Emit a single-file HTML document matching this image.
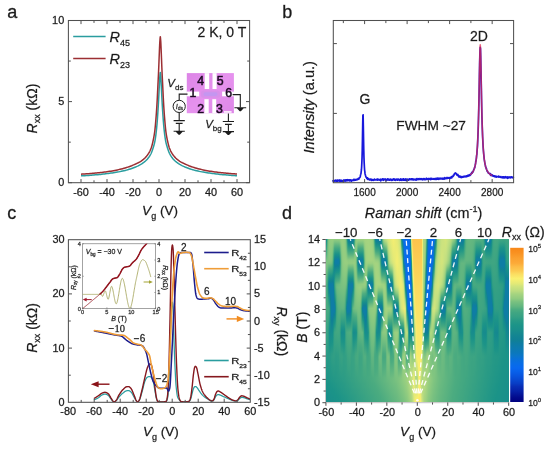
<!DOCTYPE html>
<html><head><meta charset="utf-8"><title>Figure</title>
<style>
html,body{margin:0;padding:0;background:#fff}
#fig{position:relative;width:550px;height:450px;overflow:hidden;background:#fff}
#fig svg{position:absolute;left:0;top:0;display:block;filter:blur(0.38px)}
#hm{position:absolute;left:325.8px;top:239.2px;width:183px;height:163.2px;display:flex;filter:blur(0.3px)}
#hm i{display:block;flex:1 1 0;height:100%}
</style></head><body>
<div id="fig">
<div id="hm"><i style="background:linear-gradient(#188e8b,#1e9587,#2c9c85,#39a283,#44a881,#52af80,#65b880,#77c080,#7fc480,#79c180,#74be80,#6ebc80,#68b980,#62b680,#5cb380,#55b080,#52ae80,#50ae80,#4fad80,#4dac80,#4bab80,#4bab80,#4aab80,#49aa80,#47a980,#45a881,#43a781,#41a681,#3fa582,#3da482,#3ba382,#39a283,#37a183,#36a183,#34a083,#329f84,#309e84,#2e9d84,#2c9c85,#2a9b85,#289a85,#279986,#259886,#239786,#219687,#209687,#1e9587,#1c9487,#1b9388,#1b9288,#1a9189,#1a918a,#19908a,#198f8b,#188e8b)"></i><i style="background:linear-gradient(#4ead80,#56b080,#5db480,#64b780,#6bba80,#71bd80,#78c080,#7ec380,#7ec380,#74be80,#69ba80,#5eb480,#53af80,#49aa80,#43a781,#3ca482,#3aa382,#3ca482,#3ea582,#40a681,#42a781,#44a881,#46a980,#48aa80,#46a980,#44a881,#42a781,#40a681,#3ea582,#3ba382,#39a283,#37a183,#35a083,#339f84,#319e84,#2f9d84,#2d9c85,#2b9b85,#299a85,#279986,#269986,#259886,#239786,#229786,#219687,#209687,#1e9587,#1d9487,#1b9388,#1b9288,#1a9289,#1a9189,#19908a,#198f8a,#188e8b)"></i><i style="background:linear-gradient(#7ec380,#7fc480,#7fc480,#80c480,#81c480,#81c580,#82c580,#82c580,#7bc280,#67b880,#51ae80,#42a781,#34a083,#249886,#19908a,#148890,#148890,#178d8c,#1a9189,#219687,#2b9b85,#34a083,#3ca482,#44a881,#43a781,#3fa582,#3ca482,#38a283,#34a083,#309e84,#2c9c85,#289a85,#289a85,#289a85,#289a85,#289a85,#289a85,#289a85,#279986,#279986,#269986,#259886,#249886,#229786,#219687,#209687,#1f9587,#1d9487,#1b9388,#1b9388,#1b9289,#1a9189,#1a908a,#19908a,#198f8b)"></i><i style="background:linear-gradient(#8eca80,#8cca80,#8bc980,#8ac980,#88c880,#87c780,#86c780,#84c680,#7ac180,#60b580,#47a980,#37a183,#249886,#188e8c,#128393,#0e7da5,#0e7da5,#0f7e9b,#138592,#168b8e,#1a918a,#219687,#2d9c85,#37a183,#34a083,#2f9d84,#2a9b85,#249886,#1e9587,#1b9289,#198f8a,#188d8c,#198f8b,#1a908a,#1b9289,#1b9388,#1f9587,#229786,#269986,#289a85,#279986,#269986,#249886,#239786,#229786,#219687,#209687,#1e9587,#1c9487,#1b9388,#1b9288,#1a9289,#1a9189,#19908a,#198f8b)"></i><i style="background:linear-gradient(#93cc80,#91cc80,#8fcb80,#8dca80,#8bc980,#88c880,#86c780,#84c680,#79c180,#5fb580,#47a980,#36a183,#229786,#188d8c,#118294,#0e7da5,#0e7da5,#0e7da5,#0e7da5,#0f7e9d,#108095,#128393,#148691,#15898f,#168a8e,#168a8e,#168a8e,#168a8e,#168b8e,#168b8e,#168b8e,#178b8d,#188d8c,#198f8a,#1a9189,#1b9388,#1f9587,#239786,#279986,#299a85,#289a85,#279986,#269986,#249886,#239786,#229786,#219687,#1f9587,#1d9487,#1b9388,#1b9388,#1b9289,#1a9189,#1a908a,#198f8a)"></i><i style="background:linear-gradient(#95cd80,#92cc80,#8fcb80,#8cca80,#89c880,#86c780,#83c580,#7fc480,#74be80,#5ab280,#44a881,#339f84,#209687,#178c8d,#118194,#0e7da5,#0e7da5,#0e7da5,#0e7da5,#0e7da5,#0e7da5,#0e7da5,#0e7da5,#0e7da5,#0e7da5,#0e7da5,#0f7e9d,#108095,#128393,#138691,#15898f,#178c8d,#188e8b,#19908a,#1b9288,#1d9487,#229786,#269986,#2b9b85,#2d9c85,#2c9c85,#2a9b85,#289a85,#279986,#259886,#239786,#229786,#209687,#1e9587,#1c9487,#1b9388,#1b9288,#1a9289,#1a9189,#19908a)"></i><i style="background:linear-gradient(#96ce80,#91cc80,#8bc980,#85c780,#7fc480,#79c180,#72be80,#6cbb80,#5fb480,#49aa80,#3aa382,#2b9b85,#1b9288,#168a8e,#108095,#0e7da5,#0e7da5,#0e7da5,#0e7da5,#0e7da5,#0e7da5,#0e7da5,#0e7da5,#0e7da5,#0e7da5,#0e7da5,#0e7e9f,#108095,#128393,#148791,#168a8e,#178d8c,#198f8b,#1a9189,#1b9388,#209687,#249886,#299a85,#2d9c85,#309e84,#2e9d84,#2c9c85,#2a9b85,#289a85,#279986,#259886,#239786,#219687,#1f9587,#1d9487,#1b9388,#1b9388,#1b9289,#1a9189,#1a908a)"></i><i style="background:linear-gradient(#96ce80,#89c880,#7bc280,#6cbb80,#5db480,#4cac80,#42a781,#38a283,#2f9d84,#279986,#1f9587,#1a9189,#188d8c,#15898f,#128492,#0f7f97,#0e7e9e,#0e7da2,#0e7da5,#0e7da5,#0e7da5,#0e7da5,#0e7da5,#0e7da5,#0e7da5,#0e7e9e,#118294,#148790,#178b8d,#19908a,#1d9487,#259886,#279986,#289a85,#2a9b85,#2b9b85,#2d9c85,#2f9d84,#309e84,#319e84,#2f9d84,#2d9c85,#2b9b85,#299a85,#289a85,#269986,#249886,#229786,#209687,#1e9587,#1c9487,#1b9388,#1b9288,#1a9189,#1a9189)"></i><i style="background:linear-gradient(#95cd80,#7ec380,#65b780,#4aab80,#39a283,#269986,#198f8b,#128492,#0f7f98,#128493,#15888f,#178d8c,#1a9189,#1e9587,#269986,#2e9d84,#2b9b85,#219687,#1a9189,#178c8d,#148790,#108195,#0e7da3,#0e7da5,#0e7da5,#108195,#148790,#188e8c,#1b9388,#269986,#329f84,#3ba382,#3aa382,#38a283,#37a183,#36a183,#34a083,#339f84,#319e84,#309e84,#2e9d84,#2d9c85,#2b9b85,#2a9b85,#289a85,#269986,#259886,#239786,#219687,#1f9587,#1d9487,#1b9388,#1b9388,#1b9289,#1a9189)"></i><i style="background:linear-gradient(#95cd80,#7bc280,#5eb480,#44a881,#309e84,#1b9388,#148790,#0e7da5,#0e7da5,#0f7f97,#15888f,#1a908a,#259886,#34a083,#42a781,#51ae80,#4fad80,#44a881,#3ba382,#309e84,#259886,#1b9288,#178d8c,#148791,#168a8e,#188e8b,#1b9288,#219687,#2a9b85,#329f84,#3aa382,#40a681,#3ea582,#3ca482,#39a283,#37a183,#34a083,#319e84,#2f9d84,#2d9c85,#2c9c85,#2b9b85,#2a9b85,#289a85,#279986,#269986,#259886,#249886,#229786,#209687,#1e9587,#1c9487,#1b9388,#1b9288,#1a9189)"></i><i style="background:linear-gradient(#95cd80,#7cc280,#5eb480,#44a881,#309e84,#1b9288,#148790,#0e7da5,#0e7da5,#108095,#168a8e,#1b9388,#2c9c85,#3ca482,#4aab80,#62b680,#66b880,#5fb480,#57b180,#4ead80,#48aa80,#44a881,#3fa582,#3aa382,#3aa382,#3ba382,#3da482,#3ea582,#3fa582,#40a681,#41a681,#42a781,#3fa582,#3da482,#3aa382,#38a283,#35a083,#329f84,#2f9d84,#2d9c85,#2c9c85,#2b9b85,#2a9b85,#299a85,#289a85,#279986,#269986,#259886,#239786,#219687,#1f9587,#1d9487,#1b9388,#1b9388,#1a9289)"></i><i style="background:linear-gradient(#96ce80,#7cc280,#5fb480,#44a881,#309e84,#1b9388,#148790,#0e7da5,#0e7da5,#108095,#168b8e,#1c9487,#2f9d84,#3fa582,#4fad80,#68b980,#6fbc80,#6aba80,#66b880,#61b680,#5cb380,#57b180,#53af80,#4eac80,#4bab80,#4aab80,#49aa80,#48aa80,#47a980,#45a881,#44a881,#43a781,#40a681,#3ea582,#3ba382,#38a283,#36a183,#339f84,#309e84,#2e9d84,#2d9c85,#2c9c85,#2b9b85,#2a9b85,#299a85,#289a85,#279986,#269986,#249886,#229786,#209687,#1e9587,#1c9487,#1b9388,#1b9288)"></i><i style="background:linear-gradient(#96ce80,#7cc280,#5fb580,#45a881,#319e84,#1b9388,#148790,#0e7da5,#0e7da5,#108194,#178c8d,#1e9587,#309e84,#41a681,#52af80,#6cbb80,#72be80,#6ebc80,#6bba80,#67b880,#63b680,#5fb580,#5bb380,#57b180,#53af80,#50ae80,#4dac80,#4aab80,#48aa80,#47a980,#45a881,#43a781,#40a681,#3ea582,#3ca482,#39a283,#37a183,#34a083,#319e84,#2f9d84,#2e9d84,#2d9c85,#2c9c85,#2b9b85,#2a9b85,#299a85,#289a85,#269986,#259886,#239786,#219687,#1f9587,#1d9487,#1b9388,#1b9388)"></i><i style="background:linear-gradient(#97ce80,#80c480,#66b880,#4aab80,#39a283,#269986,#198f8b,#128493,#108095,#168a8e,#1a9289,#299a85,#38a283,#46a980,#59b280,#6fbc80,#74bf80,#71bd80,#6dbb80,#6aba80,#66b880,#62b680,#5eb480,#5bb380,#56b080,#51ae80,#4dac80,#49aa80,#47a980,#44a881,#41a681,#3fa582,#3ea582,#3ca482,#3ba382,#3aa382,#38a283,#37a183,#36a183,#34a083,#339f84,#319e84,#309e84,#2e9d84,#2c9c85,#2b9b85,#299a85,#279986,#269986,#249886,#229786,#209687,#1e9587,#1c9487,#1b9388)"></i><i style="background:linear-gradient(#98cf80,#8cca80,#7dc380,#6ebc80,#5fb480,#4ead80,#43a781,#39a283,#35a083,#3da482,#43a781,#4aab80,#54b080,#5fb580,#6aba80,#75bf80,#76c080,#73be80,#6fbc80,#6cbb80,#68b980,#64b780,#61b580,#5db480,#54b080,#4bab80,#46a980,#40a681,#3aa382,#34a083,#2e9d84,#289a85,#2a9b85,#2c9c85,#2e9d84,#309e84,#329f84,#34a083,#36a183,#37a183,#35a083,#339f84,#319e84,#309e84,#2e9d84,#2c9c85,#2a9b85,#289a85,#269986,#259886,#239786,#219687,#1f9587,#1d9487,#1b9388)"></i><i style="background:linear-gradient(#99cf80,#95cd80,#90cb80,#8bc980,#85c780,#80c480,#7ac180,#74be80,#71bd80,#72be80,#73be80,#75bf80,#76bf80,#77c080,#78c180,#7ac180,#78c080,#74bf80,#71bd80,#6dbb80,#6aba80,#66b880,#62b680,#5eb480,#51ae80,#47a980,#3ea582,#35a083,#2b9b85,#219687,#1a9189,#178d8c,#198f8a,#1b9289,#1e9587,#249886,#2a9b85,#2f9d84,#35a083,#37a183,#36a183,#34a083,#329f84,#309e84,#2f9d84,#2d9c85,#2b9b85,#299a85,#279986,#269986,#249886,#229786,#209687,#1e9587,#1c9487)"></i><i style="background:linear-gradient(#99cf80,#97ce80,#96ce80,#94cd80,#92cc80,#90cb80,#8eca80,#8cca80,#89c980,#88c880,#86c780,#84c680,#82c580,#80c480,#7ec380,#7cc280,#79c180,#76bf80,#72be80,#6ebc80,#6bba80,#67b880,#63b780,#5fb580,#52af80,#47a980,#3ea582,#35a083,#2b9b85,#209687,#1a908a,#178c8d,#198f8b,#1a9189,#1d9487,#239786,#289a85,#2e9d84,#339f84,#36a183,#35a083,#339f84,#329f84,#309e84,#2f9d84,#2d9c85,#2c9c85,#2a9b85,#289a85,#269986,#259886,#239786,#219687,#1f9587,#1d9487)"></i><i style="background:linear-gradient(#98cf80,#97ce80,#97ce80,#96ce80,#95cd80,#94cd80,#94cd80,#93cc80,#91cc80,#8fcb80,#8cca80,#89c880,#86c780,#83c680,#81c480,#7ec380,#7ac180,#76c080,#72be80,#6fbc80,#6bba80,#67b880,#62b680,#5eb480,#51ae80,#46a980,#3ea582,#35a083,#2b9b85,#209687,#1a9189,#178c8d,#198f8b,#1a9189,#1b9388,#209687,#259886,#2a9b85,#2f9d84,#329f84,#319e84,#309e84,#309e84,#2f9d84,#2e9d84,#2d9c85,#2c9c85,#2b9b85,#299a85,#279986,#269986,#249886,#229786,#209687,#1e9587)"></i><i style="background:linear-gradient(#94cd80,#94cd80,#94cd80,#95cd80,#95cd80,#95cd80,#95cd80,#96ce80,#95cd80,#92cc80,#8fcb80,#8cca80,#88c880,#85c680,#81c580,#7ec380,#7ac180,#75bf80,#70bd80,#6bba80,#66b880,#61b680,#5cb380,#56b180,#4bab80,#44a881,#3ca482,#34a083,#2c9c85,#239786,#1b9288,#198f8b,#1a9189,#1b9388,#1e9587,#239786,#279986,#2c9c85,#309e84,#329f84,#329f84,#319e84,#309e84,#309e84,#2f9d84,#2e9d84,#2d9c85,#2c9c85,#2a9b85,#299a85,#279986,#259886,#239786,#219687,#1f9587)"></i><i style="background:linear-gradient(#87c780,#89c880,#8bc980,#8eca80,#90cb80,#92cc80,#94cd80,#97ce80,#96ce80,#93cc80,#8fcb80,#8bc980,#87c880,#83c680,#7fc480,#7bc280,#74be80,#6bba80,#61b680,#58b180,#4dac80,#47a980,#41a681,#3ba382,#3aa382,#39a283,#38a283,#37a183,#36a183,#35a083,#34a083,#339f84,#339f84,#339f84,#339f84,#339f84,#339f84,#34a083,#34a083,#339f84,#339f84,#329f84,#319e84,#319e84,#309e84,#2f9d84,#2f9d84,#2d9c85,#2b9b85,#2a9b85,#289a85,#269986,#249886,#229786,#209687)"></i><i style="background:linear-gradient(#59b280,#62b680,#6cbb80,#74bf80,#7dc380,#85c780,#8dca80,#95cd80,#97ce80,#91cc80,#8cca80,#85c780,#7fc380,#78c080,#71bd80,#6aba80,#5cb380,#4aab80,#3fa582,#339f84,#259886,#1a9189,#168b8e,#118393,#148790,#178c8c,#1a9289,#229786,#2c9c85,#36a183,#3fa582,#47a980,#45a881,#43a781,#41a681,#3ea582,#3ca482,#3aa382,#38a283,#36a183,#35a083,#34a083,#339f84,#329f84,#329f84,#319e84,#309e84,#2e9d84,#2d9c85,#2b9b85,#299a85,#279986,#259886,#239786,#219687)"></i><i style="background:linear-gradient(#1a908a,#259886,#35a083,#43a781,#53af80,#69b980,#7ec380,#90cb80,#96ce80,#89c880,#7bc280,#6cbb80,#5cb380,#4bab80,#42a781,#37a183,#2d9c85,#229786,#1a9189,#178c8d,#148691,#108095,#0e7da5,#0e7da5,#0e7da5,#118294,#168a8e,#1a9289,#279986,#34a083,#41a681,#4cac80,#4aab80,#48aa80,#46a980,#44a881,#42a781,#40a681,#3ea582,#3ca482,#3ba382,#39a283,#38a283,#36a183,#34a083,#339f84,#319e84,#2f9d84,#2e9d84,#2c9c85,#2a9b85,#289a85,#269986,#249886,#239786)"></i><i style="background:linear-gradient(#0e7da5,#138592,#1a918a,#2c9c85,#40a681,#56b080,#73be80,#8dca80,#93cc80,#7bc280,#60b580,#47a980,#35a083,#219687,#178c8d,#108095,#0e7da3,#0e7da5,#0e7da5,#0e7da5,#0e7da5,#0e7da5,#0e7da5,#0e7da5,#0e7da5,#118294,#168b8e,#1b9289,#289a85,#36a183,#43a781,#4fad80,#4cac80,#4aab80,#48aa80,#46a980,#44a881,#43a781,#41a681,#3fa582,#3da482,#3ba382,#3aa382,#38a283,#36a183,#34a083,#329f84,#319e84,#2f9d84,#2d9c85,#2b9b85,#299a85,#289a85,#269986,#249886)"></i><i style="background:linear-gradient(#0e7da5,#118194,#188e8b,#289a85,#3da482,#53af80,#72be80,#8eca80,#93cc80,#78c080,#5ab280,#41a681,#2d9c85,#1a918a,#128492,#0e7da5,#0e7da5,#0e7da5,#0e7da5,#0e7da5,#0e7da5,#0e7da5,#0e7da5,#0e7da5,#0e7da5,#118393,#168b8d,#1b9288,#299a85,#37a183,#44a881,#51ae80,#4dac80,#4bab80,#49aa80,#47a980,#45a881,#43a781,#41a681,#40a681,#3ea582,#3ca482,#3aa382,#39a283,#37a183,#35a083,#339f84,#329f84,#309e84,#2e9d84,#2c9c85,#2b9b85,#299a85,#279986,#259886)"></i><i style="background:linear-gradient(#0e7da5,#118194,#188e8b,#289a85,#3da482,#54af80,#73be80,#8ecb80,#93cd80,#79c180,#5ab380,#41a681,#2d9c85,#1a918a,#128492,#0e7da5,#0e7da5,#0e7da5,#0e7da5,#0e7da5,#0e7da5,#0e7da5,#0e7da5,#0e7da5,#0e7e9e,#138592,#178d8c,#1c9487,#2a9b85,#38a283,#44a881,#50ad80,#4cac80,#4aab80,#48aa80,#45a881,#43a781,#41a681,#3fa582,#3da482,#3ca482,#3ba382,#39a283,#38a283,#37a183,#36a183,#34a083,#339f84,#319e84,#2f9d84,#2d9c85,#2c9c85,#2a9b85,#289a85,#269986)"></i><i style="background:linear-gradient(#0e7da5,#118194,#188e8b,#289a85,#3da482,#54b080,#73be80,#8fcb80,#94cd80,#79c180,#5bb380,#42a781,#2d9c85,#1a918a,#128492,#0e7da5,#0e7da5,#0e7da5,#0f7e9d,#108194,#138691,#168a8e,#188e8c,#1a9189,#1d9487,#249886,#2a9b85,#319e84,#37a183,#3ca482,#42a781,#47a980,#45a881,#43a781,#41a681,#3fa582,#3da482,#3ba382,#39a283,#38a283,#38a283,#37a183,#37a183,#36a183,#36a183,#35a083,#35a083,#34a083,#329f84,#309e84,#2f9d84,#2d9c85,#2b9b85,#299a85,#279986)"></i><i style="background:linear-gradient(#0e7da5,#118294,#198f8b,#299a85,#3ea582,#55b080,#74be80,#8fcb80,#94cd80,#7ac180,#5db480,#43a781,#2f9d84,#1a9289,#138691,#0e7da5,#0e7da5,#118294,#168a8e,#1a9189,#269986,#34a083,#41a681,#4ead80,#4aab80,#46a980,#41a681,#3ba382,#36a183,#309e84,#2b9b85,#259886,#289a85,#2b9b85,#2d9c85,#309e84,#329f84,#35a083,#37a183,#39a283,#38a283,#38a283,#38a283,#37a183,#37a183,#37a183,#36a183,#35a083,#339f84,#329f84,#309e84,#2e9d84,#2c9c85,#2a9b85,#289a85)"></i><i style="background:linear-gradient(#108095,#178b8d,#209687,#34a083,#45a881,#5db480,#78c080,#90cb80,#96ce80,#82c580,#6dbb80,#55b080,#43a781,#34a083,#239786,#198f8b,#198f8a,#1f9587,#2b9b85,#36a183,#40a681,#4aab80,#5ab280,#6aba80,#5fb580,#4ead80,#44a881,#3aa382,#2f9d84,#249886,#1a9289,#178d8c,#198f8a,#1b9288,#1f9587,#259886,#2b9b85,#319e84,#36a183,#3aa382,#39a283,#39a283,#39a283,#38a283,#38a283,#38a283,#37a183,#36a183,#34a083,#339f84,#319e84,#2f9d84,#2d9c85,#2b9b85,#299a85)"></i><i style="background:linear-gradient(#37a183,#41a681,#4aab80,#59b280,#69b980,#78c080,#86c780,#92cc80,#97ce80,#8fcb80,#87c880,#7fc480,#76bf80,#6dbb80,#63b780,#5ab280,#58b280,#5cb380,#60b580,#64b780,#68b980,#6cbb80,#70bd80,#74be80,#66b880,#55b080,#47a980,#3ca482,#319e84,#259886,#1b9289,#178c8c,#19908a,#1b9388,#219687,#279986,#2e9d84,#34a083,#3aa382,#3da482,#3da482,#3ca482,#3ba382,#3ba382,#3aa382,#39a283,#39a283,#37a183,#35a083,#34a083,#329f84,#309e84,#2e9d84,#2c9c85,#2b9b85)"></i><i style="background:linear-gradient(#7ac180,#7dc380,#80c480,#82c580,#85c780,#88c880,#8bc980,#8eca80,#8fcb80,#8dca80,#8cca80,#8ac980,#88c880,#87c780,#85c780,#84c680,#82c580,#81c480,#7fc480,#7ec380,#7cc280,#7bc280,#7ac180,#78c080,#6aba80,#59b280,#49aa80,#3ea582,#339f84,#269986,#1b9288,#188d8c,#1a9189,#1d9487,#259886,#2d9c85,#34a083,#3ba382,#41a681,#45a881,#43a781,#42a781,#40a681,#3fa582,#3da482,#3ca482,#3aa382,#38a283,#37a183,#35a083,#339f84,#319e84,#2f9d84,#2e9d84,#2c9c85)"></i><i style="background:linear-gradient(#95cd80,#90cb80,#8ac980,#84c680,#7ec380,#78c080,#71bd80,#6aba80,#69b980,#6ebc80,#74be80,#79c180,#7fc480,#84c680,#89c880,#8ecb80,#8ecb80,#8cca80,#89c880,#86c780,#83c680,#80c480,#7ec380,#7bc280,#6ebb80,#5eb480,#4eac80,#43a781,#39a283,#2f9d84,#239786,#1b9288,#1f9587,#269986,#2d9c85,#339f84,#39a283,#3fa582,#44a881,#47a980,#46a980,#44a881,#42a781,#41a681,#3fa582,#3da482,#3ba382,#39a283,#38a283,#36a183,#34a083,#329f84,#319e84,#2f9d84,#2d9c85)"></i><i style="background:linear-gradient(#9dd080,#8cca80,#79c180,#65b780,#4fad80,#40a681,#329f84,#239786,#1f9587,#2d9c85,#3ba382,#47a980,#58b180,#6bba80,#7ec380,#8fcb80,#93cc80,#90cb80,#8dca80,#8ac980,#86c780,#83c680,#80c480,#7cc280,#75bf80,#6ebc80,#66b880,#5eb480,#55b080,#4dac80,#47a980,#43a781,#44a881,#44a881,#45a881,#46a980,#46a980,#47a980,#48aa80,#48aa80,#46a980,#44a881,#43a781,#41a681,#40a681,#3ea582,#3ca482,#3ba382,#39a283,#37a183,#35a083,#339f84,#329f84,#309e84,#2e9d84)"></i><i style="background:linear-gradient(#9fd180,#87c780,#6aba80,#4bab80,#38a283,#229786,#178b8d,#0f7f9a,#0e7da3,#148790,#1b9288,#2f9d84,#42a781,#59b280,#75bf80,#8fcb80,#95cd80,#92cc80,#8fcb80,#8bc980,#88c880,#84c680,#81c480,#7dc380,#79c180,#75bf80,#71bd80,#6dbb80,#69b980,#64b780,#60b580,#5cb380,#58b180,#54af80,#50ad80,#4bab80,#49aa80,#47a980,#45a881,#43a781,#42a781,#41a681,#40a681,#40a681,#3fa582,#3ea582,#3da482,#3ca482,#3aa382,#38a283,#36a183,#35a083,#339f84,#319e84,#2f9d84)"></i><i style="background:linear-gradient(#a0d280,#87c780,#69b980,#49aa80,#35a083,#1d9487,#15888f,#0e7da5,#0e7da5,#128492,#1a908a,#2c9c85,#40a681,#57b180,#75bf80,#90cb80,#97ce80,#93cc80,#8fcb80,#8bc980,#87c880,#83c680,#7fc480,#7bc280,#78c080,#75bf80,#72be80,#6fbc80,#6cbb80,#69ba80,#66b880,#63b780,#5db480,#57b180,#51ae80,#4bab80,#47a980,#44a881,#40a681,#3da482,#3da482,#3da482,#3da482,#3ea582,#3ea582,#3ea582,#3ea582,#3da482,#3ba382,#39a283,#37a183,#36a183,#34a083,#329f84,#309e84)"></i><i style="background:linear-gradient(#a1d280,#87c780,#69b980,#49aa80,#35a083,#1d9487,#15888f,#0e7da5,#0e7da5,#128492,#1a908a,#2c9c85,#41a681,#59b280,#77c080,#91cc80,#97ce80,#91cc80,#8cca80,#86c780,#80c480,#79c180,#73be80,#6cbb80,#6bba80,#6aba80,#69ba80,#69b980,#68b980,#68b980,#67b880,#66b880,#60b580,#59b280,#53af80,#4cac80,#48aa80,#45a881,#41a681,#3ea582,#3ea582,#3ea582,#3ea582,#3ea582,#3fa582,#3fa582,#3fa582,#3ea582,#3ca482,#3aa382,#39a283,#37a183,#35a083,#339f84,#319e84)"></i><i style="background:linear-gradient(#a1d280,#87c880,#69ba80,#49aa80,#35a083,#1d9487,#15888f,#0e7da5,#0e7da5,#128492,#1a918a,#2d9c85,#41a681,#5ab280,#78c080,#93cc80,#94cd80,#87c880,#79c180,#6bba80,#5bb380,#4bab80,#42a781,#38a283,#3ba382,#40a681,#45a881,#49aa80,#50ae80,#58b180,#60b580,#67b880,#61b680,#5bb380,#54b080,#4ead80,#49aa80,#46a980,#42a781,#3fa582,#3fa582,#3fa582,#3fa582,#40a681,#40a681,#40a681,#40a681,#3fa582,#3da482,#3ba382,#3aa382,#38a283,#36a183,#34a083,#329f84)"></i><i style="background:linear-gradient(#a1d280,#88c880,#6bba80,#4bab80,#37a183,#209687,#168a8e,#0e7e9f,#0e7da5,#148691,#1b9289,#2f9d84,#43a781,#5cb380,#7ac180,#94cd80,#8fcb80,#76bf80,#5ab280,#43a781,#309e84,#1b9388,#15898f,#0e7e9e,#118294,#168b8e,#1b9288,#289a85,#36a183,#43a781,#51ae80,#64b780,#60b580,#5bb380,#56b180,#52ae80,#4dac80,#4aab80,#47a980,#45a881,#44a881,#44a881,#43a781,#43a781,#42a781,#42a781,#41a681,#40a681,#3ea582,#3da482,#3ba382,#39a283,#37a183,#35a083,#34a083)"></i><i style="background:linear-gradient(#a2d280,#8fcb80,#79c180,#61b680,#49aa80,#3aa382,#289a85,#1a918a,#188e8b,#239786,#34a083,#43a781,#55b080,#6dbb80,#82c580,#96ce80,#8eca80,#72be80,#53af80,#3da482,#289a85,#188e8b,#118194,#0e7da5,#0e7da5,#118294,#168a8e,#1a9189,#269986,#34a083,#41a681,#4cac80,#4dac80,#4dac80,#4eac80,#4ead80,#4ead80,#4fad80,#4fad80,#4fad80,#4cac80,#4aab80,#49aa80,#47a980,#46a980,#44a881,#43a781,#41a681,#3fa582,#3ea582,#3ca482,#3aa382,#38a283,#37a183,#35a083)"></i><i style="background:linear-gradient(#a4d380,#9bd080,#93cc80,#8ac980,#80c480,#76bf80,#6bba80,#60b580,#5db480,#67b880,#70bd80,#79c180,#81c580,#89c980,#91cc80,#98cf80,#8cca80,#70bd80,#51ae80,#3ca482,#279986,#188e8c,#108195,#0e7da5,#0e7da5,#0e7da5,#0f7f97,#128492,#15898f,#188d8c,#1a9189,#1e9587,#269986,#2d9c85,#34a083,#3aa382,#40a681,#46a980,#4dac80,#53af80,#50ae80,#4dac80,#4bab80,#49aa80,#47a980,#46a980,#44a881,#42a781,#40a681,#3fa582,#3da482,#3ba382,#39a283,#38a283,#36a183)"></i><i style="background:linear-gradient(#a5d480,#a2d280,#9fd180,#9dd080,#9acf80,#97ce80,#94cd80,#92cc80,#90cb80,#91cc80,#91cc80,#92cc80,#92cc80,#92cc80,#93cc80,#93cd80,#84c680,#69b980,#4bab80,#39a283,#249886,#178d8c,#108095,#0e7da5,#0e7da5,#0e7da5,#0e7da2,#0f7f98,#118294,#138591,#15898f,#178c8d,#1a9189,#1f9587,#299a85,#329f84,#3ba382,#43a781,#4aab80,#52af80,#4fad80,#4dac80,#4bab80,#49aa80,#48aa80,#46a980,#45a881,#43a781,#41a681,#40a681,#3ea582,#3ca482,#3ba382,#39a283,#37a183)"></i><i style="background:linear-gradient(#a5d480,#a4d380,#a3d380,#a3d380,#a2d280,#a1d280,#a0d280,#a0d280,#9dd180,#98ce80,#93cc80,#8dca80,#87c880,#81c580,#7bc280,#75bf80,#65b780,#4ead80,#3fa582,#319e84,#209687,#188e8c,#138592,#0e7da3,#0e7da2,#0f7e9b,#108095,#118393,#138592,#148790,#168a8e,#178c8d,#19908a,#1d9487,#259886,#2d9c85,#35a083,#3ca482,#43a781,#47a980,#47a980,#47a980,#46a980,#46a980,#46a980,#46a980,#45a881,#44a881,#43a781,#41a681,#3fa582,#3da482,#3ca482,#3aa382,#38a283)"></i><i style="background:linear-gradient(#a5d480,#a5d480,#a4d380,#a4d380,#a4d380,#a4d380,#a4d380,#a4d380,#9dd180,#8dca80,#7bc280,#67b880,#52ae80,#43a781,#35a083,#269986,#229786,#259886,#289a85,#2b9b85,#2d9c85,#309e84,#329f84,#35a083,#319e84,#2c9c85,#279986,#229786,#1c9487,#1a9189,#198f8b,#178d8c,#19908a,#1b9388,#239786,#2a9b85,#319e84,#37a183,#3da482,#42a781,#42a781,#43a781,#43a781,#44a881,#45a881,#45a881,#46a980,#45a881,#44a881,#42a781,#40a681,#3ea582,#3da482,#3ba382,#39a283)"></i><i style="background:linear-gradient(#a5d480,#a5d480,#a5d480,#a5d480,#a5d480,#a5d480,#a5d480,#a5d480,#9cd080,#82c580,#65b780,#48aa80,#34a083,#1d9487,#15898f,#0e7da3,#0e7e9f,#148790,#19908a,#269986,#37a183,#46a980,#5bb380,#72be80,#6bba80,#5db480,#4fad80,#46a980,#3da482,#34a083,#2b9b85,#229786,#279986,#2b9b85,#309e84,#34a083,#38a283,#3ca482,#40a681,#42a781,#43a781,#44a881,#44a881,#45a881,#46a980,#46a980,#47a980,#46a980,#45a881,#43a781,#41a681,#40a681,#3ea582,#3ca482,#3aa382)"></i><i style="background:linear-gradient(#a4d380,#a4d380,#a4d380,#a5d480,#a5d480,#a5d480,#a5d480,#a5d480,#9cd080,#81c580,#62b680,#45a881,#309e84,#1a9289,#138592,#0e7da5,#0e7da5,#138591,#1a908a,#2a9b85,#3da482,#50ae80,#6dbb80,#87c780,#85c680,#7fc480,#79c180,#72be80,#6cbb80,#65b780,#5eb480,#57b180,#54af80,#50ae80,#4dac80,#4aab80,#49aa80,#47a980,#45a881,#44a881,#44a881,#45a881,#46a980,#46a980,#47a980,#47a980,#48aa80,#47a980,#46a980,#44a881,#42a781,#41a681,#3fa582,#3da482,#3ba382)"></i><i style="background:linear-gradient(#a3d380,#a3d380,#a4d380,#a4d380,#a4d380,#a4d380,#a5d480,#a5d480,#9cd080,#81c580,#62b680,#45a881,#309e84,#1a9289,#138592,#0e7da5,#0e7da5,#138691,#1a9189,#2d9c85,#40a681,#56b080,#73be80,#8dca80,#8dca80,#8ac980,#86c780,#82c580,#7ec380,#7ac180,#76c080,#72be80,#6ebc80,#69b980,#64b780,#60b580,#5bb380,#56b080,#51ae80,#4dac80,#4cac80,#4bab80,#4bab80,#4bab80,#4aab80,#4aab80,#4aab80,#48aa80,#47a980,#45a881,#43a781,#42a781,#40a681,#3ea582,#3da482)"></i><i style="background:linear-gradient(#a0d280,#a1d280,#a1d280,#a2d380,#a3d380,#a3d380,#a4d380,#a5d480,#9cd080,#81c580,#62b680,#45a881,#309e84,#1a9289,#138591,#0e7da5,#0e7da5,#148791,#1a9289,#2e9d84,#41a681,#59b280,#76bf80,#8fcb80,#90cb80,#8dca80,#8ac980,#87c780,#83c680,#80c480,#7cc280,#79c180,#76bf80,#72be80,#6fbc80,#6cbb80,#68b980,#65b780,#61b680,#5eb480,#5bb380,#58b280,#56b080,#53af80,#50ae80,#4dac80,#4bab80,#4aab80,#48aa80,#46a980,#45a881,#43a781,#41a681,#3fa582,#3ea582)"></i><i style="background:linear-gradient(#99cf80,#9bd080,#9cd080,#9ed180,#9fd180,#a1d280,#a3d380,#a4d380,#9cd080,#84c680,#67b880,#49aa80,#36a183,#209687,#168a8e,#0f7e9c,#108095,#178c8d,#209687,#34a083,#46a980,#5fb480,#79c180,#91cc80,#92cc80,#8fcb80,#8cca80,#89c880,#85c780,#82c580,#7fc480,#7bc280,#78c080,#75bf80,#72bd80,#6fbc80,#6bba80,#68b980,#65b780,#61b680,#5fb480,#5cb380,#59b280,#56b080,#53af80,#50ae80,#4dac80,#4bab80,#49aa80,#47a980,#46a980,#44a881,#42a781,#41a681,#3fa582)"></i><i style="background:linear-gradient(#80c480,#86c780,#8bc980,#90cb80,#94cd80,#99cf80,#9ed180,#a2d380,#a0d280,#91cc80,#82c580,#71bd80,#5fb580,#4bab80,#40a681,#34a083,#36a183,#41a681,#4aab80,#5ab280,#6aba80,#79c180,#87c780,#94cd80,#93cc80,#90cb80,#8dca80,#89c880,#86c780,#82c580,#7fc480,#7bc280,#78c080,#74bf80,#71bd80,#6dbb80,#69ba80,#66b880,#62b680,#5eb480,#5cb380,#5ab280,#58b180,#55b080,#53af80,#51ae80,#4ead80,#4cac80,#4aab80,#48aa80,#47a980,#45a881,#43a781,#42a781,#40a681)"></i><i style="background:linear-gradient(#3da482,#47a980,#55b080,#65b880,#75bf80,#84c680,#91cc80,#9ed180,#a3d380,#9fd180,#9bd080,#96ce80,#92cc80,#8dca80,#89c880,#84c680,#84c680,#86c780,#89c880,#8bc980,#8eca80,#90cb80,#92cc80,#95cd80,#92cc80,#8ecb80,#8ac980,#86c780,#82c580,#7ec380,#79c180,#75bf80,#6fbc80,#6aba80,#64b780,#5fb480,#59b280,#53af80,#4dac80,#4aab80,#4aab80,#4bab80,#4bab80,#4cac80,#4dac80,#4ead80,#4fad80,#4ead80,#4bab80,#49aa80,#48aa80,#46a980,#44a881,#43a781,#41a681)"></i><i style="background:linear-gradient(#118294,#188d8c,#249886,#38a283,#4aab80,#66b880,#80c480,#98ce80,#a4d380,#a3d380,#a3d380,#a2d280,#a1d280,#a0d280,#9fd180,#9fd180,#9dd180,#9cd080,#9acf80,#98ce80,#96ce80,#94cd80,#92cc80,#91cc80,#8ac980,#82c580,#79c180,#71bd80,#68b980,#5fb480,#55b080,#4cac80,#4bab80,#4aab80,#49aa80,#48aa80,#47a980,#46a980,#45a881,#45a881,#46a980,#47a980,#49aa80,#4aab80,#4bab80,#4ead80,#50ae80,#50ad80,#4dac80,#4aab80,#49aa80,#47a980,#46a980,#44a881,#42a781)"></i><i style="background:linear-gradient(#0e7da5,#128393,#19908a,#2c9c85,#41a681,#5bb380,#7ac180,#95cd80,#a4d380,#a4d380,#a4d380,#a5d480,#a5d480,#a5d480,#a5d480,#a6d480,#a2d380,#9dd080,#97ce80,#92cc80,#8cca80,#85c780,#7fc380,#78c080,#6aba80,#5ab280,#4aab80,#40a681,#36a183,#2b9b85,#1f9587,#19908a,#1b9388,#229786,#299a85,#2f9d84,#35a083,#3ba382,#41a681,#45a881,#47a980,#48aa80,#4aab80,#4bab80,#4dac80,#50ad80,#52af80,#52ae80,#4fad80,#4cac80,#4aab80,#48aa80,#47a980,#45a881,#43a781)"></i><i style="background:linear-gradient(#0e7da5,#118294,#198f8b,#2a9b85,#3fa582,#58b180,#77c080,#93cc80,#a2d280,#a3d380,#a4d380,#a4d380,#a5d480,#a6d480,#a7d480,#a8d580,#9fd180,#8fcb80,#7dc380,#6aba80,#55b080,#45a881,#38a283,#299a85,#249886,#209687,#1b9388,#1a9289,#19908a,#188e8c,#178c8d,#168a8e,#188e8b,#1b9288,#229786,#2b9b85,#339f84,#3ba382,#42a781,#47a980,#48aa80,#4aab80,#4bab80,#4dac80,#4fad80,#52ae80,#54b080,#54af80,#51ae80,#4eac80,#4bab80,#49aa80,#48aa80,#46a980,#44a881)"></i><i style="background:linear-gradient(#0e7da5,#118194,#188e8b,#289a85,#3da482,#53af80,#72bd80,#8dca80,#9dd080,#9ed180,#a0d280,#a2d280,#a3d380,#a5d480,#a7d480,#a8d580,#9acf80,#80c480,#62b680,#45a881,#309e84,#1b9288,#138691,#0e7da5,#0e7da5,#0e7da4,#0f7e9c,#108095,#118293,#138592,#148890,#168a8e,#19908a,#1e9587,#299a85,#339f84,#3da482,#46a980,#50ae80,#5ab380,#5ab280,#5ab280,#59b280,#59b280,#58b180,#58b180,#57b180,#56b080,#53af80,#50ad80,#4dac80,#4aab80,#49aa80,#47a980,#46a980)"></i><i style="background:linear-gradient(#0e7da5,#108095,#178c8d,#209687,#35a083,#46a980,#60b580,#7bc280,#8cca80,#90cb80,#94cd80,#98ce80,#9cd080,#a0d280,#a4d380,#a8d580,#9acf80,#7ec380,#5eb480,#42a781,#2c9c85,#19908a,#118294,#0e7da5,#0e7da5,#0e7da5,#0e7da3,#0f7f99,#118294,#138592,#15888f,#178b8d,#1a9189,#249886,#309e84,#3ba382,#45a881,#51ae80,#62b680,#6cbb80,#6aba80,#67b880,#65b780,#62b680,#60b580,#5db480,#5ab280,#58b180,#55b080,#52ae80,#4fad80,#4cac80,#4aab80,#48aa80,#47a980)"></i><i style="background:linear-gradient(#0e7da5,#0f7f99,#138691,#188d8c,#1c9487,#299a85,#36a183,#41a681,#4bab80,#5ab280,#68b980,#76bf80,#83c580,#8fcb80,#9acf80,#a5d480,#9acf80,#7ec380,#5eb480,#42a781,#2c9c85,#19908a,#118294,#0e7da5,#0e7da5,#0e7e9e,#118393,#15898f,#188e8b,#1b9388,#259886,#2f9d84,#36a183,#3da482,#43a781,#4aab80,#53af80,#5eb480,#69b980,#6fbc80,#6cbb80,#6aba80,#67b880,#65b780,#62b680,#5fb580,#5cb380,#5ab280,#57b180,#54af80,#51ae80,#4ead80,#4bab80,#49aa80,#48aa80)"></i><i style="background:linear-gradient(#188e8b,#178d8c,#178b8d,#168a8e,#15898f,#148790,#138691,#128492,#158890,#1b9288,#2e9d84,#41a681,#56b080,#72be80,#8bc980,#a1d280,#99cf80,#7ec380,#5eb480,#43a781,#2d9c85,#19908a,#118393,#0e7da5,#0e7da3,#138691,#198f8b,#259886,#36a183,#45a881,#5ab280,#70bc80,#6fbc80,#6ebc80,#6dbb80,#6cbb80,#6bba80,#6bba80,#6aba80,#69b980,#67b880,#66b880,#64b780,#62b680,#61b680,#5fb580,#5eb480,#5cb380,#59b280,#56b080,#53af80,#50ad80,#4dac80,#4bab80,#49aa80)"></i><i style="background:linear-gradient(#61b580,#4aab80,#3da482,#2d9c85,#1c9487,#178c8d,#118293,#0e7da5,#0e7da5,#148791,#1b9388,#339f84,#47a980,#66b880,#85c680,#9fd180,#9bd080,#84c680,#6aba80,#4ead80,#3ca482,#299a85,#19908a,#138592,#168b8d,#1b9388,#2c9c85,#3ba382,#49aa80,#5eb480,#74be80,#86c780,#7fc480,#77c080,#70bd80,#68b980,#60b580,#58b180,#4fad80,#4bab80,#4dac80,#50ad80,#53af80,#55b080,#58b180,#5bb380,#5eb480,#5db480,#5bb380,#58b180,#55b080,#52ae80,#4fad80,#4cac80,#4aab80)"></i><i style="background:linear-gradient(#9dd180,#84c680,#66b880,#48aa80,#339f84,#1c9487,#148890,#0e7da5,#0e7da5,#138591,#1b9289,#319e84,#46a980,#64b780,#82c580,#9dd080,#a0d280,#98ce80,#8fcb80,#85c680,#7ac180,#6fbc80,#64b780,#58b180,#5db480,#64b780,#6bba80,#72be80,#79c180,#80c480,#86c780,#8bc980,#83c580,#7ac180,#70bd80,#67b880,#5db380,#52af80,#49aa80,#46a980,#48aa80,#4bab80,#4ead80,#53af80,#57b180,#5bb380,#5fb580,#5fb580,#5db480,#5ab280,#57b180,#54af80,#51ae80,#4ead80,#4bab80)"></i><i style="background:linear-gradient(#b5da80,#9bd080,#7dc380,#5ab280,#3ea582,#259886,#168b8e,#0e7da3,#0e7da5,#138592,#1a9189,#2f9d84,#44a881,#5fb580,#7ec380,#98cf80,#a0d280,#9ed180,#9cd080,#9bd080,#99cf80,#97ce80,#95cd80,#93cc80,#92cc80,#91cc80,#91cc80,#90cb80,#8fcb80,#8fcb80,#8ecb80,#8dca80,#84c680,#7bc280,#72be80,#68b980,#5eb480,#54af80,#4aab80,#47a980,#49aa80,#4cac80,#50ae80,#54b080,#59b280,#5db480,#61b680,#61b680,#5fb480,#5cb380,#59b280,#56b080,#53af80,#50ae80,#4dac80)"></i><i style="background:linear-gradient(#c2df80,#a7d580,#8ac980,#66b880,#44a881,#2a9b85,#178c8c,#0e7da0,#0e7da5,#128493,#19908a,#299a85,#3ea582,#52af80,#70bd80,#8bc980,#95cd80,#96ce80,#98ce80,#99cf80,#9bd080,#9dd080,#9ed180,#a0d280,#9ed180,#9bd080,#99cf80,#96ce80,#94cd80,#91cc80,#8fcb80,#8cca80,#84c680,#7bc280,#73be80,#6aba80,#60b580,#57b180,#4dac80,#49aa80,#4bab80,#4fad80,#53af80,#57b180,#5bb380,#5fb580,#63b780,#63b780,#61b580,#5eb480,#5bb380,#58b180,#55b080,#52af80,#4fad80)"></i><i style="background:linear-gradient(#cbe37e,#b3d980,#97ce80,#76bf80,#4fad80,#36a183,#1b9388,#128493,#0f7e9d,#138591,#188d8c,#1d9487,#2b9b85,#39a283,#45a881,#54b080,#62b680,#6dbb80,#77c080,#81c480,#8ac980,#93cc80,#9bd080,#a3d380,#a1d280,#9cd080,#98ce80,#93cd80,#8fcb80,#8ac980,#85c680,#80c480,#7dc380,#7ac180,#77c080,#74be80,#71bd80,#6dbb80,#6aba80,#68b980,#68b980,#67b980,#67b980,#67b980,#67b880,#67b880,#67b880,#65b880,#63b680,#60b580,#5db480,#5ab280,#57b180,#54b080,#51ae80)"></i><i style="background:linear-gradient(#d5e57b,#c4e080,#b1d880,#9cd080,#85c780,#6bba80,#4ead80,#3ba382,#2e9d84,#289a85,#239786,#1d9487,#1a9189,#198f8b,#178c8d,#15898f,#188e8b,#249886,#37a183,#47a980,#5fb580,#78c080,#8fcb80,#a3d380,#9dd080,#91cc80,#85c780,#78c080,#6aba80,#5cb380,#4cac80,#44a881,#49aa80,#4fad80,#57b180,#5fb580,#66b880,#6ebc80,#75bf80,#79c180,#77c080,#75bf80,#73be80,#71bd80,#6ebc80,#6cbb80,#6aba80,#67b980,#65b780,#62b680,#5fb580,#5cb380,#59b280,#56b180,#53af80)"></i><i style="background:linear-gradient(#dce779,#d3e57c,#cae27f,#c0de80,#b5da80,#aad680,#9fd180,#93cc80,#81c580,#67b980,#4bab80,#3aa382,#279986,#198f8b,#128493,#0e7da5,#0e7da1,#168a8e,#209687,#37a183,#4bab80,#6cbb80,#8ac980,#a3d380,#96ce80,#81c580,#69b980,#4fad80,#3ea582,#2c9c85,#1b9288,#168a8e,#1a9189,#259886,#339f84,#3fa582,#4aab80,#5db480,#70bd80,#7bc280,#79c180,#77c080,#75bf80,#73be80,#70bd80,#6ebc80,#6cbb80,#69b980,#67b880,#64b780,#61b680,#5eb480,#5bb380,#59b280,#56b080)"></i><i style="background:linear-gradient(#e1e977,#dce779,#d6e67b,#d1e47d,#cbe27f,#c4e080,#bede80,#b7db80,#aad680,#8fcb80,#70bd80,#4cac80,#36a183,#1c9487,#148790,#0e7da5,#0e7da5,#15898f,#1e9587,#36a183,#4aab80,#6bba80,#89c880,#a3d380,#95cd80,#7fc380,#65b880,#4aab80,#3aa382,#289a85,#19908a,#148791,#188e8b,#1d9487,#2b9b85,#38a283,#43a781,#50ae80,#63b780,#6fbc80,#6fbc80,#6fbc80,#6ebc80,#6ebc80,#6ebb80,#6dbb80,#6dbb80,#6bba80,#69b980,#66b880,#63b780,#60b580,#5db480,#5bb380,#58b180)"></i><i style="background:linear-gradient(#e6ea76,#e2e977,#dee878,#dae77a,#d6e57b,#d1e47c,#cde37e,#c8e27f,#bcdd80,#a0d280,#81c580,#5db380,#3ea582,#239786,#15898f,#0e7da5,#0e7da5,#15888f,#1d9487,#35a083,#49aa80,#69b980,#87c780,#a0d280,#93cc80,#7dc380,#64b780,#4aab80,#3aa382,#279986,#19908a,#148791,#178c8d,#1a918a,#1f9587,#299a85,#329f84,#3ba382,#43a781,#49aa80,#4cac80,#52af80,#57b180,#5db480,#62b680,#67b880,#6cbb80,#6dbb80,#6aba80,#68b980,#65b780,#62b680,#5fb580,#5cb380,#5ab280)"></i><i style="background:linear-gradient(#ebeb74,#e8eb75,#e5ea76,#e1e977,#dee878,#dae779,#d7e67b,#d3e57c,#c7e180,#acd780,#8dca80,#68b980,#44a881,#289a85,#168b8e,#0e7da5,#0e7da4,#158890,#1b9388,#329f84,#45a881,#61b580,#7ec380,#97ce80,#8bc980,#75bf80,#5eb480,#48aa80,#39a283,#289a85,#1a9189,#15898f,#188d8c,#1a9189,#209687,#289a85,#309e84,#38a283,#3fa582,#45a881,#49aa80,#4dac80,#54b080,#5bb380,#61b680,#67b980,#6dbb80,#6fbc80,#6cbb80,#69ba80,#67b880,#64b780,#61b680,#5eb480,#5bb380)"></i><i style="background:linear-gradient(#f0ed73,#edec73,#eaeb74,#e8eb75,#e5ea76,#e2e977,#dfe878,#dce779,#d2e47c,#badc80,#9fd180,#80c480,#5bb380,#3da482,#229786,#15888f,#148790,#198f8b,#219687,#2f9d84,#3ca482,#48aa80,#5bb380,#6ebc80,#6aba80,#63b680,#5ab280,#52ae80,#4aab80,#46a980,#41a681,#3ca482,#3da482,#3ea582,#40a681,#41a681,#42a781,#43a781,#44a881,#46a980,#4aab80,#4fad80,#56b080,#5cb380,#63b680,#69b980,#6fbc80,#71bd80,#6ebc80,#6bba80,#69b980,#66b880,#63b680,#60b580,#5db480)"></i><i style="background:linear-gradient(#f4ee71,#f1ed72,#efec73,#ecec74,#eaeb75,#e7ea75,#e5ea76,#e2e977,#dbe779,#cee37e,#bfde80,#afd880,#9ed180,#8bc980,#76bf80,#5fb580,#4ead80,#45a881,#3ea582,#35a083,#2d9c85,#249886,#1b9388,#188e8b,#1b9388,#299a85,#36a183,#42a781,#4fad80,#62b680,#74bf80,#83c680,#7cc280,#75bf80,#6dbb80,#65b880,#5eb480,#55b080,#4dac80,#4aab80,#4fad80,#55b080,#5bb380,#61b580,#66b880,#6cbb80,#72bd80,#73be80,#70bd80,#6dbb80,#6aba80,#68b980,#65b780,#62b680,#5fb580)"></i><i style="background:linear-gradient(#efed73,#eeec73,#edec74,#ecec74,#eaeb74,#e9eb75,#e8eb75,#e7ea75,#e3e977,#dce779,#d5e57b,#cde37e,#c5e180,#bddd80,#b4da80,#abd680,#99cf80,#7ec380,#5fb480,#43a781,#2e9d84,#1a908a,#128393,#0e7da5,#0f7f9a,#168b8e,#209687,#35a083,#48aa80,#63b780,#7fc480,#95cd80,#91cc80,#8dca80,#89c880,#85c680,#80c480,#7cc280,#77c080,#74be80,#74bf80,#75bf80,#75bf80,#75bf80,#75bf80,#76bf80,#76bf80,#74bf80,#72bd80,#6fbc80,#6cbb80,#6aba80,#67b880,#64b780,#61b680)"></i><i style="background:linear-gradient(#eaeb74,#ebeb74,#ebeb74,#ebeb74,#ebeb74,#ebeb74,#ebec74,#ebec74,#eaeb75,#e5ea76,#e0e878,#dbe779,#d6e67b,#d1e47c,#cce37e,#c6e180,#b5da80,#99cf80,#78c180,#52af80,#38a283,#1c9487,#138592,#0e7da5,#0f7e9d,#168a8e,#1f9587,#36a183,#49aa80,#66b880,#83c680,#9acf80,#97ce80,#95cd80,#92cc80,#90cb80,#8dca80,#8bc980,#88c880,#85c780,#84c680,#82c580,#80c480,#7ec380,#7cc280,#7bc280,#79c180,#77c080,#74be80,#71bd80,#6ebc80,#6bba80,#69b980,#66b880,#63b680)"></i><i style="background:linear-gradient(#e6ea76,#e7ea75,#e9eb75,#eaeb74,#ecec74,#edec73,#efec73,#f0ed73,#f0ed73,#ecec74,#e8eb75,#e5ea76,#e1e977,#dde879,#d9e67a,#d5e57b,#c4e080,#a8d580,#87c880,#60b580,#3ea582,#219687,#148691,#0e7da5,#0f7e9d,#168a8e,#209687,#36a183,#49aa80,#67b980,#84c680,#9bd080,#98cf80,#96ce80,#93cd80,#91cc80,#8eca80,#8bc980,#88c880,#86c780,#84c680,#83c580,#81c580,#80c480,#7ec380,#7cc280,#7bc280,#79c180,#76bf80,#73be80,#70bd80,#6ebb80,#6bba80,#68b980,#65b780)"></i><i style="background:linear-gradient(#e1e977,#e3e977,#e6ea76,#e8eb75,#eaeb74,#edec74,#efed73,#f1ed72,#f1ed72,#efed73,#ecec74,#eaeb75,#e7ea75,#e4ea76,#e1e977,#dfe878,#cee37d,#b2d980,#92cc80,#6cbb80,#44a881,#279986,#15898f,#0e7da5,#0f7f98,#178b8d,#219687,#37a183,#49aa80,#66b880,#82c580,#98cf80,#94cd80,#8fcb80,#8bc980,#85c780,#80c480,#7bc280,#76bf80,#72be80,#74be80,#75bf80,#77c080,#78c080,#7ac180,#7bc280,#7cc280,#7cc280,#79c180,#76bf80,#73be80,#70bd80,#6dbb80,#6bba80,#68b980)"></i><i style="background:linear-gradient(#d7e67b,#dae77a,#dde879,#e0e878,#e3e977,#e6ea76,#e8eb75,#ebeb74,#ecec74,#ebec74,#eaeb74,#e9eb75,#e8eb75,#e7ea75,#e6ea76,#e5ea76,#d8e67a,#c3e080,#aad680,#8fcb80,#6fbc80,#4bab80,#35a083,#1b9388,#229786,#2f9d84,#3ba382,#46a980,#54af80,#66b880,#77c080,#85c680,#7dc280,#74bf80,#6bba80,#62b680,#59b280,#4fad80,#48aa80,#46a980,#4bab80,#53af80,#5cb380,#65b780,#6dbb80,#75bf80,#7dc380,#7fc380,#7cc280,#79c180,#76bf80,#73be80,#70bd80,#6dbb80,#6aba80)"></i><i style="background:linear-gradient(#cbe27f,#cfe37d,#d2e57c,#d6e67b,#dae77a,#dee878,#e1e977,#e5ea76,#e7ea75,#e8eb75,#e8eb75,#e9eb75,#eaeb75,#eaeb74,#ebeb74,#ebeb74,#e5ea76,#dae77a,#cfe47d,#c3e080,#b6db80,#a9d580,#9bd080,#8cca80,#80c480,#74be80,#67b880,#5ab280,#4cac80,#44a881,#3ca482,#34a083,#36a183,#38a283,#3aa382,#3ba382,#3da482,#3fa582,#41a681,#44a881,#49aa80,#52ae80,#5bb380,#65b780,#6ebc80,#77c080,#7fc480,#82c580,#7fc480,#7cc280,#79c180,#76bf80,#73be80,#70bd80,#6dbb80)"></i><i style="background:linear-gradient(#a7d480,#afd880,#b8db80,#c0de80,#c8e27f,#cfe47d,#d6e67b,#dde779,#e2e977,#e4ea76,#e6ea76,#e9eb75,#ebeb74,#edec74,#efed73,#f1ed72,#eeec73,#e8eb75,#e1e977,#dbe779,#d4e57b,#cde37e,#c6e180,#bede80,#abd680,#93cc80,#77c080,#58b180,#3fa582,#2a9b85,#198f8b,#128493,#15898f,#188e8b,#1b9388,#239786,#2d9c85,#36a183,#3ea582,#45a881,#4bab80,#55b080,#5eb480,#68b980,#71bd80,#7ac180,#83c580,#85c680,#82c580,#7fc480,#7cc280,#79c180,#76bf80,#73be80,#70bc80)"></i><i style="background:linear-gradient(#239786,#38a283,#4bab80,#69b980,#85c680,#9dd080,#b2d980,#c6e180,#d3e57c,#d7e67b,#dbe779,#dfe878,#e3e977,#e7ea75,#ebeb74,#efec73,#eeec73,#eaeb74,#e7ea76,#e3e977,#dfe878,#dbe779,#d8e67a,#d4e57c,#c0de80,#a6d480,#8ac980,#68b980,#46a980,#2e9d84,#198f8a,#118294,#15898f,#188e8b,#1c9487,#289a85,#339f84,#3da482,#46a980,#50ad80,#58b180,#61b580,#69b980,#70bd80,#78c080,#7fc480,#87c780,#88c880,#85c780,#82c580,#7fc480,#7cc280,#79c180,#76bf80,#72be80)"></i><i style="background:linear-gradient(#0a76c4,#0f7f99,#178b8d,#229786,#38a283,#4aab80,#69b980,#85c780,#9acf80,#a6d480,#b2d980,#bddd80,#c8e27f,#d2e47c,#dce779,#e5ea76,#e8ea75,#e6ea76,#e5ea76,#e4e976,#e3e977,#e1e977,#e0e878,#dfe878,#cbe27e,#b1d980,#95cd80,#73be80,#4bab80,#329f84,#1a918a,#128393,#178c8d,#1e9587,#2f9d84,#3ea582,#4cac80,#63b780,#79c180,#87c880,#88c880,#89c880,#8ac980,#8bc980,#8bc980,#8cca80,#8dca80,#8cca80,#89c880,#85c780,#82c580,#7fc480,#7cc280,#78c180,#75bf80)"></i><i style="background:linear-gradient(#086de5,#0972d3,#0a76c3,#0c79b6,#0d7baa,#0e7e9f,#108095,#128393,#178b8d,#279986,#40a681,#5db480,#80c480,#9ed180,#b8db80,#cfe47d,#d9e67a,#dbe779,#dde879,#dfe878,#e2e977,#e4e976,#e6ea76,#e8eb75,#d5e57b,#bddd80,#a1d280,#82c580,#5cb380,#3da482,#219687,#15898f,#1b9289,#2b9b85,#3ba382,#49aa80,#61b580,#78c080,#8dca80,#99cf80,#98cf80,#97ce80,#96ce80,#95cd80,#94cd80,#93cc80,#92cc80,#90cb80,#8dca80,#89c980,#86c780,#83c580,#80c480,#7cc280,#79c180)"></i><i style="background:linear-gradient(#086beb,#086ce9,#086de7,#086de5,#086ee3,#086ee1,#086fdf,#086fdd,#0a76c6,#0e7e9f,#148890,#1a9289,#2c9c85,#3ea582,#4fad80,#6aba80,#81c580,#95cd80,#a6d480,#b7db80,#c6e180,#d4e57b,#e1e977,#eeec73,#e4e977,#d4e57b,#c4e080,#b2d980,#9fd180,#8ac980,#72bd80,#5ab280,#63b780,#6dbb80,#75bf80,#7ec380,#86c780,#8ecb80,#95cd80,#9acf80,#9acf80,#99cf80,#98cf80,#98ce80,#97ce80,#97ce80,#96ce80,#94cd80,#91cc80,#8eca80,#8bc980,#87c780,#84c680,#80c480,#7dc380)"></i><i style="background:linear-gradient(#086beb,#086beb,#086beb,#086beb,#086beb,#086cea,#086cea,#086cea,#086de5,#0970db,#0973d0,#0a76c7,#0a77bf,#0b79b8,#0c7ab1,#0d7bab,#128492,#1c9487,#39a283,#56b080,#7dc380,#9ed180,#badc80,#d3e57c,#d2e47c,#cde37e,#c8e27f,#c2df80,#bddd80,#b7db80,#b1d880,#abd680,#a5d480,#9fd180,#99cf80,#93cd80,#8dca80,#86c780,#7fc480,#7bc280,#80c480,#84c680,#89c880,#8dca80,#91cc80,#95cd80,#98cf80,#98cf80,#95cd80,#92cc80,#8fcb80,#8cca80,#88c880,#84c680,#81c480)"></i><i style="background:linear-gradient(#086beb,#086beb,#086beb,#086beb,#086beb,#086beb,#086beb,#086beb,#086beb,#086cea,#086ce9,#086ce8,#086de7,#086de6,#086de5,#086de4,#0975c8,#0d7ca9,#118294,#168a8e,#1a9289,#279986,#35a083,#42a781,#4fad80,#63b780,#76c080,#88c880,#98ce80,#a6d480,#b4da80,#bfde80,#b2d980,#a4d380,#96ce80,#86c780,#74bf80,#62b680,#4dac80,#47a980,#52ae80,#5fb580,#6cbb80,#79c180,#85c680,#90cb80,#9acf80,#9dd080,#9acf80,#96ce80,#93cc80,#90cb80,#8cca80,#88c880,#85c680)"></i><i style="background:linear-gradient(#086beb,#086beb,#086beb,#086beb,#086beb,#086beb,#086beb,#086beb,#086beb,#086beb,#086beb,#086beb,#086beb,#086beb,#086beb,#086beb,#086de7,#086ee1,#0970db,#0972d5,#0973d0,#0975ca,#0a76c6,#0a77c1,#0f7f97,#188e8c,#2a9b85,#41a681,#5eb480,#80c480,#9cd080,#b2d980,#a6d480,#9acf80,#8dca80,#7ec380,#6fbc80,#5eb480,#4cac80,#48aa80,#54af80,#62b680,#70bd80,#7dc380,#8ac980,#95cd80,#a0d280,#a3d380,#9fd180,#9cd080,#99cf80,#95cd80,#91cc80,#8eca80,#8ac980)"></i><i style="background:linear-gradient(#086beb,#086beb,#086beb,#086beb,#086beb,#086beb,#086beb,#086beb,#086beb,#086beb,#086beb,#086beb,#086beb,#086beb,#086beb,#086beb,#086beb,#086cea,#086cea,#086ce9,#086ce9,#086ce8,#086ce8,#086ce7,#0a76c5,#0d7baa,#108195,#15898f,#19908a,#219687,#2e9d84,#3aa382,#3ca482,#3ea582,#40a681,#42a781,#44a881,#46a980,#48aa80,#4cac80,#5bb380,#6aba80,#78c080,#85c680,#91cc80,#9cd080,#a7d580,#aad680,#a7d480,#a3d380,#a0d280,#9cd080,#99cf80,#95cd80,#91cc80)"></i><i style="background:linear-gradient(#086ee3,#086de4,#086de5,#086de6,#086de7,#086ce8,#086ce9,#086cea,#086beb,#086beb,#086beb,#086beb,#086beb,#086beb,#086beb,#086beb,#086beb,#086beb,#086beb,#086beb,#086beb,#086beb,#086beb,#086beb,#086fdd,#0974cd,#0a77c0,#0c79b5,#0d7bab,#0e7da1,#0f7f98,#118294,#168a8e,#1a9189,#249886,#329f84,#3ea582,#49aa80,#5ab380,#6bba80,#76c080,#81c580,#8cca80,#95cd80,#9ed180,#a7d580,#b0d880,#b2d980,#aed780,#abd680,#a7d580,#a3d380,#a0d280,#9cd080,#98cf80)"></i><i style="background:linear-gradient(#138591,#118294,#0f7f98,#0e7da2,#0d7bac,#0b79b7,#0a76c3,#0973d1,#0970dc,#086fde,#086fe0,#086ee1,#086ee3,#086de5,#086ce7,#086ce9,#086cea,#086cea,#086cea,#086cea,#086beb,#086beb,#086beb,#086beb,#086fe0,#0972d3,#0a76c7,#0b77be,#0c79b5,#0d7bad,#0e7ca5,#0f7e9b,#168a8e,#1f9587,#34a083,#47a980,#62b680,#7ec380,#97ce80,#a7d480,#aad680,#acd780,#afd880,#b2d980,#b5da80,#b7db80,#badc80,#b9dc80,#b6da80,#b2d980,#aed780,#abd680,#a7d480,#a3d380,#9fd180)"></i><i style="background:linear-gradient(#e2e977,#cfe47d,#b9dc80,#a2d280,#87c780,#68b980,#48aa80,#329f84,#1f9587,#1a9189,#178c8d,#148790,#118294,#0e7da0,#0c7ab1,#0a76c5,#0973d0,#0972d3,#0971d6,#0970d9,#086fdd,#086ee0,#086de4,#086ce7,#086fdd,#0973d1,#0a76c6,#0b78bd,#0c79b5,#0d7bad,#0e7ca6,#0f7e9c,#15898f,#1b9388,#2f9d84,#41a681,#55b080,#71bd80,#89c880,#9acf80,#a0d280,#a6d480,#acd680,#b1d980,#b7db80,#bcdd80,#c1df80,#c2df80,#bede80,#badc80,#b7db80,#b3d980,#afd880,#abd680,#a7d580)"></i><i style="background:linear-gradient(#fccb52,#fcd056,#fbd65b,#fbdc60,#fae265,#fae96a,#faef6f,#f2ed72,#e8ea75,#d8e67a,#c6e180,#b3d980,#9fd180,#88c880,#6dbb80,#50ae80,#41a681,#35a083,#289a85,#1b9388,#178c8c,#138592,#0f7e9c,#0c79b5,#0c79b5,#0c7ab1,#0d7bad,#0d7ca9,#0e7ca6,#0e7da2,#0e7e9e,#0f7f99,#15898f,#1b9288,#2b9b85,#3ca482,#4bab80,#63b780,#7bc280,#8dca80,#98cf80,#a2d380,#acd780,#b6da80,#bfde80,#c8e27f,#d0e47d,#d2e47c,#cee37d,#cbe27f,#c7e180,#c3e080,#bfde80,#bbdc80,#b7db80)"></i><i style="background:linear-gradient(#fcc34c,#fcc54e,#fcc74f,#fcc951,#fccb53,#fcce54,#fcd056,#fbd258,#fbd55b,#fbda5f,#fbdf63,#fae567,#faea6b,#faef6f,#f3ee71,#edec73,#e3e977,#d7e67b,#c9e27f,#bbdd80,#acd780,#9cd080,#8ac980,#77c080,#67b980,#58b180,#4aab80,#41a681,#37a183,#2d9c85,#229786,#1b9289,#269986,#339f84,#3ea582,#49aa80,#5ab280,#6cbb80,#7dc380,#8dca80,#9cd080,#aad680,#b7db80,#c4e080,#cfe47d,#dbe779,#e5ea76,#e8eb75,#e4ea76,#e1e977,#dde779,#d9e67a,#d5e57b,#d1e47c,#cde37e)"></i><i style="background:linear-gradient(#fcc34c,#fcc44d,#fcc64e,#fcc74f,#fcc950,#fcca51,#fccb53,#fccd54,#fcce55,#fcd056,#fbd258,#fbd45a,#fbd75c,#fbd95d,#fbdb5f,#fbdd61,#fae164,#fae668,#faea6b,#faef6f,#f5ee71,#efed73,#e9eb75,#e3e977,#dce779,#d4e57c,#cbe37e,#c3e080,#b9dc80,#b0d880,#a6d480,#9cd080,#9acf80,#99cf80,#97ce80,#95cd80,#93cc80,#91cc80,#8fcb80,#92cc80,#9ed180,#aad680,#b5da80,#c0df80,#cae27f,#d4e57c,#dde879,#e2e977,#e2e977,#e3e977,#e4e977,#e4ea76,#e5ea76,#e5ea76,#e6ea76)"></i><i style="background:linear-gradient(#fcc34c,#fcc44d,#fcc64e,#fcc74f,#fcc850,#fcca51,#fccb53,#fccd54,#fcce55,#fccf56,#fcd157,#fbd258,#fbd459,#fbd55b,#fbd75c,#fbd85d,#fbda5e,#fbdc60,#fbde61,#fbdf62,#fae164,#fae365,#fae567,#fae668,#faeb6c,#faef6f,#f4ee71,#efec73,#e9eb75,#e3e977,#dde879,#d7e67a,#d4e57b,#d2e47c,#cfe47d,#cce37e,#c9e27f,#c6e180,#c3e080,#c0de80,#bede80,#bcdd80,#bbdc80,#b9dc80,#b7db80,#b5da80,#b3d980,#b8db80,#c3e080,#cde37e,#d7e67b,#e0e878,#e9eb75,#f2ed72,#faef6f)"></i><i style="background:linear-gradient(#fcc34c,#fcc44d,#fcc64e,#fcc74f,#fcc850,#fcca51,#fccb52,#fccd54,#fcce55,#fccf56,#fcd157,#fbd258,#fbd459,#fbd55b,#fbd75c,#fbd85d,#fbda5e,#fbdb5f,#fbdc60,#fbdd61,#fbde62,#fbdf63,#fae164,#fae265,#fae366,#fae467,#fae668,#fae769,#fae86a,#faea6b,#faeb6c,#faec6d,#faed6e,#faef6f,#f9ef70,#f8ef70,#f7ef70,#f6ee71,#f4ee71,#f1ed72,#e8eb75,#e0e878,#d6e67b,#cde37e,#c3e080,#b8db80,#add780,#afd880,#bddd80,#cae27f,#d6e67b,#e2e977,#edec74,#f7ef70,#fae96a)"></i><i style="background:linear-gradient(#fcc34c,#fcc44d,#fcc64e,#fcc74f,#fcc850,#fcca51,#fccb52,#fccd54,#fcce55,#fccf56,#fcd157,#fbd258,#fbd459,#fbd55b,#fbd75c,#fbd85d,#fbda5e,#fbdb5f,#fbdc60,#fbdd61,#fbde62,#fbdf63,#fae164,#fae265,#fae365,#fae366,#fae466,#fae567,#fae668,#fae768,#fae769,#fae86a,#fae86a,#fae96a,#fae96a,#fae96a,#fae96b,#faea6b,#faea6b,#faed6d,#f4ee71,#ebeb74,#e2e977,#d8e67a,#cee37d,#c3e080,#b8db80,#b9dc80,#c5e180,#d0e47d,#dbe779,#e5ea76,#efed73,#f8ef70,#fae86a)"></i><i style="background:linear-gradient(#fcc34c,#fcc44d,#fcc64e,#fcc74f,#fcc850,#fcca51,#fccb52,#fccd54,#fcce55,#fccf56,#fcd157,#fbd258,#fbd459,#fbd55b,#fbd75c,#fbd85d,#fbda5e,#fbdb5f,#fbdc60,#fbdd61,#fbde62,#fbdf63,#fae164,#fae265,#fae365,#fae366,#fae466,#fae567,#fae668,#fae768,#fae769,#fae86a,#fae86a,#fae96a,#fae96a,#fae96b,#faea6b,#faea6b,#faea6b,#faeb6c,#faed6e,#f9ef70,#f7ef70,#f4ee71,#f2ed72,#efed73,#ecec74,#edec74,#f0ed72,#f3ee71,#f7ef70,#faef6f,#faed6d,#faea6b,#fae769)"></i><i style="background:linear-gradient(#fcc34c,#fcc44d,#fcc64e,#fcc74f,#fcc850,#fcca51,#fccb52,#fccd54,#fcce55,#fccf56,#fcd157,#fbd258,#fbd459,#fbd55b,#fbd75c,#fbd85d,#fbda5e,#fbdb5f,#fbdc60,#fbdd61,#fbde62,#fbdf63,#fae164,#fae265,#fae365,#fae366,#fae466,#fae567,#fae668,#fae768,#fae769,#fae86a,#fae86a,#fae96a,#fae96b,#faea6b,#faea6b,#faeb6c,#faeb6c,#faec6c,#faec6d,#faed6d,#faed6e,#faee6e,#faee6e,#faef6f,#faef6f,#faef6f,#faee6e,#faed6d,#faeb6c,#faea6b,#fae96a,#fae869,#fae769)"></i><i style="background:linear-gradient(#fcc34c,#fcc44d,#fcc64e,#fcc74f,#fcc850,#fcca51,#fccb52,#fccd54,#fcce55,#fccf56,#fcd157,#fbd258,#fbd459,#fbd55b,#fbd75c,#fbd85d,#fbda5e,#fbdb5f,#fbdc60,#fbdd61,#fbde62,#fbe063,#fae164,#fae265,#fae365,#fae366,#fae467,#fae567,#fae668,#fae768,#fae769,#fae86a,#fae96a,#fae96a,#fae96b,#faea6b,#faea6b,#faeb6c,#faeb6c,#faed6d,#f8ef70,#f4ee71,#efed73,#eaeb74,#e5ea76,#e0e878,#dbe779,#dbe779,#dfe878,#e3e977,#e7ea75,#ebec74,#efed73,#f3ee72,#f7ef70)"></i><i style="background:linear-gradient(#fcc44c,#fcc54e,#fcc64f,#fcc850,#fcc951,#fcca52,#fccc53,#fccd54,#fccf55,#fcd056,#fcd157,#fbd359,#fbd45a,#fbd65b,#fbd75c,#fbd95e,#fbda5f,#fbdc60,#fbdd60,#fbde61,#fbdf62,#fbe063,#fae164,#fae365,#fae466,#fae567,#fae567,#fae668,#fae769,#fae86a,#fae96a,#faea6b,#faeb6c,#faec6d,#faee6e,#faef6f,#f9ef70,#f8ef70,#f6ef71,#f3ee72,#ebeb74,#e3e977,#dbe779,#d2e57c,#c9e27f,#c0de80,#b6db80,#b5da80,#bbdd80,#c2df80,#c8e27f,#cee37d,#d4e57c,#d9e67a,#dfe878)"></i><i style="background:linear-gradient(#f5ee71,#f4ee71,#f3ee72,#f2ed72,#f1ed72,#f0ed73,#efec73,#eeec73,#edec74,#ecec74,#ebeb74,#eaeb75,#e8eb75,#e7ea75,#e6ea76,#e5ea76,#e4ea76,#e3e977,#e2e977,#e1e977,#e0e878,#dfe878,#dee878,#dde779,#dbe779,#d9e67a,#d7e67a,#d6e57b,#d4e57c,#d2e47c,#d0e47d,#cee37d,#cbe27e,#c8e27f,#c5e080,#c1df80,#bede80,#bbdc80,#b7db80,#b5da80,#b4da80,#b2d980,#b1d980,#b0d880,#afd880,#add780,#acd780,#add780,#b1d980,#b4da80,#b8db80,#bbdd80,#bfde80,#c2df80,#c5e180)"></i><i style="background:linear-gradient(#b1d880,#b1d880,#b0d880,#b0d880,#b0d880,#b0d880,#b0d880,#afd880,#afd880,#aed780,#aed780,#add780,#add780,#acd680,#abd680,#abd680,#a9d580,#a7d480,#a4d380,#a2d280,#9fd180,#9dd080,#9acf80,#97ce80,#92cc80,#8cca80,#85c780,#7ec380,#77c080,#70bd80,#69b980,#62b680,#68b980,#6ebc80,#74bf80,#7ac180,#80c480,#86c780,#8bc980,#90cb80,#96ce80,#9bd080,#a0d280,#a6d480,#abd680,#b0d880,#b4da80,#b6db80,#b6da80,#b5da80,#b4da80,#b4da80,#b3d980,#b2d980,#b2d980)"></i><i style="background:linear-gradient(#a9d580,#a8d580,#a7d580,#a7d480,#a6d480,#a5d480,#a4d380,#a4d380,#a2d280,#9ed180,#9bd080,#98ce80,#94cd80,#90cb80,#8dca80,#89c880,#80c480,#74be80,#67b880,#5ab280,#4cac80,#44a881,#3ba382,#339f84,#2d9c85,#299a85,#249886,#1f9587,#1b9388,#1a908a,#188e8b,#178c8c,#1c9487,#2b9b85,#39a283,#45a881,#55b080,#6aba80,#7cc280,#8bc980,#91cc80,#98ce80,#9ed180,#a4d380,#aad680,#b0d880,#b6da80,#b7db80,#b4da80,#b2d980,#afd880,#acd780,#a9d580,#a7d480,#a4d380)"></i><i style="background:linear-gradient(#9fd180,#9acf80,#95cd80,#90cb80,#8bc980,#86c780,#80c480,#7ac180,#71bd80,#63b680,#53af80,#47a980,#3ea582,#34a083,#2a9b85,#1f9587,#1a9189,#188d8c,#15898f,#138592,#108195,#0e7e9e,#0d7bac,#0b78ba,#0b79b8,#0c7ab3,#0d7bae,#0d7baa,#0e7ca6,#0e7da1,#0f7e9d,#0f7f97,#168a8e,#1b9388,#2c9c85,#3da482,#4cac80,#66b880,#7dc380,#8dca80,#93cc80,#98ce80,#9dd080,#a2d280,#a7d480,#acd680,#b0d880,#b1d980,#aed780,#acd680,#a9d580,#a6d480,#a3d380,#a0d280,#9dd180)"></i><i style="background:linear-gradient(#5cb380,#4cac80,#43a781,#39a283,#2f9d84,#249886,#1b9289,#178c8c,#148890,#128492,#108194,#0f7f9a,#0e7da4,#0d7bae,#0b78b9,#0a76c4,#0974cc,#0973cf,#0972d2,#0971d6,#0970d9,#086fdd,#086ee1,#086de4,#0970da,#0974ce,#0a76c4,#0b78bc,#0c7ab3,#0d7bac,#0e7da4,#0f7e9b,#15898f,#1b9388,#309e84,#42a781,#57b180,#72be80,#8bc980,#9acf80,#9dd080,#9fd180,#a1d280,#a3d380,#a6d480,#a8d580,#aad680,#a9d580,#a7d480,#a4d380,#a1d280,#9fd180,#9cd080,#99cf80,#96ce80)"></i><i style="background:linear-gradient(#0f7f98,#0e7e9e,#0e7ca5,#0d7bac,#0c79b4,#0b78bc,#0a76c4,#0974ce,#0971d6,#0971d8,#0970da,#0970dc,#086fdf,#086ee1,#086de4,#086de6,#086ce7,#086ce8,#086ce8,#086ce9,#086ce9,#086cea,#086cea,#086cea,#086fde,#0973d0,#0a76c4,#0b78ba,#0c7ab1,#0d7ca8,#0e7da0,#0f7f96,#178b8d,#209687,#35a083,#47a980,#61b580,#7cc280,#94cd80,#a3d380,#a3d380,#a3d380,#a3d380,#a3d380,#a3d380,#a3d380,#a3d380,#a2d280,#9fd180,#9cd080,#9acf80,#97ce80,#95cd80,#92cc80,#8fcb80)"></i><i style="background:linear-gradient(#086fdd,#086fde,#086fe0,#086ee1,#086ee3,#086de4,#086de6,#086ce8,#086ce9,#086ce9,#086ce9,#086cea,#086cea,#086cea,#086beb,#086beb,#086beb,#086beb,#086cea,#086cea,#086cea,#086cea,#086cea,#086cea,#0972d5,#0a77c0,#0c7ab0,#0e7da2,#108095,#138592,#15898f,#188e8c,#209687,#319e84,#40a681,#4fad80,#66b880,#7bc280,#8fcb80,#9bd080,#9bd080,#9bd080,#9bd080,#9bd080,#9bd080,#9bd080,#9bd080,#9acf80,#97ce80,#95cd80,#92cc80,#90cb80,#8dca80,#8bc980,#88c880)"></i><i style="background:linear-gradient(#086cea,#086cea,#086cea,#086cea,#086beb,#086beb,#086beb,#086beb,#086beb,#086beb,#086beb,#086beb,#086beb,#086beb,#086beb,#086beb,#086cea,#086ce8,#086de6,#086de4,#086ee2,#086fe0,#086fde,#0970dc,#0c79b4,#108194,#178c8d,#1f9587,#329f84,#43a781,#58b180,#70bd80,#74be80,#77c080,#7bc280,#7ec380,#81c580,#84c680,#88c880,#8ac980,#8cca80,#8dca80,#8fcb80,#90cb80,#92cc80,#93cd80,#95cd80,#94cd80,#92cc80,#90cb80,#8dca80,#8bc980,#89c880,#86c780,#83c680)"></i><i style="background:linear-gradient(#086beb,#086beb,#086beb,#086beb,#086beb,#086beb,#086beb,#086beb,#086beb,#086beb,#086beb,#086cea,#086cea,#086ce9,#086ce9,#086ce9,#086fdf,#0973d0,#0a76c3,#0b79b8,#0d7bae,#0e7ca5,#0f7e9c,#108095,#178b8d,#219687,#37a183,#49aa80,#66b880,#82c580,#9acf80,#add780,#a8d580,#a2d380,#9cd080,#96ce80,#90cb80,#8ac980,#83c580,#7fc480,#81c580,#84c680,#86c780,#89c880,#8bc980,#8dca80,#90cb80,#8fcb80,#8dca80,#8bc980,#89c880,#87c780,#84c680,#82c580,#7fc480)"></i><i style="background:linear-gradient(#086beb,#086beb,#086beb,#086beb,#086beb,#086beb,#086beb,#086beb,#086cea,#086de7,#086ee3,#086ee0,#086fdd,#0970da,#0971d8,#0972d5,#0c79b7,#108095,#178b8d,#1e9587,#329f84,#43a781,#57b180,#71bd80,#7cc280,#84c680,#8cca80,#93cc80,#9acf80,#a1d280,#a7d580,#acd780,#a6d480,#a0d280,#9acf80,#94cd80,#8dca80,#86c780,#7ec380,#7ac180,#7cc280,#7fc480,#81c580,#84c680,#86c780,#88c880,#8bc980,#8bc980,#88c880,#86c780,#84c680,#82c580,#80c480,#7ec380,#7bc280)"></i><i style="background:linear-gradient(#086beb,#086beb,#086cea,#086cea,#086ce9,#086ce8,#086ce8,#086ce7,#086fde,#0975ca,#0b78ba,#0d7bac,#0e7da0,#108095,#128492,#15888f,#1a9189,#2d9c85,#41a681,#59b280,#77c080,#91cc80,#a8d580,#bddd80,#bddd80,#b9dc80,#b5da80,#b1d980,#add780,#a9d580,#a5d480,#a1d280,#9cd080,#96ce80,#91cc80,#8cca80,#86c780,#80c480,#79c180,#76bf80,#78c080,#7ac180,#7dc380,#7fc480,#81c580,#83c680,#86c780,#86c780,#84c680,#82c580,#80c480,#7ec380,#7cc280,#7ac180,#77c080)"></i><i style="background:linear-gradient(#086cea,#086de5,#086ee0,#0970dc,#0971d7,#0972d3,#0973cf,#0975cb,#0c79b7,#108195,#178c8d,#219687,#35a083,#46a980,#5fb580,#79c180,#8ac980,#95cd80,#9fd180,#a9d580,#b2d980,#bbdd80,#c4e080,#cde37e,#c8e27f,#c0df80,#b9dc80,#b1d880,#a8d580,#a0d280,#97ce80,#8ecb80,#8cca80,#8ac980,#88c880,#85c780,#83c580,#80c480,#7ec380,#7dc280,#7dc380,#7ec380,#7fc480,#80c480,#80c480,#81c580,#82c580,#81c580,#7fc480,#7ec380,#7cc280,#7ac180,#78c080,#76bf80,#74bf80)"></i><i style="background:linear-gradient(#086fe0,#0a76c5,#0c7ab1,#0e7da0,#118294,#148790,#178c8c,#1a9189,#249886,#36a183,#46a980,#5db480,#75bf80,#8cca80,#a0d280,#b2d980,#bbdc80,#bede80,#c2df80,#c5e180,#c9e27f,#cce37e,#cfe47d,#d3e57c,#c9e27f,#bcdd80,#aed780,#9fd180,#90cb80,#7fc480,#6cbb80,#5ab280,#5fb580,#65b780,#6aba80,#6fbc80,#74bf80,#7ac180,#7ec380,#82c580,#81c580,#81c580,#80c480,#80c480,#80c480,#7fc480,#7fc480,#7ec380,#7cc280,#7ac180,#79c180,#77c080,#75bf80,#73be80,#71bd80)"></i><i style="background:linear-gradient(#0c79b4,#118294,#188d8c,#239786,#37a183,#48aa80,#63b680,#7dc380,#8fcb80,#98ce80,#a0d280,#a8d580,#afd880,#b7db80,#bede80,#c5e180,#c8e27f,#c8e27f,#c8e27f,#c8e27f,#c8e27f,#c9e27f,#c9e27f,#c9e27f,#b9dc80,#a5d480,#8ecb80,#75bf80,#58b180,#41a681,#2e9d84,#1b9388,#279986,#329f84,#3da482,#47a980,#55b080,#66b880,#75bf80,#7fc480,#7fc480,#7ec380,#7ec380,#7dc380,#7cc280,#7cc280,#7bc280,#7ac180,#79c180,#77c080,#75bf80,#74be80,#72be80,#70bd80,#6fbc80)"></i><i style="background:linear-gradient(#35a083,#42a781,#50ae80,#65b780,#78c080,#8ac980,#9acf80,#a8d580,#b2d980,#b6db80,#badc80,#bede80,#c1df80,#c5e080,#c8e27f,#cce37e,#cce37e,#cae27f,#c8e27f,#c6e180,#c4e080,#c2df80,#c0df80,#bede80,#add780,#98ce80,#80c480,#64b780,#48aa80,#36a183,#219687,#188d8c,#1b9388,#299a85,#35a083,#40a681,#4bab80,#5db480,#6ebc80,#7ac180,#79c180,#79c180,#79c180,#79c180,#78c080,#78c080,#78c080,#77c080,#75bf80,#74be80,#72be80,#71bd80,#6fbc80,#6ebb80,#6cbb80)"></i><i style="background:linear-gradient(#92cc80,#99cf80,#9fd180,#a5d480,#aad680,#b0d880,#b5da80,#bbdc80,#bfde80,#c2df80,#c4e080,#c7e180,#c9e27f,#cce37e,#cee37d,#d1e47d,#cfe47d,#cbe37e,#c7e180,#c3e080,#bfde80,#bbdd80,#b7db80,#b3d980,#a1d280,#8dca80,#75bf80,#5ab280,#44a881,#329f84,#1e9587,#178c8d,#1b9288,#259886,#309e84,#3ba382,#45a881,#50ae80,#61b680,#6cbb80,#6dbb80,#6ebc80,#6fbc80,#70bd80,#71bd80,#73be80,#74be80,#73be80,#72be80,#71bd80,#6fbc80,#6ebc80,#6cbb80,#6bba80,#69b980)"></i><i style="background:linear-gradient(#acd780,#b0d880,#b4da80,#b7db80,#bbdd80,#bfde80,#c2df80,#c6e180,#c8e27f,#cae27f,#cbe37e,#cde37e,#cee37d,#cfe47d,#d1e47c,#d2e57c,#cfe47d,#c8e27f,#c1df80,#badc80,#b3d980,#abd680,#a4d380,#9cd080,#8bc980,#77c080,#61b680,#4aab80,#3ca482,#2d9c85,#1c9487,#178d8c,#1b9289,#249886,#2f9d84,#39a283,#42a781,#4bab80,#5ab280,#65b880,#67b880,#68b980,#6aba80,#6cbb80,#6dbb80,#6fbc80,#70bd80,#70bd80,#6fbc80,#6dbb80,#6cbb80,#6bba80,#69b980,#68b980,#67b880)"></i><i style="background:linear-gradient(#b7db80,#b9dc80,#bcdd80,#bfde80,#c2df80,#c5e080,#c7e180,#cae27f,#cce37e,#cce37e,#cce37e,#cce37e,#cce37e,#cce37e,#cce37e,#cce37e,#c6e180,#bbdc80,#b0d880,#a4d380,#98ce80,#8bc980,#7cc280,#6dbb80,#62b680,#58b180,#4ead80,#47a980,#41a681,#3ba382,#34a083,#2e9d84,#34a083,#3aa382,#40a681,#45a881,#4aab80,#53af80,#5cb380,#62b680,#64b780,#65b880,#67b880,#68b980,#6aba80,#6cbb80,#6dbb80,#6dbb80,#6cbb80,#6aba80,#69b980,#68b980,#67b880,#65b880,#64b780)"></i><i style="background:linear-gradient(#bfde80,#c1df80,#c3e080,#c6e180,#c8e27f,#cae27f,#cce37e,#cee37d,#cfe47d,#cde37e,#cce37e,#cbe27e,#c9e27f,#c8e27f,#c7e180,#c5e180,#b9dc80,#a5d480,#8fcb80,#75bf80,#59b280,#42a781,#2f9d84,#1b9288,#1e9587,#289a85,#319e84,#39a283,#41a681,#49aa80,#54b080,#60b580,#60b580,#60b580,#60b580,#60b580,#60b580,#61b580,#61b580,#61b680,#62b680,#64b780,#65b880,#67b880,#68b980,#69ba80,#6bba80,#6bba80,#6aba80,#68b980,#67b880,#66b880,#65b780,#63b780,#62b680)"></i><i style="background:linear-gradient(#c7e180,#c9e27f,#cae27f,#cce37e,#cee37e,#cfe47d,#d1e47d,#d2e47c,#d2e47c,#cfe47d,#cde37e,#cae27f,#c7e180,#c4e080,#c1df80,#bede80,#aed780,#93cd80,#73be80,#4fad80,#37a183,#1d9487,#148691,#0e7da5,#0f7e9d,#148790,#1a908a,#279986,#37a183,#46a980,#5bb380,#71bd80,#70bc80,#6fbc80,#6ebb80,#6dbb80,#6cbb80,#6bba80,#6aba80,#69b980,#69b980,#69b980,#69b980,#69b980,#69b980,#69b980,#69b980,#69b980,#67b980,#66b880,#65b780,#64b780,#63b680,#61b680,#60b580)"></i><i style="background:linear-gradient(#cbe27e,#cce37e,#cde37e,#cde37e,#cee37d,#cfe47d,#d0e47d,#d1e47c,#d0e47d,#cce37e,#c9e27f,#c5e080,#c1df80,#bcdd80,#b8db80,#b4da80,#a3d380,#87c880,#67b880,#47a980,#309e84,#1a9189,#128393,#0e7da5,#0e7da4,#138691,#198f8a,#259886,#37a183,#46a980,#5cb380,#73be80,#72bd80,#71bd80,#70bd80,#6fbc80,#6fbc80,#6ebc80,#6dbb80,#6cbb80,#6cbb80,#6bba80,#6aba80,#69ba80,#69b980,#68b980,#67b980,#66b880,#65b880,#64b780,#63b680,#62b680,#61b580,#5fb580,#5eb480)"></i><i style="background:linear-gradient(#cee37e,#cde37e,#cde37e,#cde37e,#cde37e,#cde37e,#cce37e,#cce37e,#cae27f,#c5e080,#bfde80,#badc80,#b4da80,#aed780,#a8d580,#a2d380,#91cc80,#75bf80,#56b080,#3ea582,#299a85,#188e8b,#118194,#0e7da5,#0e7da4,#138591,#198f8b,#259886,#36a183,#46a980,#5bb380,#71bd80,#71bd80,#70bd80,#6fbc80,#6ebc80,#6dbb80,#6dbb80,#6cbb80,#6bba80,#6aba80,#69b980,#68b980,#68b980,#67b880,#66b880,#65b880,#64b780,#63b780,#62b680,#61b680,#60b580,#5fb480,#5eb480,#5cb380)"></i><i style="background:linear-gradient(#d1e47d,#cfe47d,#cee37d,#cde37e,#cbe37e,#cae27f,#c8e27f,#c7e180,#c3e080,#bbdd80,#b4da80,#abd680,#a3d380,#9acf80,#91cc80,#87c780,#74bf80,#5ab280,#44a881,#329f84,#1e9587,#168b8d,#108095,#0e7da5,#0e7da2,#138691,#198f8b,#249886,#35a083,#44a881,#58b180,#6ebc80,#6dbb80,#6cbb80,#6bba80,#6aba80,#69b980,#68b980,#67b980,#66b880,#66b880,#66b880,#65b780,#65b780,#64b780,#64b780,#63b780,#62b680,#61b680,#60b580,#5fb580,#5eb480,#5db480,#5cb380,#5bb380)"></i><i style="background:linear-gradient(#d4e57c,#d1e47c,#cfe47d,#cce37e,#cae27f,#c7e180,#c4e080,#c2df80,#bbdd80,#aed780,#a0d280,#91cc80,#80c480,#6ebc80,#5bb380,#49aa80,#3fa582,#37a183,#2f9d84,#259886,#1b9388,#198f8b,#168a8e,#138592,#168a8e,#1a918a,#239786,#2f9d84,#3ba382,#45a881,#53af80,#63b680,#62b680,#61b680,#60b580,#5fb580,#5eb480,#5db480,#5db480,#5cb380,#5db480,#5db480,#5eb480,#5fb480,#5fb580,#60b580,#61b580,#60b580,#5fb580,#5eb480,#5db480,#5cb380,#5bb380,#5ab280,#59b280)"></i><i style="background:linear-gradient(#d0e47d,#cee37e,#cbe27e,#c8e27f,#c5e080,#c2df80,#bfde80,#bcdd80,#b1d980,#9bd080,#81c580,#64b780,#47a980,#339f84,#1b9388,#148890,#138691,#168b8d,#19908a,#1d9487,#269986,#2f9d84,#38a283,#3fa582,#40a681,#40a681,#3fa582,#3fa582,#3fa582,#3ea582,#3ea582,#3ea582,#41a681,#43a781,#46a980,#49aa80,#4bab80,#50ae80,#55b080,#58b280,#59b280,#5ab280,#5bb380,#5cb380,#5db480,#5eb480,#5fb480,#5eb480,#5db480,#5cb380,#5bb380,#5ab280,#59b280,#58b180,#57b180)"></i><i style="background:linear-gradient(#cbe37e,#c8e27f,#c4e080,#c0df80,#bcdd80,#b8db80,#b4da80,#b0d880,#a4d380,#8ac980,#6bba80,#4aab80,#35a083,#1c9487,#148790,#0e7da5,#0e7da5,#118294,#178b8d,#1b9388,#2c9c85,#3ba382,#48aa80,#5db480,#55b080,#49aa80,#41a681,#39a283,#309e84,#279986,#1d9487,#1a908a,#1d9487,#269986,#2f9d84,#37a183,#3fa582,#46a980,#4eac80,#56b180,#57b180,#58b180,#59b280,#5ab280,#5bb380,#5cb380,#5cb380,#5cb380,#5bb380,#5ab280,#59b280,#58b180,#57b180,#56b080,#55b080)"></i><i style="background:linear-gradient(#c6e180,#c1df80,#bddd80,#b8db80,#b3d980,#add780,#a8d580,#a3d380,#96ce80,#7bc280,#5db480,#43a781,#2e9d84,#1a9189,#138592,#0e7da5,#0e7da5,#118294,#178c8d,#1d9487,#2f9d84,#3ea582,#4dac80,#65b880,#5cb380,#4cac80,#43a781,#39a283,#2f9d84,#249886,#1b9288,#188e8c,#1b9288,#229786,#2c9c85,#34a083,#3da482,#44a881,#4cac80,#56b080,#56b180,#57b180,#58b180,#58b280,#59b280,#5ab280,#5ab280,#5ab280,#59b280,#58b180,#57b180,#56b080,#55b080,#54af80,#53af80)"></i><i style="background:linear-gradient(#c1df80,#bbdc80,#b4da80,#add780,#a7d480,#a0d280,#98cf80,#91cc80,#82c580,#68b980,#4bab80,#3aa382,#269986,#188e8b,#118393,#0e7da5,#0e7da5,#118294,#178c8d,#1e9587,#2f9d84,#3fa582,#4fad80,#67b880,#5db480,#4dac80,#43a781,#3aa382,#2f9d84,#249886,#1b9289,#188d8c,#1b9288,#239786,#2d9c85,#36a183,#3fa582,#47a980,#52af80,#5cb380,#5cb380,#5bb380,#5bb380,#5ab280,#5ab280,#59b280,#59b280,#58b180,#57b180,#56b080,#55b080,#54af80,#53af80,#51ae80,#50ae80)"></i><i style="background:linear-gradient(#bbdd80,#b2d980,#a8d580,#9ed180,#93cd80,#88c880,#7bc280,#6ebc80,#5db480,#48aa80,#3aa382,#2a9b85,#1b9288,#168a8e,#108095,#0e7da5,#0e7da5,#118393,#178c8c,#1e9587,#309e84,#3fa582,#4fad80,#67b880,#5db480,#4ead80,#44a881,#3ba382,#319e84,#269986,#1b9388,#198f8b,#1b9388,#259886,#2f9d84,#38a283,#40a681,#48aa80,#54b080,#5db480,#5cb380,#5cb380,#5bb380,#5ab280,#59b280,#58b180,#57b180,#56b080,#55b080,#54af80,#53af80,#51ae80,#50ae80,#4fad80,#4ead80)"></i><i style="background:linear-gradient(#b3d980,#a3d380,#92cc80,#7ec380,#69b980,#51ae80,#41a681,#329f84,#269986,#1f9587,#1b9288,#198f8b,#178c8d,#15898f,#138592,#108194,#138592,#178d8c,#1c9487,#2b9b85,#38a283,#44a881,#52af80,#66b880,#62b680,#5ab280,#51ae80,#4aab80,#45a881,#40a681,#3ba382,#36a183,#3aa382,#3ea582,#42a781,#46a980,#4aab80,#50ae80,#57b180,#5bb380,#5bb380,#5ab280,#59b280,#58b180,#57b180,#56b080,#55b080,#54af80,#53af80,#52ae80,#50ae80,#4fad80,#4ead80,#4dac80,#4cac80)"></i><i style="background:linear-gradient(#a7d580,#90cb80,#74bf80,#56b080,#3fa582,#2a9b85,#198f8b,#118293,#0e7e9f,#118294,#148790,#178c8d,#1a9189,#1f9587,#299a85,#329f84,#38a283,#3da482,#42a781,#47a980,#4cac80,#55b080,#5eb480,#66b880,#65b780,#63b680,#60b580,#5eb480,#5cb380,#59b280,#57b180,#55b080,#55b080,#55b080,#56b080,#56b080,#56b180,#57b180,#57b180,#57b180,#56b180,#56b080,#55b080,#54b080,#54af80,#53af80,#52af80,#52ae80,#51ae80,#4fad80,#4ead80,#4dac80,#4cac80,#4bab80,#4bab80)"></i><i style="background:linear-gradient(#9bd080,#81c580,#64b780,#47a980,#339f84,#1c9487,#148890,#0e7da5,#0e7da5,#0f7f99,#148890,#19908a,#239786,#329f84,#40a681,#4cac80,#56b080,#58b180,#5ab280,#5bb380,#5db480,#5fb580,#61b680,#63b680,#62b680,#62b680,#61b680,#60b580,#60b580,#5fb580,#5eb480,#5db480,#5bb380,#5ab280,#58b180,#56b080,#54af80,#52ae80,#50ad80,#4ead80,#4fad80,#4fad80,#4fad80,#4fad80,#50ad80,#50ad80,#50ae80,#50ad80,#4ead80,#4dac80,#4cac80,#4bab80,#4bab80,#4aab80,#4aab80)"></i><i style="background:linear-gradient(#8cca80,#72be80,#55b080,#40a681,#2c9c85,#1a9189,#138691,#0e7da5,#0e7da5,#0f7f97,#15898f,#1a9189,#289a85,#38a283,#46a980,#59b280,#61b580,#5fb580,#5eb480,#5db480,#5cb380,#5bb380,#5ab280,#58b280,#59b280,#5ab280,#5ab280,#5bb380,#5cb380,#5cb380,#5db480,#5eb480,#5bb380,#59b280,#57b180,#54b080,#52ae80,#4fad80,#4dac80,#4bab80,#4cac80,#4cac80,#4cac80,#4dac80,#4dac80,#4eac80,#4ead80,#4dac80,#4cac80,#4bab80,#4bab80,#4aab80,#4aab80,#49aa80,#48aa80)"></i><i style="background:linear-gradient(#74bf80,#5bb380,#45a881,#35a083,#239786,#188e8c,#128393,#0e7da5,#0e7da5,#0f7f96,#15898f,#1a9289,#299a85,#39a283,#47a980,#5cb380,#61b580,#5ab280,#53af80,#4cac80,#48aa80,#44a881,#40a681,#3ca482,#3fa582,#42a781,#45a881,#48aa80,#4bab80,#51ae80,#57b180,#5cb380,#59b280,#57b180,#55b080,#52af80,#50ae80,#4dac80,#4bab80,#4aab80,#4bab80,#4bab80,#4bab80,#4bab80,#4bab80,#4bab80,#4cac80,#4bab80,#4bab80,#4aab80,#4aab80,#49aa80,#48aa80,#48aa80,#47a980)"></i><i style="background:linear-gradient(#46a980,#3aa382,#2e9d84,#209687,#198f8b,#148790,#0f7f97,#0e7da5,#0e7da5,#108095,#168a8e,#1b9288,#2a9b85,#3aa382,#48aa80,#5cb380,#5ab280,#49aa80,#3ea582,#339f84,#269986,#1b9289,#178b8d,#128492,#15898f,#198f8b,#1e9587,#2a9b85,#36a183,#40a681,#4aab80,#58b180,#56b080,#54af80,#52af80,#50ae80,#4ead80,#4cac80,#4bab80,#4aab80,#4aab80,#4aab80,#4aab80,#4aab80,#4aab80,#4bab80,#4bab80,#4aab80,#4aab80,#49aa80,#49aa80,#48aa80,#47a980,#47a980,#46a980)"></i><i style="background:linear-gradient(#178d8c,#168b8e,#15898f,#148790,#138592,#118293,#108095,#0f7f9a,#108095,#15898f,#19908a,#239786,#319e84,#3ea582,#4aab80,#5db480,#56b180,#44a881,#36a183,#269986,#1a908a,#148790,#0f7e9b,#0e7da5,#0e7da5,#118294,#168a8e,#1a9189,#269986,#34a083,#40a681,#4bab80,#4bab80,#4bab80,#4cac80,#4cac80,#4dac80,#4dac80,#4eac80,#4ead80,#4dac80,#4cac80,#4bab80,#4bab80,#4bab80,#4aab80,#4aab80,#49aa80,#49aa80,#48aa80,#47a980,#47a980,#46a980,#46a980,#45a881)"></i><i style="background:linear-gradient(#0e7da5,#0e7da0,#108194,#148691,#168b8d,#198f8a,#1c9487,#259886,#2d9c85,#34a083,#3aa382,#40a681,#46a980,#4cac80,#56b180,#60b580,#55b080,#44a881,#35a083,#259886,#19908a,#148790,#0f7e9d,#0e7da5,#0e7da5,#0e7e9e,#118393,#15898f,#188e8b,#1b9388,#259886,#2e9d84,#339f84,#37a183,#3ba382,#3fa582,#43a781,#47a980,#4aab80,#4ead80,#4dac80,#4cac80,#4bab80,#4aab80,#4aab80,#49aa80,#49aa80,#48aa80,#48aa80,#47a980,#46a980,#46a980,#45a881,#44a881,#44a881)"></i><i style="background:linear-gradient(#0e7da5,#0e7da1,#128492,#178d8c,#1c9487,#2b9b85,#39a283,#45a881,#4ead80,#51ae80,#54af80,#57b180,#5ab280,#5cb380,#5fb580,#62b680,#55b080,#43a781,#35a083,#249886,#19908a,#148790,#0f7e9d,#0e7da5,#0e7da5,#0e7da5,#0e7e9f,#108095,#128492,#148890,#178b8d,#198f8b,#1b9388,#229786,#2a9b85,#329f84,#3aa382,#41a681,#47a980,#4cac80,#4bab80,#4aab80,#4aab80,#49aa80,#49aa80,#48aa80,#48aa80,#47a980,#46a980,#46a980,#45a881,#45a881,#44a881,#43a781,#43a781)"></i><i style="background:linear-gradient(#0e7da5,#0f7e9e,#148691,#198f8b,#239786,#339f84,#41a681,#50ae80,#5eb480,#5fb580,#5fb580,#60b580,#60b580,#61b580,#61b680,#62b680,#54af80,#43a781,#35a083,#269986,#1a918a,#15888f,#0f7f98,#0e7da5,#0e7da5,#0e7da5,#0f7e9c,#108195,#128492,#148790,#168a8e,#188d8c,#1a9189,#1f9587,#289a85,#309e84,#37a183,#3ea582,#45a881,#49aa80,#49aa80,#48aa80,#48aa80,#48aa80,#47a980,#47a980,#46a980,#46a980,#45a881,#45a881,#44a881,#43a781,#43a781,#42a781,#42a781)"></i><i style="background:linear-gradient(#0e7da5,#0f7e9d,#148790,#19908a,#259886,#35a083,#43a781,#55b080,#63b680,#62b680,#62b680,#62b680,#61b680,#61b680,#61b580,#60b580,#57b180,#4aab80,#41a681,#38a283,#2e9d84,#249886,#1b9288,#188d8c,#178c8d,#178c8c,#178c8c,#178c8c,#178d8c,#178d8c,#178d8c,#188d8c,#1a9189,#1d9487,#259886,#2d9c85,#34a083,#3ba382,#41a681,#46a980,#45a881,#45a881,#45a881,#45a881,#45a881,#45a881,#45a881,#45a881,#44a881,#44a881,#43a781,#42a781,#42a781,#41a681,#40a681)"></i><i style="background:linear-gradient(#0e7da5,#0f7e9b,#148790,#19908a,#269986,#36a183,#44a881,#56b080,#64b780,#63b680,#62b680,#61b680,#60b580,#5fb580,#5fb480,#5eb480,#5ab280,#55b080,#50ae80,#4bab80,#49aa80,#46a980,#43a781,#40a681,#3ba382,#36a183,#319e84,#2b9b85,#259886,#1f9587,#1b9289,#19908a,#1b9388,#219687,#289a85,#2e9d84,#35a083,#3ba382,#40a681,#44a881,#44a881,#44a881,#44a881,#44a881,#44a881,#44a881,#44a881,#44a881,#43a781,#43a781,#42a781,#41a681,#41a681,#40a681,#3fa582)"></i><i style="background:linear-gradient(#0e7e9f,#138592,#188d8c,#1d9487,#2c9c85,#3aa382,#47a980,#58b180,#63b780,#62b680,#60b580,#5eb480,#5db480,#5bb380,#59b280,#57b180,#56b080,#55b080,#54af80,#53af80,#51ae80,#50ae80,#4fad80,#4ead80,#4aab80,#48aa80,#45a881,#42a781,#3fa582,#3ca482,#39a283,#37a183,#38a283,#3aa382,#3ca482,#3da482,#3fa582,#41a681,#42a781,#43a781,#43a781,#43a781,#43a781,#43a781,#43a781,#43a781,#43a781,#43a781,#42a781,#41a681,#41a681,#40a681,#40a681,#3fa582,#3ea582)"></i><i style="background:linear-gradient(#219687,#2a9b85,#329f84,#3aa382,#41a681,#48aa80,#51ae80,#5db480,#62b680,#5eb480,#5ab280,#55b080,#51ae80,#4cac80,#4aab80,#47a980,#47a980,#48aa80,#49aa80,#4aab80,#4bab80,#4eac80,#50ad80,#52ae80,#50ae80,#4fad80,#4dac80,#4bab80,#4aab80,#49aa80,#48aa80,#47a980,#47a980,#46a980,#46a980,#45a881,#45a881,#44a881,#44a881,#43a781,#43a781,#43a781,#43a781,#42a781,#42a781,#42a781,#42a781,#42a781,#41a681,#40a681,#40a681,#3fa582,#3ea582,#3ea582,#3da482)"></i><i style="background:linear-gradient(#48aa80,#4aab80,#4dac80,#51ae80,#55b080,#59b280,#5db480,#61b580,#5eb480,#52af80,#49aa80,#42a781,#3aa382,#339f84,#2b9b85,#229786,#239786,#2a9b85,#319e84,#37a183,#3da482,#43a781,#49aa80,#51ae80,#51ae80,#50ad80,#4ead80,#4dac80,#4cac80,#4bab80,#4aab80,#4aab80,#49aa80,#48aa80,#48aa80,#47a980,#47a980,#46a980,#45a881,#45a881,#44a881,#44a881,#43a781,#43a781,#42a781,#42a781,#41a681,#40a681,#40a681,#3fa582,#3fa582,#3ea582,#3da482,#3da482,#3ca482)"></i><i style="background:linear-gradient(#5cb380,#5db480,#5eb480,#5eb480,#5fb580,#60b580,#61b680,#62b680,#5ab280,#48aa80,#3ba382,#2d9c85,#1e9587,#188d8c,#138592,#0e7da0,#0f7e9c,#138591,#188d8c,#1b9388,#299a85,#36a183,#42a781,#4ead80,#50ad80,#4fad80,#4dac80,#4cac80,#4bab80,#4aab80,#4aab80,#49aa80,#49aa80,#48aa80,#47a980,#47a980,#46a980,#46a980,#45a881,#44a881,#44a881,#43a781,#43a781,#42a781,#41a681,#41a681,#40a681,#3fa582,#3fa582,#3ea582,#3da482,#3da482,#3ca482,#3ca482,#3ba382)"></i><i style="background:linear-gradient(#62b680,#62b680,#62b680,#62b680,#62b680,#62b680,#62b680,#62b680,#58b280,#46a980,#37a183,#289a85,#1a9189,#15898f,#0f7f97,#0e7da5,#0e7da5,#108095,#15898f,#1a908a,#249886,#329f84,#40a681,#4cac80,#4ead80,#4dac80,#4bab80,#4bab80,#4aab80,#49aa80,#49aa80,#48aa80,#47a980,#47a980,#46a980,#46a980,#45a881,#44a881,#44a881,#43a781,#43a781,#42a781,#41a681,#41a681,#40a681,#40a681,#3fa582,#3ea582,#3ea582,#3da482,#3ca482,#3ca482,#3ba382,#3aa382,#3aa382)"></i><i style="background:linear-gradient(#64b780,#64b780,#63b780,#63b680,#62b680,#62b680,#61b680,#61b680,#58b180,#45a881,#37a183,#279986,#1a9189,#15898f,#0f7f98,#0e7da5,#0e7da5,#0f7f96,#15888f,#19908a,#239786,#319e84,#3ea582,#4aab80,#4bab80,#4aab80,#4aab80,#49aa80,#48aa80,#47a980,#46a980,#46a980,#45a881,#44a881,#44a881,#43a781,#43a781,#42a781,#41a681,#41a681,#40a681,#40a681,#3fa582,#3fa582,#3fa582,#3ea582,#3ea582,#3da482,#3da482,#3ca482,#3ba382,#3ba382,#3aa382,#39a283,#39a283)"></i><i style="background:linear-gradient(#65b780,#64b780,#63b780,#63b680,#62b680,#61b680,#61b580,#60b580,#57b180,#45a881,#36a183,#279986,#1a9189,#15888f,#0f7f98,#0e7da5,#0e7da5,#0f7f97,#148790,#198f8b,#209687,#2f9d84,#3ca482,#47a980,#48aa80,#46a980,#45a881,#43a781,#42a781,#40a681,#3fa582,#3da482,#3da482,#3da482,#3da482,#3ea582,#3ea582,#3ea582,#3ea582,#3ea582,#3ea582,#3ea582,#3da482,#3da482,#3da482,#3da482,#3da482,#3ca482,#3ba382,#3ba382,#3aa382,#39a283,#39a283,#38a283,#37a183)"></i><i style="background:linear-gradient(#64b780,#64b780,#63b680,#62b680,#61b680,#60b580,#60b580,#5fb580,#56b080,#44a881,#37a183,#289a85,#1a9289,#168a8e,#108195,#0e7da5,#0e7da5,#108095,#148790,#188e8b,#1c9487,#299a85,#35a083,#40a681,#3ea582,#3aa382,#36a183,#329f84,#2d9c85,#289a85,#249886,#1f9587,#249886,#289a85,#2c9c85,#2f9d84,#339f84,#37a183,#3aa382,#3da482,#3da482,#3ca482,#3ca482,#3ca482,#3ca482,#3ca482,#3ba382,#3ba382,#3aa382,#3aa382,#39a283,#38a283,#38a283,#37a183,#36a183)"></i><i style="background:linear-gradient(#64b780,#63b680,#62b680,#61b680,#60b580,#5fb580,#5eb480,#5db480,#56b080,#49aa80,#3fa582,#36a183,#2b9b85,#209687,#1a908a,#168b8e,#168a8e,#178c8d,#188e8c,#19908a,#1a9189,#1b9388,#1f9587,#239786,#219687,#1e9587,#1b9388,#1b9289,#1a9189,#198f8a,#188e8b,#188d8c,#19908a,#1b9388,#219687,#279986,#2d9c85,#339f84,#38a283,#3ca482,#3ca482,#3ba382,#3ba382,#3ba382,#3ba382,#3ba382,#3aa382,#3aa382,#39a283,#39a283,#38a283,#37a183,#37a183,#36a183,#35a083)"></i><i style="background:linear-gradient(#63b780,#62b680,#60b580,#5fb580,#5db480,#5cb380,#5ab280,#59b280,#55b080,#4fad80,#4aab80,#46a980,#43a781,#3fa582,#3ba382,#37a183,#309e84,#279986,#1d9487,#19908a,#168b8d,#138691,#108095,#0e7da4,#0e7da1,#0f7f9a,#108195,#128393,#138691,#158890,#168a8e,#178c8c,#19908a,#1b9288,#209687,#269986,#2c9c85,#329f84,#38a283,#3ca482,#3ba382,#3ba382,#3ba382,#3aa382,#3aa382,#3aa382,#39a283,#39a283,#38a283,#37a183,#37a183,#36a183,#35a083,#35a083,#34a083)"></i><i style="background:linear-gradient(#62b680,#5fb580,#5cb380,#59b280,#56b180,#53af80,#50ae80,#4dac80,#4bab80,#4aab80,#49aa80,#48aa80,#48aa80,#47a980,#46a980,#45a881,#3ea582,#329f84,#259886,#1a9189,#168a8e,#118393,#0e7da3,#0e7da5,#0e7da5,#0e7da5,#0e7da2,#0f7f98,#118294,#138691,#15898f,#178c8d,#198f8a,#1b9288,#209687,#279986,#2d9c85,#339f84,#39a283,#3da482,#3ca482,#3ba382,#3ba382,#3aa382,#3aa382,#39a283,#38a283,#38a283,#37a183,#36a183,#36a183,#35a083,#34a083,#34a083,#339f84)"></i><i style="background:linear-gradient(#61b680,#5ab280,#52af80,#4bab80,#47a980,#43a781,#3ea582,#3aa382,#38a283,#3aa382,#3ca482,#3fa582,#41a681,#43a781,#45a881,#47a980,#41a681,#35a083,#279986,#1b9288,#178b8d,#128393,#0e7da3,#0e7da5,#0e7da5,#0e7da5,#0f7e9d,#118194,#138591,#15898f,#188d8c,#1a908a,#1b9388,#1f9587,#259886,#2a9b85,#2f9d84,#34a083,#39a283,#3ca482,#3ba382,#3ba382,#3aa382,#39a283,#39a283,#38a283,#37a183,#37a183,#36a183,#35a083,#35a083,#34a083,#339f84,#339f84,#329f84)"></i><i style="background:linear-gradient(#5fb580,#4ead80,#44a881,#3aa382,#2f9d84,#239786,#1a9189,#178b8d,#168a8e,#188e8b,#1b9388,#249886,#2d9c85,#36a183,#3ea582,#46a980,#41a681,#35a083,#289a85,#1b9288,#178b8d,#128393,#0e7da2,#0e7da5,#0e7da5,#0f7e9c,#128492,#168a8e,#198f8a,#1e9587,#299a85,#339f84,#34a083,#35a083,#36a183,#37a183,#38a283,#39a283,#3aa382,#3ba382,#3aa382,#39a283,#39a283,#38a283,#37a183,#37a183,#36a183,#36a183,#35a083,#34a083,#339f84,#339f84,#329f84,#319e84,#319e84)"></i><i style="background:linear-gradient(#5db480,#49aa80,#3ba382,#2d9c85,#1d9487,#178c8d,#128393,#0e7da5,#0e7da5,#0f7f97,#148790,#188e8b,#1e9587,#2c9c85,#39a283,#44a881,#42a781,#36a183,#2a9b85,#1d9487,#188e8b,#148790,#0f7f96,#0e7da5,#0e7e9f,#118393,#15898f,#198f8b,#1d9487,#299a85,#339f84,#3ca482,#3ca482,#3ba382,#3ba382,#3aa382,#3aa382,#39a283,#39a283,#38a283,#38a283,#37a183,#37a183,#36a183,#36a183,#35a083,#35a083,#34a083,#34a083,#339f84,#329f84,#329f84,#319e84,#309e84,#309e84)"></i><i style="background:linear-gradient(#5cb380,#48aa80,#3aa382,#2b9b85,#1b9388,#168b8e,#108194,#0e7da5,#0e7da5,#0f7e9d,#138591,#188d8c,#1c9487,#2a9b85,#37a183,#43a781,#44a881,#3ea582,#39a283,#329f84,#2c9c85,#259886,#1e9587,#1a9189,#1b9388,#209687,#269986,#2b9b85,#309e84,#35a083,#39a283,#3da482,#3ca482,#3ba382,#3ba382,#3aa382,#39a283,#38a283,#37a183,#36a183,#36a183,#35a083,#35a083,#35a083,#34a083,#34a083,#34a083,#339f84,#339f84,#329f84,#319e84,#319e84,#309e84,#2f9d84,#2f9d84)"></i><i style="background:linear-gradient(#5bb380,#47a980,#3aa382,#2a9b85,#1b9388,#168a8e,#108194,#0e7da5,#0e7da5,#0f7e9d,#138592,#178d8c,#1b9388,#2a9b85,#37a183,#42a781,#46a980,#44a881,#42a781,#40a681,#3ea582,#3ca482,#3aa382,#38a283,#38a283,#39a283,#39a283,#3aa382,#3ba382,#3ba382,#3ca482,#3da482,#3ca482,#3ba382,#3aa382,#39a283,#38a283,#37a183,#36a183,#35a083,#35a083,#34a083,#34a083,#34a083,#339f84,#339f84,#339f84,#329f84,#319e84,#319e84,#309e84,#2f9d84,#2f9d84,#2e9d84,#2d9c85)"></i><i style="background:linear-gradient(#5ab280,#47a980,#39a283,#2a9b85,#1b9288,#168a8e,#108195,#0e7da5,#0e7da5,#0f7e9e,#138592,#178c8c,#1b9388,#299a85,#36a183,#42a781,#45a881,#44a881,#43a781,#42a781,#41a681,#41a681,#40a681,#3fa582,#3ea582,#3ea582,#3da482,#3da482,#3da482,#3ca482,#3ca482,#3ba382,#3aa382,#39a283,#38a283,#37a183,#37a183,#36a183,#35a083,#34a083,#339f84,#339f84,#339f84,#339f84,#329f84,#329f84,#329f84,#319e84,#309e84,#309e84,#2f9d84,#2e9d84,#2e9d84,#2d9c85,#2c9c85)"></i><i style="background:linear-gradient(#59b280,#47a980,#39a283,#2b9b85,#1b9388,#178b8d,#118393,#0e7da5,#0e7da5,#0f7f99,#148691,#188d8c,#1c9487,#299a85,#35a083,#41a681,#44a881,#44a881,#43a781,#42a781,#42a781,#41a681,#40a681,#3fa582,#3fa582,#3ea582,#3da482,#3ca482,#3ba382,#3aa382,#39a283,#39a283,#38a283,#37a183,#37a183,#36a183,#36a183,#35a083,#34a083,#34a083,#339f84,#339f84,#329f84,#329f84,#319e84,#319e84,#319e84,#309e84,#2f9d84,#2f9d84,#2e9d84,#2d9c85,#2c9c85,#2c9c85,#2b9b85)"></i><i style="background:linear-gradient(#57b180,#49aa80,#3fa582,#35a083,#2a9b85,#1f9587,#198f8a,#168a8e,#148890,#178c8c,#1a9189,#1f9587,#289a85,#319e84,#39a283,#41a681,#43a781,#42a781,#42a781,#41a681,#41a681,#40a681,#40a681,#3fa582,#3da482,#3ba382,#39a283,#37a183,#35a083,#339f84,#319e84,#2f9d84,#2f9d84,#309e84,#319e84,#329f84,#329f84,#339f84,#34a083,#34a083,#339f84,#339f84,#329f84,#319e84,#319e84,#309e84,#2f9d84,#2f9d84,#2e9d84,#2d9c85,#2d9c85,#2c9c85,#2b9b85,#2b9b85,#2a9b85)"></i><i style="background:linear-gradient(#50ad80,#4aab80,#46a980,#42a781,#3ea582,#3aa382,#36a183,#319e84,#2f9d84,#329f84,#34a083,#37a183,#39a283,#3ca482,#3ea582,#40a681,#41a681,#41a681,#40a681,#40a681,#3fa582,#3fa582,#3ea582,#3ea582,#3aa382,#35a083,#2f9d84,#2a9b85,#249886,#1e9587,#1b9289,#19908a,#1a9289,#1c9487,#209687,#249886,#299a85,#2d9c85,#319e84,#339f84,#329f84,#329f84,#319e84,#309e84,#309e84,#2f9d84,#2e9d84,#2e9d84,#2d9c85,#2c9c85,#2c9c85,#2b9b85,#2a9b85,#2a9b85,#299a85)"></i><i style="background:linear-gradient(#43a781,#42a781,#42a781,#42a781,#41a681,#41a681,#40a681,#40a681,#40a681,#3fa582,#3fa582,#3ea582,#3ea582,#3ea582,#3da482,#3da482,#3da482,#3da482,#3da482,#3da482,#3da482,#3da482,#3da482,#3da482,#38a283,#329f84,#2b9b85,#249886,#1d9487,#1a9189,#188e8b,#168b8d,#188e8c,#1a908a,#1b9388,#1f9587,#249886,#2a9b85,#2f9d84,#329f84,#319e84,#319e84,#309e84,#2f9d84,#2f9d84,#2e9d84,#2d9c85,#2d9c85,#2c9c85,#2b9b85,#2a9b85,#2a9b85,#299a85,#289a85,#289a85)"></i><i style="background:linear-gradient(#239786,#279986,#2c9c85,#319e84,#35a083,#39a283,#3ea582,#42a781,#43a781,#40a681,#3da482,#3aa382,#38a283,#35a083,#329f84,#2e9d84,#2e9d84,#309e84,#329f84,#34a083,#36a183,#37a183,#39a283,#3ba382,#36a183,#309e84,#2a9b85,#239786,#1c9487,#1a9189,#188d8c,#168b8e,#188d8c,#19908a,#1b9289,#1d9487,#229786,#289a85,#2c9c85,#309e84,#2f9d84,#2f9d84,#2e9d84,#2e9d84,#2d9c85,#2d9c85,#2c9c85,#2b9b85,#2b9b85,#2a9b85,#299a85,#299a85,#289a85,#279986,#279986)"></i><i style="background:linear-gradient(#0f7f9a,#138592,#168b8e,#1a908a,#209687,#2b9b85,#36a183,#3fa582,#42a781,#3aa382,#329f84,#2a9b85,#219687,#1a9289,#188d8c,#15888f,#15898f,#178d8c,#19908a,#1b9388,#239786,#2a9b85,#309e84,#37a183,#339f84,#2d9c85,#279986,#219687,#1b9388,#19908a,#188d8c,#168a8e,#178d8c,#198f8b,#1a9189,#1c9487,#219687,#269986,#2b9b85,#2e9d84,#2d9c85,#2d9c85,#2d9c85,#2c9c85,#2c9c85,#2b9b85,#2b9b85,#2a9b85,#2a9b85,#299a85,#289a85,#289a85,#279986,#269986,#259886)"></i><i style="background:linear-gradient(#0e7da5,#0e7da1,#128493,#168b8d,#1a9289,#259886,#329f84,#3ea582,#41a681,#35a083,#299a85,#1b9388,#188d8c,#138691,#0f7f99,#0e7da5,#0e7da5,#0f7e9d,#118393,#15888f,#188d8c,#1b9288,#239786,#2c9c85,#2b9b85,#289a85,#259886,#219687,#1e9587,#1b9388,#1a9189,#19908a,#1a9289,#1b9388,#1e9587,#219687,#249886,#289a85,#2b9b85,#2d9c85,#2c9c85,#2c9c85,#2b9b85,#2b9b85,#2b9b85,#2a9b85,#2a9b85,#299a85,#299a85,#289a85,#279986,#269986,#269986,#259886,#249886)"></i><i style="background:linear-gradient(#0e7da5,#0e7da4,#118393,#168a8e,#1a9189,#249886,#319e84,#3da482,#40a681,#34a083,#279986,#1b9288,#178c8d,#128492,#0e7e9f,#0e7da5,#0e7da5,#0e7da5,#0e7da5,#0f7e9b,#108194,#128492,#148890,#168b8e,#188d8c,#198f8b,#1a9189,#1b9388,#1f9587,#239786,#279986,#2b9b85,#2b9b85,#2b9b85,#2b9b85,#2b9b85,#2b9b85,#2c9c85,#2c9c85,#2c9c85,#2b9b85,#2b9b85,#2a9b85,#2a9b85,#299a85,#299a85,#299a85,#289a85,#279986,#279986,#269986,#259886,#259886,#249886,#239786)"></i><i style="background:linear-gradient(#0e7da5,#0e7da4,#118393,#168a8e,#1a9189,#249886,#319e84,#3da482,#3fa582,#339f84,#279986,#1b9288,#178c8d,#128492,#0e7e9f,#0e7da5,#0e7da5,#0e7da5,#0e7da5,#0e7da5,#0e7da5,#0e7da5,#0e7da5,#0e7da5,#0e7da5,#0f7f96,#138591,#168b8e,#19908a,#1d9487,#289a85,#309e84,#309e84,#2f9d84,#2f9d84,#2e9d84,#2d9c85,#2d9c85,#2c9c85,#2b9b85,#2b9b85,#2a9b85,#2a9b85,#299a85,#299a85,#289a85,#289a85,#279986,#269986,#269986,#259886,#249886,#239786,#239786,#229786)"></i><i style="background:linear-gradient(#0e7da5,#0e7da4,#118293,#168a8e,#1a9189,#239786,#309e84,#3ca482,#3fa582,#339f84,#269986,#1b9289,#178c8d,#128492,#0e7e9f,#0e7da5,#0e7da5,#0e7da5,#0e7da5,#0e7da5,#0e7da5,#0e7da5,#0e7da5,#0e7da5,#0e7da5,#0f7e9d,#128393,#15898f,#198f8b,#1c9487,#279986,#319e84,#309e84,#2f9d84,#2f9d84,#2e9d84,#2d9c85,#2d9c85,#2c9c85,#2b9b85,#2b9b85,#2a9b85,#299a85,#299a85,#289a85,#279986,#279986,#269986,#259886,#249886,#249886,#239786,#229786,#229786,#219687)"></i><i style="background:linear-gradient(#0e7da5,#0e7e9e,#128492,#168b8d,#1a9189,#249886,#309e84,#3ca482,#3ea582,#34a083,#289a85,#1c9487,#188e8b,#148890,#108195,#0e7da5,#0e7da5,#0e7da5,#0e7da5,#0e7da5,#0e7da5,#0e7da5,#0e7da5,#0e7da5,#0e7da5,#0f7e9d,#128393,#15898f,#188e8b,#1b9388,#269986,#309e84,#2f9d84,#2e9d84,#2e9d84,#2d9c85,#2c9c85,#2c9c85,#2b9b85,#2a9b85,#2a9b85,#299a85,#289a85,#279986,#279986,#269986,#259886,#259886,#249886,#239786,#239786,#229786,#219687,#209687,#209687)"></i><i style="background:linear-gradient(#138592,#168a8e,#188e8b,#1b9388,#239786,#2c9c85,#35a083,#3da482,#3fa582,#39a283,#339f84,#2d9c85,#269986,#1f9587,#1b9289,#198f8b,#178c8d,#15888f,#138592,#108195,#0f7e9c,#0e7da5,#0e7da5,#0e7da5,#0e7da5,#0f7e9d,#128393,#15898f,#188e8b,#1b9388,#259886,#2e9d84,#2e9d84,#2d9c85,#2c9c85,#2c9c85,#2b9b85,#2a9b85,#2a9b85,#299a85,#289a85,#289a85,#279986,#269986,#269986,#259886,#249886,#249886,#239786,#229786,#219687,#219687,#209687,#1f9587,#1f9587)"></i><i style="background:linear-gradient(#2a9b85,#2d9c85,#309e84,#339f84,#36a183,#39a283,#3ca482,#3fa582,#3fa582,#3da482,#3ba382,#38a283,#36a183,#339f84,#309e84,#2e9d84,#289a85,#209687,#1a9189,#188e8c,#15898f,#138592,#108095,#0e7da2,#0f7f99,#128393,#148890,#178c8d,#19908a,#1c9487,#249886,#2b9b85,#2a9b85,#2a9b85,#299a85,#299a85,#289a85,#289a85,#279986,#279986,#269986,#269986,#259886,#259886,#249886,#249886,#239786,#229786,#229786,#219687,#209687,#209687,#1f9587,#1e9587,#1d9487)"></i><i style="background:linear-gradient(#3ea582,#3ea582,#3ea582,#3ea582,#3fa582,#3fa582,#3fa582,#3fa582,#3fa582,#3da482,#3ca482,#3ba382,#39a283,#38a283,#36a183,#35a083,#329f84,#2f9d84,#2b9b85,#289a85,#249886,#209687,#1c9487,#1b9289,#1b9288,#1b9388,#1b9388,#1b9388,#1d9487,#1e9587,#1f9587,#209687,#209687,#219687,#229786,#239786,#249886,#249886,#259886,#259886,#259886,#259886,#249886,#249886,#239786,#239786,#229786,#229786,#219687,#209687,#1f9587,#1f9587,#1e9587,#1d9487,#1d9487)"></i><i style="background:linear-gradient(#43a781,#43a781,#42a781,#41a681,#41a681,#40a681,#3fa582,#3fa582,#3ea582,#3da482,#3ca482,#3ba382,#3aa382,#39a283,#37a183,#36a183,#35a083,#34a083,#329f84,#319e84,#309e84,#2e9d84,#2d9c85,#2b9b85,#289a85,#239786,#1f9587,#1b9388,#1a9189,#198f8b,#188d8c,#168b8d,#178d8c,#198f8b,#1a908a,#1a9289,#1b9388,#1f9587,#229786,#259886,#249886,#249886,#239786,#239786,#229786,#229786,#219687,#219687,#209687,#1f9587,#1e9587,#1e9587,#1d9487,#1c9487,#1c9487)"></i><i style="background:linear-gradient(#45a881,#44a881,#43a781,#41a681,#40a681,#3fa582,#3ea582,#3da482,#3ca482,#3ba382,#3aa382,#3aa382,#39a283,#38a283,#37a183,#36a183,#35a083,#34a083,#339f84,#339f84,#329f84,#319e84,#309e84,#2f9d84,#2a9b85,#259886,#209687,#1b9388,#1a908a,#188e8b,#168b8d,#15898f,#168b8e,#178d8c,#198f8b,#1a918a,#1b9288,#1d9487,#219687,#249886,#239786,#239786,#229786,#229786,#219687,#219687,#209687,#209687,#1f9587,#1e9587,#1e9587,#1d9487,#1c9487,#1b9388,#1b9388)"></i><i style="background:linear-gradient(#45a881,#43a781,#42a781,#40a681,#3fa582,#3da482,#3ca482,#3aa382,#39a283,#39a283,#38a283,#38a283,#37a183,#36a183,#36a183,#35a083,#35a083,#34a083,#339f84,#329f84,#329f84,#319e84,#309e84,#2f9d84,#2b9b85,#259886,#209687,#1b9388,#1a908a,#188e8c,#168b8e,#15888f,#168a8e,#178d8c,#198f8b,#1a908a,#1b9288,#1d9487,#219687,#249886,#239786,#239786,#229786,#219687,#219687,#209687,#1f9587,#1f9587,#1e9587,#1d9487,#1d9487,#1c9487,#1b9388,#1b9388,#1b9388)"></i><i style="background:linear-gradient(#45a881,#42a781,#40a681,#3da482,#3aa382,#38a283,#35a083,#329f84,#319e84,#319e84,#329f84,#329f84,#339f84,#339f84,#34a083,#34a083,#34a083,#339f84,#329f84,#329f84,#319e84,#309e84,#2f9d84,#2f9d84,#2a9b85,#259886,#1f9587,#1b9388,#1a908a,#188e8c,#168b8e,#15888f,#168a8e,#178d8c,#188e8b,#1a908a,#1b9288,#1d9487,#219687,#239786,#239786,#229786,#219687,#219687,#209687,#1f9587,#1f9587,#1e9587,#1d9487,#1c9487,#1c9487,#1b9388,#1b9388,#1b9388,#1b9288)"></i><i style="background:linear-gradient(#44a881,#3ea582,#39a283,#339f84,#2d9c85,#279986,#209687,#1b9388,#1a9189,#1b9388,#1f9587,#239786,#279986,#2b9b85,#2f9d84,#329f84,#339f84,#329f84,#329f84,#319e84,#309e84,#2f9d84,#2f9d84,#2e9d84,#2b9b85,#279986,#249886,#209687,#1d9487,#1b9288,#1a9189,#198f8a,#1a908a,#1a9189,#1b9288,#1b9388,#1d9487,#1f9587,#219687,#239786,#229786,#219687,#209687,#209687,#1f9587,#1e9587,#1e9587,#1d9487,#1c9487,#1b9388,#1b9388,#1b9388,#1b9388,#1b9288,#1b9289)"></i><i style="background:linear-gradient(#42a781,#39a283,#2e9d84,#239786,#1a9189,#178c8d,#138591,#0f7f99,#0e7e9e,#118294,#148790,#178c8d,#1a908a,#1e9587,#279986,#2f9d84,#329f84,#319e84,#319e84,#309e84,#2f9d84,#2e9d84,#2d9c85,#2d9c85,#2c9c85,#2a9b85,#299a85,#289a85,#269986,#259886,#249886,#229786,#229786,#229786,#229786,#229786,#229786,#229786,#229786,#219687,#219687,#209687,#1f9587,#1f9587,#1e9587,#1d9487,#1d9487,#1c9487,#1b9388,#1b9388,#1b9388,#1b9388,#1b9288,#1b9289,#1a9289)"></i><i style="background:linear-gradient(#42a781,#36a183,#2a9b85,#1c9487,#188d8c,#148691,#0f7f99,#0e7da5,#0e7da5,#0e7da4,#108195,#148790,#178d8c,#1b9289,#239786,#2e9d84,#319e84,#309e84,#2f9d84,#2e9d84,#2e9d84,#2d9c85,#2c9c85,#2b9b85,#2a9b85,#2a9b85,#299a85,#289a85,#289a85,#279986,#269986,#259886,#259886,#249886,#239786,#239786,#229786,#219687,#209687,#209687,#1f9587,#1f9587,#1e9587,#1d9487,#1d9487,#1c9487,#1c9487,#1b9388,#1b9388,#1b9388,#1b9288,#1b9288,#1a9289,#1a9289,#1a9189)"></i><i style="background:linear-gradient(#41a681,#36a183,#299a85,#1b9388,#188d8c,#138691,#0f7f9a,#0e7da5,#0e7da5,#0e7da5,#108095,#148691,#178c8d,#1a9189,#229786,#2c9c85,#2f9d84,#2e9d84,#2d9c85,#2c9c85,#2b9b85,#2a9b85,#299a85,#279986,#279986,#279986,#279986,#269986,#269986,#269986,#269986,#259886,#249886,#249886,#239786,#229786,#219687,#209687,#1f9587,#1f9587,#1e9587,#1d9487,#1d9487,#1c9487,#1c9487,#1b9388,#1b9388,#1b9388,#1b9388,#1b9288,#1b9289,#1a9289,#1a9189,#1a9189,#1a9189)"></i><i style="background:linear-gradient(#40a681,#35a083,#289a85,#1b9388,#178d8c,#138691,#0f7f9a,#0e7da5,#0e7da5,#0e7da5,#108095,#138691,#178b8d,#1a918a,#209687,#2a9b85,#2c9c85,#2a9b85,#289a85,#259886,#239786,#209687,#1e9587,#1b9388,#1c9487,#1d9487,#1e9587,#209687,#219687,#229786,#239786,#249886,#249886,#239786,#229786,#219687,#209687,#1f9587,#1e9587,#1e9587,#1d9487,#1d9487,#1c9487,#1b9388,#1b9388,#1b9388,#1b9388,#1b9388,#1b9288,#1b9289,#1a9289,#1a9189,#1a9189,#1a9189,#1a908a)"></i><i style="background:linear-gradient(#40a681,#34a083,#289a85,#1b9388,#178d8c,#138691,#0f7f9a,#0e7da5,#0e7da5,#0e7da5,#0f7f98,#128492,#168a8e,#198f8b,#1b9388,#249886,#249886,#1d9487,#1a9289,#198f8b,#178c8d,#15888f,#138592,#108194,#128393,#148790,#168a8e,#178d8c,#198f8a,#1b9289,#1e9587,#239786,#229786,#219687,#219687,#209687,#1f9587,#1e9587,#1e9587,#1d9487,#1c9487,#1c9487,#1b9388,#1b9388,#1b9388,#1b9388,#1b9288,#1b9288,#1b9289,#1a9289,#1a9189,#1a9189,#1a9189,#1a908a,#19908a)"></i><i style="background:linear-gradient(#3fa582,#35a083,#2a9b85,#1e9587,#198f8b,#15898f,#118293,#0e7da1,#0e7da5,#0e7da0,#0f7f96,#118393,#138691,#15898f,#178c8d,#198f8b,#188e8b,#168b8e,#148790,#128393,#0f7f97,#0e7da3,#0e7da5,#0e7da5,#0e7da5,#0e7da1,#108095,#138592,#168a8e,#188e8b,#1b9289,#209687,#1f9587,#1f9587,#1f9587,#1e9587,#1e9587,#1e9587,#1d9487,#1d9487,#1c9487,#1b9388,#1b9388,#1b9388,#1b9388,#1b9288,#1b9289,#1a9289,#1a9189,#1a9189,#1a9189,#1a918a,#1a908a,#19908a,#19908a)"></i><i style="background:linear-gradient(#3fa582,#39a283,#339f84,#2c9c85,#259886,#1e9587,#1a9189,#188e8c,#168b8e,#15898f,#148790,#138592,#118393,#108095,#0f7f99,#0e7e9f,#0e7da4,#0e7da5,#0e7da5,#0e7da5,#0e7da5,#0e7da5,#0e7da5,#0e7da5,#0e7da5,#0e7da5,#0f7e9d,#108194,#138592,#15898f,#178d8c,#19908a,#1a908a,#1a9189,#1a9189,#1b9289,#1b9288,#1b9388,#1c9487,#1c9487,#1b9388,#1b9388,#1b9388,#1b9388,#1b9288,#1b9289,#1a9289,#1a9189,#1a9189,#1a9189,#1a908a,#1a908a,#19908a,#19908a,#198f8a)"></i><i style="background:linear-gradient(#3fa582,#3ca482,#39a283,#36a183,#339f84,#309e84,#2c9c85,#299a85,#239786,#1b9388,#188e8b,#15898f,#128492,#0f7f98,#0e7da5,#0e7da5,#0e7da5,#0e7da5,#0e7da5,#0e7da5,#0e7da5,#0e7da5,#0e7da5,#0e7da5,#0e7da5,#0e7da5,#0e7da5,#0e7e9e,#0f7f96,#118294,#138591,#158890,#168a8e,#168b8d,#178d8c,#188e8b,#19908a,#1a9189,#1b9388,#1b9388,#1b9388,#1b9388,#1b9388,#1b9288,#1b9289,#1a9289,#1a9189,#1a9189,#1a9189,#1a908a,#19908a,#19908a,#19908a,#198f8b,#198f8b)"></i><i style="background:linear-gradient(#3ea582,#3ca482,#3aa382,#38a283,#36a183,#35a083,#339f84,#319e84,#2b9b85,#219687,#1a9189,#178c8d,#148691,#108095,#0e7da5,#0e7da5,#0e7da5,#0e7da5,#0e7da5,#0e7da5,#0e7da5,#0e7da5,#0e7da5,#0e7da5,#0e7da5,#0e7da5,#0e7da5,#0e7e9f,#0f7f97,#118294,#128492,#148790,#15888f,#168a8e,#178c8d,#188d8c,#198f8b,#1a918a,#1b9289,#1b9388,#1b9388,#1b9288,#1b9289,#1a9289,#1a9189,#1a9189,#1a9189,#1a918a,#1a908a,#19908a,#19908a,#198f8a,#198f8b,#198f8b,#198f8b)"></i><i style="background:linear-gradient(#3da482,#3ba382,#3aa382,#38a283,#37a183,#35a083,#34a083,#329f84,#2d9c85,#239786,#1a9289,#178c8c,#148790,#108095,#0e7da5,#0e7da5,#0e7da5,#0e7da5,#0e7da5,#0e7da5,#0e7da5,#0e7da2,#0f7e9d,#0f7f98,#108095,#108195,#118294,#118393,#128493,#128492,#138591,#148691,#15888f,#168a8e,#178b8d,#188d8c,#198f8b,#19908a,#1a9189,#1b9288,#1b9288,#1b9289,#1a9289,#1a9189,#1a9189,#1a9189,#1a918a,#1a908a,#19908a,#19908a,#198f8a,#198f8b,#198f8b,#198f8b,#188e8b)"></i></div>
<svg width="550" height="450" viewBox="0 0 550 450" font-family="Liberation Sans, Arial, sans-serif"><style>text{stroke:#1a1a1a;stroke-width:0.32px;stroke-opacity:0.7}</style><g id="pa">
<rect x="68.4" y="20.5" width="181.2" height="162.2" fill="none" stroke="#505050" stroke-width="1.05"/>
<line x1="81" y1="182.7" x2="81" y2="179.1" stroke="#505050" stroke-width="1" />
<line x1="81" y1="20.5" x2="81" y2="24.1" stroke="#505050" stroke-width="1" />
<line x1="94" y1="182.7" x2="94" y2="180.3" stroke="#505050" stroke-width="1" />
<line x1="94" y1="20.5" x2="94" y2="22.9" stroke="#505050" stroke-width="1" />
<line x1="107" y1="182.7" x2="107" y2="179.1" stroke="#505050" stroke-width="1" />
<line x1="107" y1="20.5" x2="107" y2="24.1" stroke="#505050" stroke-width="1" />
<line x1="120" y1="182.7" x2="120" y2="180.3" stroke="#505050" stroke-width="1" />
<line x1="120" y1="20.5" x2="120" y2="22.9" stroke="#505050" stroke-width="1" />
<line x1="133" y1="182.7" x2="133" y2="179.1" stroke="#505050" stroke-width="1" />
<line x1="133" y1="20.5" x2="133" y2="24.1" stroke="#505050" stroke-width="1" />
<line x1="146" y1="182.7" x2="146" y2="180.3" stroke="#505050" stroke-width="1" />
<line x1="146" y1="20.5" x2="146" y2="22.9" stroke="#505050" stroke-width="1" />
<line x1="159" y1="182.7" x2="159" y2="179.1" stroke="#505050" stroke-width="1" />
<line x1="159" y1="20.5" x2="159" y2="24.1" stroke="#505050" stroke-width="1" />
<line x1="172" y1="182.7" x2="172" y2="180.3" stroke="#505050" stroke-width="1" />
<line x1="172" y1="20.5" x2="172" y2="22.9" stroke="#505050" stroke-width="1" />
<line x1="185" y1="182.7" x2="185" y2="179.1" stroke="#505050" stroke-width="1" />
<line x1="185" y1="20.5" x2="185" y2="24.1" stroke="#505050" stroke-width="1" />
<line x1="198" y1="182.7" x2="198" y2="180.3" stroke="#505050" stroke-width="1" />
<line x1="198" y1="20.5" x2="198" y2="22.9" stroke="#505050" stroke-width="1" />
<line x1="211" y1="182.7" x2="211" y2="179.1" stroke="#505050" stroke-width="1" />
<line x1="211" y1="20.5" x2="211" y2="24.1" stroke="#505050" stroke-width="1" />
<line x1="224" y1="182.7" x2="224" y2="180.3" stroke="#505050" stroke-width="1" />
<line x1="224" y1="20.5" x2="224" y2="22.9" stroke="#505050" stroke-width="1" />
<line x1="237" y1="182.7" x2="237" y2="179.1" stroke="#505050" stroke-width="1" />
<line x1="237" y1="20.5" x2="237" y2="24.1" stroke="#505050" stroke-width="1" />
<line x1="68.4" y1="182.7" x2="72" y2="182.7" stroke="#505050" stroke-width="1" />
<line x1="249.6" y1="182.7" x2="246" y2="182.7" stroke="#505050" stroke-width="1" />
<line x1="68.4" y1="142.15" x2="70.8" y2="142.15" stroke="#505050" stroke-width="1" />
<line x1="249.6" y1="142.15" x2="247.2" y2="142.15" stroke="#505050" stroke-width="1" />
<line x1="68.4" y1="101.6" x2="72" y2="101.6" stroke="#505050" stroke-width="1" />
<line x1="249.6" y1="101.6" x2="246" y2="101.6" stroke="#505050" stroke-width="1" />
<line x1="68.4" y1="61.05" x2="70.8" y2="61.05" stroke="#505050" stroke-width="1" />
<line x1="249.6" y1="61.05" x2="247.2" y2="61.05" stroke="#505050" stroke-width="1" />
<line x1="68.4" y1="20.5" x2="72" y2="20.5" stroke="#505050" stroke-width="1" />
<line x1="249.6" y1="20.5" x2="246" y2="20.5" stroke="#505050" stroke-width="1" />
<path d="M81,175.84L82.3,175.79L83.6,175.73L84.9,175.66L86.2,175.58L87.5,175.49L88.8,175.4L90.1,175.3L91.4,175.2L92.7,175.09L94,174.98L95.3,174.87L96.6,174.75L97.9,174.63L99.2,174.51L100.5,174.38L101.8,174.24L103.1,174.1L104.4,173.95L105.7,173.79L107,173.63L108.3,173.47L109.6,173.29L110.9,173.11L112.2,172.93L113.5,172.73L114.8,172.53L116.1,172.32L117.4,172.1L118.7,171.87L120,171.62L121.3,171.36L122.6,171.08L123.9,170.78L125.2,170.46L126.5,170.11L127.8,169.74L129.1,169.34L130.4,168.92L131.7,168.47L133,167.99L134.3,167.49L135.6,166.97L136.9,166.41L138.2,165.81L139.5,165.16L140.8,164.44L142.1,163.64L143.4,162.73L144.7,161.7L146,160.52L147.3,159.17L148.6,157.58L148.73,157.4L148.86,157.22L148.99,157.04L149.12,156.86L149.25,156.67L149.38,156.47L149.51,156.27L149.64,156.07L149.77,155.86L149.9,155.65L150.03,155.43L150.16,155.21L150.29,154.99L150.42,154.75L150.55,154.52L150.68,154.27L150.81,154.02L150.94,153.77L151.07,153.5L151.2,153.23L151.33,152.94L151.46,152.64L151.59,152.33L151.72,152.01L151.85,151.67L151.98,151.32L152.11,150.97L152.24,150.6L152.37,150.22L152.5,149.84L152.63,149.45L152.76,149.05L152.89,148.65L153.02,148.24L153.15,147.83L153.28,147.41L153.41,147L153.54,146.58L153.67,146.16L153.8,145.72L153.93,145.28L154.06,144.82L154.19,144.33L154.32,143.83L154.45,143.3L154.58,142.74L154.71,142.15L154.84,141.51L154.97,140.83L155.1,140.1L155.23,139.33L155.36,138.51L155.49,137.65L155.62,136.75L155.75,135.82L155.88,134.85L156.01,133.84L156.14,132.77L156.27,131.64L156.4,130.45L156.53,129.2L156.66,127.9L156.79,126.54L156.92,125.12L157.05,123.62L157.18,122.03L157.31,120.35L157.44,118.59L157.57,116.77L157.7,114.88L157.83,112.95L157.96,110.97L158.09,108.92L158.22,106.79L158.35,104.59L158.48,102.32L158.61,99.98L158.74,97.51L158.87,94.89L159,92.22L159.13,89.56L159.26,87L159.39,84.45L159.52,81.86L159.65,79.4L159.78,77.31L159.91,75.71L160.04,74.32L160.17,73.19L160.3,72.4L160.43,73.19L160.56,74.32L160.69,75.71L160.82,77.31L160.95,79.4L161.08,81.86L161.21,84.45L161.34,87L161.47,89.56L161.6,92.22L161.73,94.89L161.86,97.51L161.99,99.98L162.12,102.32L162.25,104.59L162.38,106.79L162.51,108.92L162.64,110.97L162.77,112.95L162.9,114.88L163.03,116.77L163.16,118.59L163.29,120.35L163.42,122.03L163.55,123.62L163.68,125.12L163.81,126.54L163.94,127.9L164.07,129.2L164.2,130.45L164.33,131.64L164.46,132.77L164.59,133.84L164.72,134.85L164.85,135.82L164.98,136.75L165.11,137.65L165.24,138.51L165.37,139.33L165.5,140.1L165.63,140.83L165.76,141.51L165.89,142.15L166.02,142.74L166.15,143.3L166.28,143.83L166.41,144.33L166.54,144.82L166.67,145.28L166.8,145.72L166.93,146.16L167.06,146.58L167.19,147L167.32,147.41L167.45,147.83L167.58,148.24L167.71,148.65L167.84,149.05L167.97,149.45L168.1,149.84L168.23,150.22L168.36,150.6L168.49,150.97L168.62,151.32L168.75,151.67L168.88,152.01L169.01,152.33L169.14,152.64L169.27,152.94L169.4,153.23L170.7,155.65L172,157.58L173.3,159.17L174.6,160.52L175.9,161.7L177.2,162.73L178.5,163.64L179.8,164.44L181.1,165.16L182.4,165.81L183.7,166.41L185,166.97L186.3,167.49L187.6,167.99L188.9,168.47L190.2,168.92L191.5,169.34L192.8,169.74L194.1,170.11L195.4,170.46L196.7,170.78L198,171.08L199.3,171.36L200.6,171.62L201.9,171.87L203.2,172.1L204.5,172.32L205.8,172.53L207.1,172.73L208.4,172.93L209.7,173.11L211,173.29L212.3,173.47L213.6,173.63L214.9,173.79L216.2,173.95L217.5,174.1L218.8,174.24L220.1,174.38L221.4,174.51L222.7,174.63L224,174.75L225.3,174.87L226.6,174.98L227.9,175.09L229.2,175.2L230.5,175.3L231.8,175.4L233.1,175.49L234.4,175.58L235.7,175.66L237,175.73" fill="none" stroke="#2a9d9f" stroke-width="1.5" stroke-linejoin="round"/>
<path d="M81,174.19L82.3,174.11L83.6,174.02L84.9,173.93L86.2,173.84L87.5,173.74L88.8,173.65L90.1,173.54L91.4,173.44L92.7,173.33L94,173.21L95.3,173.09L96.6,172.97L97.9,172.84L99.2,172.7L100.5,172.56L101.8,172.41L103.1,172.25L104.4,172.09L105.7,171.91L107,171.73L108.3,171.54L109.6,171.35L110.9,171.14L112.2,170.92L113.5,170.68L114.8,170.43L116.1,170.17L117.4,169.9L118.7,169.61L120,169.31L121.3,168.99L122.6,168.66L123.9,168.31L125.2,167.93L126.5,167.54L127.8,167.12L129.1,166.67L130.4,166.2L131.7,165.71L133,165.18L134.3,164.63L135.6,164.05L136.9,163.43L138.2,162.78L139.5,162.07L140.8,161.28L142.1,160.38L143.4,159.37L144.7,158.21L146,156.87L147.3,155.3L148.6,153.41L148.73,153.2L148.86,152.98L148.99,152.76L149.12,152.53L149.25,152.3L149.38,152.06L149.51,151.81L149.64,151.56L149.77,151.31L149.9,151.04L150.03,150.77L150.16,150.49L150.29,150.21L150.42,149.91L150.55,149.61L150.68,149.3L150.81,148.98L150.94,148.65L151.07,148.31L151.2,147.96L151.33,147.59L151.46,147.19L151.59,146.78L151.72,146.35L151.85,145.9L151.98,145.43L152.11,144.95L152.24,144.44L152.37,143.93L152.5,143.39L152.63,142.85L152.76,142.28L152.89,141.71L153.02,141.12L153.15,140.53L153.28,139.92L153.41,139.3L153.54,138.67L153.67,138.01L153.8,137.33L153.93,136.63L154.06,135.89L154.19,135.13L154.32,134.32L154.45,133.46L154.58,132.56L154.71,131.61L154.84,130.57L154.97,129.43L155.1,128.2L155.23,126.89L155.36,125.5L155.49,124.05L155.62,122.55L155.75,121.01L155.88,119.44L156.01,117.85L156.14,116.2L156.27,114.49L156.4,112.72L156.53,110.88L156.66,108.95L156.79,106.95L156.92,104.84L157.05,102.6L157.18,100.21L157.31,97.68L157.44,95.06L157.57,92.38L157.7,89.68L157.83,87L157.96,84.37L158.09,81.76L158.22,79.13L158.35,76.45L158.48,73.68L158.61,70.78L158.74,67.69L158.87,64.42L159,61.06L159.13,57.74L159.26,54.56L159.39,51.4L159.52,48.2L159.65,45.18L159.78,42.61L159.91,40.68L160.04,39.01L160.17,37.65L160.3,36.72L160.43,37.65L160.56,39.01L160.69,40.68L160.82,42.61L160.95,45.18L161.08,48.2L161.21,51.4L161.34,54.56L161.47,57.74L161.6,61.06L161.73,64.42L161.86,67.69L161.99,70.78L162.12,73.68L162.25,76.45L162.38,79.13L162.51,81.76L162.64,84.37L162.77,87L162.9,89.68L163.03,92.38L163.16,95.06L163.29,97.68L163.42,100.21L163.55,102.6L163.68,104.84L163.81,106.95L163.94,108.95L164.07,110.88L164.2,112.72L164.33,114.49L164.46,116.2L164.59,117.85L164.72,119.44L164.85,121.01L164.98,122.55L165.11,124.05L165.24,125.5L165.37,126.89L165.5,128.2L165.63,129.43L165.76,130.57L165.89,131.61L166.02,132.56L166.15,133.46L166.28,134.32L166.41,135.13L166.54,135.89L166.67,136.63L166.8,137.33L166.93,138.01L167.06,138.67L167.19,139.3L167.32,139.92L167.45,140.53L167.58,141.12L167.71,141.71L167.84,142.28L167.97,142.85L168.1,143.39L168.23,143.93L168.36,144.44L168.49,144.95L168.62,145.43L168.75,145.9L168.88,146.35L169.01,146.78L169.14,147.19L169.27,147.59L169.4,147.96L170.7,151.04L172,153.41L173.3,155.3L174.6,156.87L175.9,158.21L177.2,159.37L178.5,160.38L179.8,161.28L181.1,162.07L182.4,162.78L183.7,163.43L185,164.05L186.3,164.63L187.6,165.18L188.9,165.71L190.2,166.2L191.5,166.67L192.8,167.12L194.1,167.54L195.4,167.93L196.7,168.31L198,168.66L199.3,168.99L200.6,169.31L201.9,169.61L203.2,169.9L204.5,170.17L205.8,170.43L207.1,170.68L208.4,170.92L209.7,171.14L211,171.35L212.3,171.54L213.6,171.73L214.9,171.91L216.2,172.09L217.5,172.25L218.8,172.41L220.1,172.56L221.4,172.7L222.7,172.84L224,172.97L225.3,173.09L226.6,173.21L227.9,173.33L229.2,173.44L230.5,173.54L231.8,173.65L233.1,173.74L234.4,173.84L235.7,173.93L237,174.02" fill="none" stroke="#9c2f33" stroke-width="1.5" stroke-linejoin="round"/>
<text transform="translate(81,196) scale(1.09,1)" font-size="10" text-anchor="middle" fill="#1a1a1a" >-60</text>
<text transform="translate(107,196) scale(1.09,1)" font-size="10" text-anchor="middle" fill="#1a1a1a" >-40</text>
<text transform="translate(133,196) scale(1.09,1)" font-size="10" text-anchor="middle" fill="#1a1a1a" >-20</text>
<text transform="translate(159,196) scale(1.09,1)" font-size="10" text-anchor="middle" fill="#1a1a1a" >0</text>
<text transform="translate(185,196) scale(1.09,1)" font-size="10" text-anchor="middle" fill="#1a1a1a" >20</text>
<text transform="translate(211,196) scale(1.09,1)" font-size="10" text-anchor="middle" fill="#1a1a1a" >40</text>
<text transform="translate(237,196) scale(1.09,1)" font-size="10" text-anchor="middle" fill="#1a1a1a" >60</text>
<text transform="translate(64.2,23.9) scale(1.09,1)" font-size="10" text-anchor="end" fill="#1a1a1a" >10</text>
<text transform="translate(64.2,105.1) scale(1.09,1)" font-size="10" text-anchor="end" fill="#1a1a1a" >5</text>
<text transform="translate(64.2,186.3) scale(1.09,1)" font-size="10" text-anchor="end" fill="#1a1a1a" >0</text>
<text transform="translate(37,108.5) rotate(-90)" font-size="14" text-anchor="middle" fill="#1a1a1a"><tspan font-style="italic">R</tspan><tspan font-size="9" dy="3">xx</tspan><tspan dy="-3"> (kΩ)</tspan></text>
<text x="160" y="215" font-size="13.5" text-anchor="middle" fill="#1a1a1a"><tspan font-style="italic">V</tspan><tspan font-size="9" dy="4">g</tspan><tspan dy="-4"> (V)</tspan></text>
<line x1="73.2" y1="36.4" x2="105.6" y2="36.4" stroke="#2a9d9f" stroke-width="1.5" />
<line x1="73.2" y1="58.4" x2="105.6" y2="58.4" stroke="#9c2f33" stroke-width="1.5" />
<text x="109.6" y="42" font-size="14.5" fill="#1a1a1a"><tspan font-style="italic">R</tspan><tspan font-size="9" dy="4.4">45</tspan></text>
<text x="109.6" y="64" font-size="14.5" fill="#1a1a1a"><tspan font-style="italic">R</tspan><tspan font-size="9" dy="4.4">23</tspan></text>
<text x="197.5" y="37.1" font-size="14" text-anchor="start" fill="#1a1a1a" >2 K, 0 T</text>
<text x="7.2" y="17.6" font-size="18" text-anchor="start" fill="#1a1a1a" style="stroke:#1a1a1a;stroke-width:0.4px;stroke-opacity:0.7">a</text>
<defs><linearGradient id="pg" x1="0" y1="0" x2="1" y2="1"><stop offset="0" stop-color="#dc84e6"/><stop offset="0.5" stop-color="#e692ee"/><stop offset="1" stop-color="#de88e8"/></linearGradient></defs>
<rect x="186.8" y="73.1" width="47.1" height="40.1" fill="url(#pg)"/>
<rect x="201" y="90.4" width="19" height="7.4" rx="2.5" fill="#d890ea"/>
<rect x="203.5" y="92.2" width="14" height="3.8" rx="1.8" fill="#c496f0"/>
<rect x="204.7" y="73.1" width="4.5" height="15.9" fill="#fff"/>
<rect x="212.5" y="73.1" width="4.1" height="15.9" fill="#fff"/>
<rect x="204.4" y="99.2" width="4.3" height="14" fill="#fff"/>
<rect x="212.3" y="99.2" width="3.9" height="14" fill="#fff"/>
<rect x="186.8" y="91.6" width="12.4" height="4.7" fill="#fff"/>
<rect x="222.1" y="91.6" width="11.8" height="4.7" fill="#fff"/>
<rect x="224" y="111.2" width="7.6" height="1.5" fill="#fff"/>
<text x="200.6" y="84.6" font-size="12.3" text-anchor="middle" fill="#1c0a22" style="stroke:#1c0a22;stroke-width:0.6px;stroke-opacity:0.85">4</text>
<text x="220.2" y="84.6" font-size="12.3" text-anchor="middle" fill="#1c0a22" style="stroke:#1c0a22;stroke-width:0.6px;stroke-opacity:0.85">5</text>
<text x="193" y="97.1" font-size="12.3" text-anchor="middle" fill="#1c0a22" style="stroke:#1c0a22;stroke-width:0.6px;stroke-opacity:0.85">1</text>
<text x="228.6" y="97.1" font-size="12.3" text-anchor="middle" fill="#1c0a22" style="stroke:#1c0a22;stroke-width:0.6px;stroke-opacity:0.85">6</text>
<text x="200.6" y="113.1" font-size="12.3" text-anchor="middle" fill="#1c0a22" style="stroke:#1c0a22;stroke-width:0.6px;stroke-opacity:0.85">2</text>
<text x="219.4" y="113.1" font-size="12.3" text-anchor="middle" fill="#1c0a22" style="stroke:#1c0a22;stroke-width:0.6px;stroke-opacity:0.85">3</text>
<path d="M187.5,94.1H179.2V100.2" fill="none" stroke="#1c1c1c" stroke-width="1.1"/>
<circle cx="179.2" cy="106.4" r="6.1" fill="#fff" stroke="#1c1c1c" stroke-width="1"/>
<text x="179.4" y="108.8" font-size="7.2" text-anchor="middle" fill="#333"><tspan font-style="italic">I</tspan><tspan font-size="5" dy="1.3">ds</tspan></text>
<path d="M179.2,112.5V120.6M173.6,120.6H184.79999999999998M175.79999999999998,123.4H182.6M179.2,123.4V131.3" fill="none" stroke="#1c1c1c" stroke-width="1.1"/>
<path d="M173.6,130.75H184.8V131.85H182.6L179.8,134.8H178.6L175.8,131.85H173.6Z" fill="#1c1c1c"/>
<path d="M228.4,113.5V121.5M222.8,121.5H234.0M225.0,124.4H231.8M228.4,124.4V131.6" fill="none" stroke="#1c1c1c" stroke-width="1.1"/>
<path d="M222.8,131.05H234V132.15H231.8L229,135.1H227.8L225,132.15H222.8Z" fill="#1c1c1c"/>
<path d="M232.6,94.6H240.3V107.6" fill="none" stroke="#1c1c1c" stroke-width="1.1"/>
<path d="M234.4,107.15H246.2V108.25H243.7L240.9,111.2H239.7L236.9,108.25H234.4Z" fill="#1c1c1c"/>
<text x="167.3" y="86.9" font-size="11.5" fill="#1a1a1a"><tspan font-style="italic">V</tspan><tspan font-size="8" dy="2.6">ds</tspan></text>
<text x="205.2" y="128.4" font-size="11.5" fill="#1a1a1a"><tspan font-style="italic">V</tspan><tspan font-size="8" dy="3">bg</tspan></text>
</g>
<g id="pb">
<path d="M332.71,180.12L332.92,180.59L333.14,180.7L333.35,181.39L333.56,180.83L333.77,180.85L333.99,180.75L334.2,180.94L334.41,180.73L334.62,180.88L334.84,181.16L335.05,180.39L335.26,180.39L335.47,180.09L335.69,180.67L335.9,180.82L336.11,180.87L336.32,181.22L336.54,180.33L336.75,181.05L336.96,181.08L337.17,180.73L337.39,180.13L337.6,180.57L337.81,181L338.03,180.89L338.24,180.42L338.45,180.69L338.66,180.89L338.88,180.7L339.09,180.36L339.3,179.92L339.51,181.04L339.73,180.82L339.94,180.88L340.15,181.44L340.36,180.91L340.58,180.94L340.79,180.19L341,180.62L341.21,181.14L341.43,180.34L341.64,180.68L341.85,181.16L342.06,180.76L342.28,180.75L342.49,180.85L342.7,180.52L342.91,181.32L343.13,180.62L343.34,180.16L343.55,180.21L343.77,180.12L343.98,180.11L344.19,179.98L344.4,180.88L344.62,180.19L344.83,181.13L345.04,180.68L345.25,181.14L345.47,180.09L345.68,179.99L345.89,180.52L346.1,179.82L346.32,180.67L346.53,180.38L346.74,180.37L346.95,180.79L347.17,180.26L347.38,179.72L347.59,180.75L347.8,180.07L348.02,180.43L348.23,179.75L348.44,180.19L348.66,180.12L348.87,180.12L349.08,180.25L349.29,180.82L349.51,179.83L349.72,180.79L349.93,180.22L350.14,180.08L350.36,180.58L350.57,180.22L350.78,179.85L350.99,180.26L351.21,180.55L351.42,181.25L351.63,180.55L351.84,180.41L352.06,180.37L352.27,180.51L352.48,180.03L352.69,180.35L352.91,180.17L353.12,179.87L353.33,180.39L353.54,180.18L353.76,179.3L353.97,179.73L354.18,180.46L354.4,180.01L354.61,179.76L354.82,179.5L355.03,179.85L355.25,180.06L355.46,180.1L355.67,179.58L355.88,179.66L356.1,179.91L356.31,179.75L356.52,179.78L356.73,179.32L356.95,179.76L357.16,179.28L357.37,179.08L357.58,179.12L357.8,179.5L358.01,178.63L358.22,179.23L358.43,178.71L358.65,178.97L358.86,179.15L359.07,178.26L359.29,178.01L359.5,177.87L359.71,177.42L359.92,177.36L360.14,176.93L360.35,176.16L360.56,174.72L360.77,174.2L360.99,173.51L361.2,171.62L361.41,169.95L361.62,167.15L361.84,162.77L362.05,157.67L362.26,150.07L362.47,138.81L362.69,125.42L362.9,115.26L363.11,114.87L363.32,125.69L363.54,138.22L363.75,149.31L363.96,157.5L364.17,162.74L364.39,166.77L364.6,170.03L364.81,171.38L365.03,173.69L365.24,174.39L365.45,175.3L365.66,175.86L365.88,176.83L366.09,177.04L366.3,177.46L366.51,177.37L366.73,178.26L366.94,178.18L367.15,178.49L367.36,179.01L367.58,177.76L367.79,178.85L368,179.45L368.21,178.53L368.43,179.48L368.64,179.05L368.85,178.95L369.06,179.53L369.28,179.51L369.49,179.6L369.7,179.49L369.92,180.06L370.13,179.95L370.34,179.6L370.55,179.22L370.77,179.39L370.98,179.03L371.19,179.41L371.4,179.85L371.62,179.73L371.83,180.42L372.04,180.06L372.25,180.09L372.47,179.65L372.68,179.53L372.89,179.97L373.1,179.99L373.32,180.33L373.53,179.84L373.74,179.72L373.95,179.66L374.17,180.09L374.38,179.13L374.59,179.41L374.8,179.87L375.02,180.02L375.23,179.95L375.44,179.79L375.66,179.86L375.87,179.68L376.08,179.58L376.29,179.38L376.51,179.46L376.72,179.9L376.93,179.73L377.14,180L377.36,180.07L377.57,179.2L377.78,180.03L377.99,179.17L378.21,179.99L378.42,179.78L378.63,179.48L378.84,179.86L379.06,179.73L379.27,179.95L379.48,180.03L379.69,179.92L379.91,180.09L380.12,179.29L380.33,179.92L380.55,179.26L380.76,180.8L380.97,179.85L381.18,179.66L381.4,179.96L381.61,179.47L381.82,179.63L382.03,179.94L382.25,179.69L382.46,178.86L382.67,179.75L382.88,179.74L383.1,179.99L383.31,179.79L383.52,180.28L383.73,179.9L383.95,178.97L384.16,179.45L384.37,179.6L384.58,179.44L384.8,179.16L385.01,179.61L385.22,179.09L385.43,179.44L385.65,179.75L385.86,179.21L386.07,180.63L386.29,180L386.5,179.71L386.71,180.12L386.92,179.85L387.14,180.01L387.35,180.02L387.56,178.84L387.77,179.56L387.99,179.8L388.2,179.32L388.41,179.86L388.62,179.46L388.84,179.64L389.05,179.19L389.26,180.26L389.47,179.49L389.69,179.71L389.9,180.16L390.11,179.38L390.32,180.05L390.54,179.18L390.75,179.56L390.96,179.49L391.18,179.7L391.39,179.41L391.6,180.38L391.81,179.7L392.03,179.94L392.24,179.62L392.45,179.73L392.66,179.49L392.88,180L393.09,179.06L393.3,178.89L393.51,179.77L393.73,179.7L393.94,179.59L394.15,179.24L394.36,179.02L394.58,180.1L394.79,179.89L395,180.04L395.21,180.06L395.43,180.24L395.64,179.54L395.85,180.06L396.06,179.13L396.28,179.33L396.49,180.01L396.7,180.01L396.92,179.86L397.13,179.15L397.34,179.93L397.55,180.15L397.77,179.64L397.98,179.49L398.19,179.85L398.4,179.05L398.62,179.53L398.83,179.45L399.04,179.91L399.25,179.62L399.47,179.65L399.68,180.39L399.89,179.49L400.1,180.22L400.32,179.59L400.53,180.1L400.74,178.87L400.95,179.46L401.17,179.27L401.38,179.24L401.59,180.03L401.81,180.36L402.02,179.67L402.23,179.24L402.44,179.52L402.66,179.27L402.87,179.21L403.08,180.06L403.29,179.43L403.51,178.84L403.72,179.72L403.93,180.23L404.14,179.6L404.36,179.68L404.57,179.36L404.78,179.82L404.99,179.47L405.21,180.27L405.42,179.2L405.63,178.93L405.84,179.03L406.06,180.01L406.27,179.37L406.48,180.52L406.69,179.37L406.91,179.49L407.12,179.81L407.33,179.34L407.55,179.41L407.76,179.12L407.97,179.4L408.18,179.36L408.4,180.12L408.61,179.84L408.82,179.6L409.03,179.32L409.25,179.43L409.46,178.89L409.67,179.72L409.88,179.5L410.1,179.32L410.31,179.48L410.52,179.23L410.73,179.6L410.95,178.89L411.16,179.5L411.37,178.99L411.58,179.39L411.8,178.85L412.01,179.86L412.22,179.19L412.44,179.51L412.65,179.28L412.86,178.94L413.07,179.75L413.29,179.81L413.5,179.69L413.71,179.25L413.92,180L414.14,179.3L414.35,179.78L414.56,179.72L414.77,179.45L414.99,179.18L415.2,179.53L415.41,179.48L415.62,179.32L415.84,179.39L416.05,180.23L416.26,179.44L416.47,179.25L416.69,178.9L416.9,178.56L417.11,179.04L417.32,179.24L417.54,179.6L417.75,179.23L417.96,178.98L418.18,178.81L418.39,179.55L418.6,179.16L418.81,178.95L419.03,178.58L419.24,179.14L419.45,179.41L419.66,179.46L419.88,179.34L420.09,179.44L420.3,178.92L420.51,178.83L420.73,178.94L420.94,178.77L421.15,179.35L421.36,179.05L421.58,179.31L421.79,179.16L422,178.74L422.21,179.18L422.43,179.81L422.64,179.24L422.85,179.4L423.07,179.67L423.28,179.42L423.49,178.8L423.7,178.54L423.92,179.3L424.13,178.77L424.34,178.71L424.55,179.52L424.77,179.12L424.98,179.12L425.19,179.04L425.4,179.65L425.62,179.21L425.83,178.71L426.04,178.64L426.25,178.43L426.47,179.19L426.68,178.41L426.89,178.83L427.1,179.53L427.32,178.78L427.53,179.17L427.74,178.86L427.95,179.07L428.17,178.61L428.38,178.93L428.59,179.12L428.81,178.68L429.02,178.92L429.23,179.15L429.44,178.55L429.66,179.14L429.87,179.21L430.08,179.17L430.29,179.49L430.51,179.16L430.72,178.31L430.93,179.28L431.14,178.95L431.36,179.34L431.57,179.16L431.78,178.41L431.99,178.62L432.21,179.14L432.42,178.92L432.63,179.2L432.84,179.18L433.06,179.22L433.27,179.21L433.48,178.78L433.7,178.68L433.91,178.71L434.12,178.93L434.33,179.34L434.55,178.88L434.76,179.18L434.97,178.54L435.18,178.65L435.4,178.57L435.61,178.95L435.82,179.45L436.03,178.48L436.25,178.38L436.46,179.32L436.67,178.74L436.88,178.37L437.1,179.16L437.31,178.15L437.52,178.89L437.73,179.13L437.95,178.27L438.16,178.64L438.37,178.96L438.58,178.42L438.8,179.4L439.01,178.08L439.22,178.99L439.44,178.59L439.65,178.83L439.86,178.53L440.07,178.36L440.29,178.95L440.5,178.38L440.71,178.75L440.92,178.87L441.14,178.7L441.35,178.97L441.56,178.88L441.77,178.26L441.99,178.64L442.2,178.17L442.41,178.41L442.62,178.91L442.84,179.21L443.05,178.77L443.26,178.43L443.47,178.5L443.69,178.79L443.9,178.13L444.11,179.08L444.33,178.9L444.54,178.4L444.75,177.66L444.96,178.27L445.18,178.75L445.39,178.17L445.6,178.13L445.81,178.02L446.03,178.47L446.24,178.59L446.45,178.25L446.66,178.13L446.88,177.69L447.09,177.5L447.3,178.46L447.51,178.37L447.73,178.18L447.94,178.22L448.15,177.93L448.36,177.9L448.58,177.95L448.79,177.53L449,178.02L449.21,178.3L449.43,178.43L449.64,178.2L449.85,178.16L450.07,178.4L450.28,177.45L450.49,177.56L450.7,177.7L450.92,177.79L451.13,177.95L451.34,177.63L451.55,176.56L451.77,177.87L451.98,176.92L452.19,176.57L452.4,176.63L452.62,176.62L452.83,176.05L453.04,176.49L453.25,175.67L453.47,175.1L453.68,175.68L453.89,175.3L454.1,174.63L454.32,174L454.53,173.54L454.74,173.46L454.96,173.67L455.17,173.63L455.38,173.04L455.59,172.97L455.81,173.58L456.02,173.34L456.23,173.48L456.44,173.51L456.66,174.53L456.87,174.3L457.08,175.2L457.29,175.22L457.51,175.35L457.72,175.03L457.93,174.6L458.14,175.86L458.36,175.93L458.57,175.9L458.78,176.85L458.99,176.21L459.21,177L459.42,176.08L459.63,176.21L459.84,176.59L460.06,177.1L460.27,176.28L460.48,176.8L460.7,176.88L460.91,176.74L461.12,177.56L461.33,176.82L461.55,176.63L461.76,176.86L461.97,176.93L462.18,177.31L462.4,176.75L462.61,176.89L462.82,176.95L463.03,177.13L463.25,176.62L463.46,176.46L463.67,176.74L463.88,176.53L464.1,176.36L464.31,176.23L464.52,176.68L464.73,176.8L464.95,176.83L465.16,176.64L465.37,176.41L465.59,176.23L465.8,176.66L466.01,176.41L466.22,176.76L466.44,175.91L466.65,176.43L466.86,176.11L467.07,176.42L467.29,176.2L467.5,176.27L467.71,175.35L467.92,175.74L468.14,175.84L468.35,176.03L468.56,175.81L468.77,175.3L468.99,174.81L469.2,175.78L469.41,175.49L469.62,175.1L469.84,175.13L470.05,175.35L470.26,174.61L470.47,174.2L470.69,174.85L470.9,174.05L471.11,173.59L471.33,173.39L471.54,173.66L471.75,172.48L471.96,172.84L472.18,173.06L472.39,172.15L472.6,172.58L472.81,171.54L473.03,171.94L473.24,170.84L473.45,170.91L473.66,169.85L473.88,169.5L474.09,169.07L474.3,168.62L474.51,167.62L474.73,167.92L474.94,166.36L475.15,165.51L475.36,164.5L475.58,163.34L475.79,161.14L476,161.06L476.22,159.31L476.43,157.84L476.64,155.4L476.85,154.44L477.07,150.59L477.28,148.49L477.49,145.64L477.7,141.26L477.92,136.31L478.13,130.76L478.34,124.49L478.55,116.78L478.77,108.51L478.98,98.77L479.19,88.72L479.4,76.43L479.62,65.11L479.83,55.98L480.04,49.85L480.25,47.28L480.47,48.6L480.68,56.03L480.89,65.68L481.1,76.86L481.32,87.71L481.53,98.92L481.74,108.76L481.96,117.55L482.17,124.46L482.38,130.42L482.59,136.24L482.81,140.5L483.02,144.71L483.23,148.12L483.44,151.04L483.66,153.63L483.87,155.49L484.08,157.62L484.29,159.69L484.51,160.94L484.72,162.34L484.93,163.33L485.14,164.5L485.36,165.37L485.57,166.89L485.78,167.01L485.99,167.38L486.21,168.95L486.42,168.5L486.63,169.49L486.85,170.15L487.06,171.16L487.27,170.55L487.48,171.65L487.7,171.84L487.91,171.79L488.12,172.65L488.33,172.91L488.55,173.23L488.76,173.1L488.97,173.09L489.18,173.36L489.4,173.56L489.61,174L489.82,174.01L490.03,174.46L490.25,173.67L490.46,174.45L490.67,175.34L490.88,175.16L491.1,174.34L491.31,175.49L491.52,175.28L491.73,175.09L491.95,175.71L492.16,175.04L492.37,174.91L492.59,175.87L492.8,175.27L493.01,176.05L493.22,176.16L493.44,175.79L493.65,175.86L493.86,176.21L494.07,175.77L494.29,176.63L494.5,176.47L494.71,176.6L494.92,176.01L495.14,176.04L495.35,176.13L495.56,176.86L495.77,176.4L495.99,176.33L496.2,177.09L496.41,176.85L496.62,176.37L496.84,176.38L497.05,176.57L497.26,176.5L497.48,176.61L497.69,176.69L497.9,176.81L498.11,177.1L498.33,176.91L498.54,176.99L498.75,176.06L498.96,176.8L499.18,176.92L499.39,177.02L499.6,177L499.81,177.07L500.03,176.8L500.24,177.02L500.45,176.74L500.66,177.29L500.88,176.94L501.09,176.77L501.3,177.49L501.51,177.05L501.73,177.03L501.94,177.25L502.15,177.31L502.36,177.81L502.58,176.77L502.79,177.51L503,177.62L503.22,176.97L503.43,177.85L503.64,176.88L503.85,177.08L504.07,177.03L504.28,177.31L504.49,177.68L504.7,177.93L504.92,176.76L505.13,177.45L505.34,177.47L505.55,176.74L505.77,177.52L505.98,177.39L506.19,177.4L506.4,177.37L506.62,177.69L506.83,177.53L507.04,176.89L507.25,177.08L507.47,178.39L507.68,178.04L507.89,177.24L508.11,177.4L508.32,177.5L508.53,177.01L508.74,178L508.96,176.96L509.17,177.34L509.38,177.19L509.59,177.3L509.81,177.1L510.02,177.48L510.23,177.59L510.44,177.13L510.66,177.34L510.87,177.84L511.08,176.94L511.29,176.99L511.51,176.91L511.72,177.39L511.93,177.29L512.14,177.55L512.36,177.76L512.57,177.4L512.78,177.36L512.99,177.66L513.21,176.78L513.42,177.99" fill="none" stroke="#1818dc" stroke-width="1.7" stroke-linejoin="round"/>
<path d="M470.05,174.83L470.26,174.68L470.47,174.52L470.69,174.35L470.9,174.16L471.11,173.97L471.33,173.76L471.54,173.54L471.75,173.31L471.96,173.06L472.18,172.79L472.39,172.5L472.6,172.19L472.81,171.85L473.03,171.49L473.24,171.1L473.45,170.68L473.66,170.22L473.88,169.72L474.09,169.17L474.3,168.58L474.51,167.93L474.73,167.21L474.94,166.42L475.15,165.54L475.36,164.57L475.58,163.49L475.79,162.28L476,160.92L476.22,159.4L476.43,157.66L476.64,155.69L476.85,153.44L477.07,150.86L477.28,147.88L477.49,144.42L477.7,140.39L477.92,135.69L478.13,130.18L478.34,123.74L478.55,116.21L478.77,107.51L478.98,97.61L479.19,86.66L479.4,75.11L479.62,63.8L479.83,54.02L480.04,47.27L480.25,44.85L480.47,47.26L480.68,54L480.89,63.78L481.1,75.08L481.32,86.62L481.53,97.57L481.74,107.46L481.96,116.16L482.17,123.67L482.38,130.11L482.59,135.61L482.81,140.31L483.02,144.33L483.23,147.78L483.44,150.75L483.66,153.33L483.87,155.57L484.08,157.54L484.29,159.26L484.51,160.78L484.72,162.13L484.93,163.34L485.14,164.41L485.36,165.37L485.57,166.24L485.78,167.03L485.99,167.74L486.21,168.38L486.42,168.97L486.63,169.51L486.85,170L487.06,170.45L487.27,170.87L487.48,171.25L487.7,171.6L487.91,171.93L488.12,172.24L488.33,172.52L488.55,172.78L488.76,173.02L488.97,173.25L489.18,173.47L489.4,173.67L489.61,173.85L489.82,174.03L490.03,174.19L490.25,174.35L490.46,174.49L490.67,174.63L490.88,174.76L491.1,174.88L491.31,175L491.52,175.11L491.73,175.21L491.95,175.31L492.16,175.4L492.37,175.49" fill="none" stroke="#e4284a" stroke-width="1.5" stroke-linejoin="round" opacity="0.72"/>
<rect x="333.3" y="20.5" width="180.3" height="162.2" fill="none" stroke="#505050" stroke-width="1.05"/>
<line x1="343.34" y1="182.7" x2="343.34" y2="180.1" stroke="#505050" stroke-width="1" />
<line x1="343.34" y1="20.5" x2="343.34" y2="23.1" stroke="#505050" stroke-width="1" />
<line x1="364.6" y1="182.7" x2="364.6" y2="179.1" stroke="#505050" stroke-width="1" />
<line x1="364.6" y1="20.5" x2="364.6" y2="24.1" stroke="#505050" stroke-width="1" />
<line x1="385.86" y1="182.7" x2="385.86" y2="180.1" stroke="#505050" stroke-width="1" />
<line x1="385.86" y1="20.5" x2="385.86" y2="23.1" stroke="#505050" stroke-width="1" />
<line x1="407.12" y1="182.7" x2="407.12" y2="179.1" stroke="#505050" stroke-width="1" />
<line x1="407.12" y1="20.5" x2="407.12" y2="24.1" stroke="#505050" stroke-width="1" />
<line x1="428.38" y1="182.7" x2="428.38" y2="180.1" stroke="#505050" stroke-width="1" />
<line x1="428.38" y1="20.5" x2="428.38" y2="23.1" stroke="#505050" stroke-width="1" />
<line x1="449.64" y1="182.7" x2="449.64" y2="179.1" stroke="#505050" stroke-width="1" />
<line x1="449.64" y1="20.5" x2="449.64" y2="24.1" stroke="#505050" stroke-width="1" />
<line x1="470.9" y1="182.7" x2="470.9" y2="180.1" stroke="#505050" stroke-width="1" />
<line x1="470.9" y1="20.5" x2="470.9" y2="23.1" stroke="#505050" stroke-width="1" />
<line x1="492.16" y1="182.7" x2="492.16" y2="179.1" stroke="#505050" stroke-width="1" />
<line x1="492.16" y1="20.5" x2="492.16" y2="24.1" stroke="#505050" stroke-width="1" />
<line x1="333.3" y1="43.6" x2="336.9" y2="43.6" stroke="#505050" stroke-width="1" />
<line x1="513.6" y1="43.6" x2="510" y2="43.6" stroke="#505050" stroke-width="1" />
<line x1="333.3" y1="113.4" x2="336.9" y2="113.4" stroke="#505050" stroke-width="1" />
<line x1="513.6" y1="113.4" x2="510" y2="113.4" stroke="#505050" stroke-width="1" />
<text x="364.6" y="196.2" font-size="10" text-anchor="middle" fill="#1a1a1a" >1600</text>
<text x="407.12" y="196.2" font-size="10" text-anchor="middle" fill="#1a1a1a" >2000</text>
<text x="449.64" y="196.2" font-size="10" text-anchor="middle" fill="#1a1a1a" >2400</text>
<text x="492.16" y="196.2" font-size="10" text-anchor="middle" fill="#1a1a1a" >2800</text>
<text transform="translate(314.2,107.3) rotate(-90)" font-size="14.6" text-anchor="middle" fill="#1a1a1a"><tspan font-style="italic">Intensity</tspan> (a.u.)</text>
<text x="423.6" y="217.8" font-size="14.4" text-anchor="middle" fill="#1a1a1a"><tspan font-style="italic">Raman shift</tspan> (cm<tspan font-size="9" dy="-5.5">-1</tspan><tspan dy="5.5">)</tspan></text>
<text x="365" y="103.5" font-size="14" text-anchor="middle" fill="#1a1a1a" >G</text>
<text x="479" y="41.4" font-size="14" text-anchor="middle" fill="#1a1a1a" >2D</text>
<text x="396.3" y="129.6" font-size="13.7" text-anchor="start" fill="#1a1a1a" >FWHM ~27</text>
<text x="282.3" y="17.6" font-size="18" text-anchor="start" fill="#1a1a1a" style="stroke:#1a1a1a;stroke-width:0.4px;stroke-opacity:0.7">b</text>
</g>
<g id="pc">
<clipPath id="cc"><rect x="68.2" y="240" width="181.8" height="162"/></clipPath>
<g clip-path="url(#cc)" fill="none" stroke-linejoin="round" stroke-linecap="round">
<path d="M94.5,399.6L94.76,399.51L95.02,399.42L95.28,399.32L95.54,399.22L95.8,399.11L96.06,399L96.32,398.88L96.58,398.75L96.84,398.62L97.1,398.49L97.36,398.35L97.62,398.21L97.87,398.07L98.13,397.92L98.39,397.75L98.65,397.56L98.91,397.36L99.17,397.15L99.43,396.93L99.69,396.7L99.95,396.47L100.21,396.24L100.47,396.02L100.73,395.81L100.99,395.61L101.25,395.42L101.51,395.25L101.77,395.11L102.03,394.99L102.29,394.88L102.55,394.77L102.81,394.66L103.07,394.55L103.33,394.45L103.59,394.36L103.85,394.28L104.11,394.21L104.36,394.16L104.62,394.12L104.88,394.1L105.14,394.1L105.4,394.13L105.66,394.17L105.92,394.24L106.18,394.32L106.44,394.41L106.7,394.52L106.96,394.64L107.22,394.77L107.48,394.91L107.74,395.05L108,395.2L108.26,395.38L108.52,395.61L108.78,395.9L109.04,396.22L109.3,396.57L109.56,396.95L109.82,397.33L110.08,397.72L110.34,398.1L110.6,398.47L110.85,398.82L111.11,399.14L111.37,399.47L111.63,399.81L111.89,400.15L112.15,400.48L112.41,400.78L112.67,401.04L112.93,401.25L113.19,401.42L113.45,401.59L113.71,401.74L113.97,401.84L114.23,401.9L114.49,401.88L114.75,401.8L115.01,401.66L115.27,401.48L115.53,401.28L115.79,401.07L116.05,400.86L116.31,400.62L116.57,400.34L116.83,400.02L117.09,399.68L117.34,399.31L117.6,398.93L117.86,398.54L118.12,398.16L118.38,397.79L118.64,397.44L118.9,397.11L119.16,396.82L119.42,396.52L119.68,396.23L119.94,395.94L120.2,395.66L120.46,395.38L120.72,395.11L120.98,394.84L121.24,394.57L121.5,394.32L121.76,394.07L122.02,393.83L122.28,393.6L122.54,393.37L122.8,393.16L123.06,392.96L123.32,392.75L123.58,392.55L123.83,392.34L124.09,392.13L124.35,391.93L124.61,391.73L124.87,391.55L125.13,391.38L125.39,391.22L125.65,391.08L125.91,390.97L126.17,390.88L126.43,390.81L126.69,390.77L126.95,390.73L127.21,390.69L127.47,390.66L127.73,390.64L127.99,390.62L128.25,390.6L128.51,390.6L128.77,390.62L129.03,390.69L129.29,390.79L129.55,390.92L129.81,391.08L130.07,391.26L130.32,391.45L130.58,391.66L130.84,391.87L131.1,392.09L131.36,392.37L131.62,392.71L131.88,393.11L132.14,393.54L132.4,394.01L132.66,394.5L132.92,395.01L133.18,395.51L133.44,396.01L133.7,396.48L133.96,396.93L134.22,397.37L134.48,397.82L134.74,398.28L135,398.74L135.26,399.2L135.52,399.64L135.78,400.05L136.04,400.43L136.3,400.77L136.56,401.06L136.81,401.35L137.07,401.62L137.33,401.82L137.59,401.9L137.85,401.85L138.11,401.7L138.37,401.49L138.63,401.22L138.89,400.93L139.15,400.6L139.41,400.15L139.67,399.59L139.93,398.92L140.19,398.17L140.45,397.35L140.71,396.49L140.97,395.58L141.23,394.67L141.49,393.75L141.75,392.85L142.01,391.98L142.27,391.08L142.53,390.11L142.79,389.09L143.05,388.03L143.3,386.95L143.56,385.88L143.82,384.84L144.08,383.84L144.34,382.91L144.6,382.07L144.86,381.34L145.12,380.72L145.38,380.13L145.64,379.57L145.9,379.04L146.16,378.56L146.42,378.15L146.68,377.8L146.94,377.55L147.2,377.36L147.46,377.18L147.72,377.02L147.98,376.88L148.24,376.76L148.5,376.67L148.76,376.62L149.02,376.6L149.28,376.61L149.54,376.63L149.79,376.67L150.05,376.72L150.31,376.78L150.57,376.86L150.83,376.94L151.09,377.04L151.35,377.24L151.61,377.55L151.87,377.95L152.13,378.44L152.39,379L152.65,379.61L152.91,380.26L153.17,381.02L153.43,382.06L153.69,383.34L153.95,384.8L154.21,386.35L154.47,387.94L154.73,389.49L154.99,390.93L155.25,392.37L155.51,393.9L155.77,395.44L156.03,396.86L156.28,398.06L156.54,398.92L156.8,399.65L157.06,400.32L157.32,400.91L157.58,401.36L157.84,401.64L158.1,401.71L158.36,401.74L158.62,401.76L158.88,401.79L159.14,401.81L159.4,401.82L159.66,401.84L159.92,401.85L160.18,401.86L160.44,401.87L160.7,401.88L160.96,401.89L161.22,401.89L161.48,401.9L161.74,401.9L162,401.9L162.26,401.9L162.52,401.9L162.77,401.89L163.03,401.88L163.29,401.87L163.55,401.86L163.81,401.85L164.07,401.83L164.33,401.81L164.59,401.78L164.85,401.76L165.11,401.73L165.37,401.69L165.63,401.66L165.89,401.62L166.15,401.54L166.41,401.28L166.67,400.83L166.93,400.22L167.19,399.46L167.45,398.58L167.71,397.48L167.97,395.46L168.23,392.5L168.49,388.79L168.75,384.53L169.01,379.91L169.26,373.87L169.52,365.93L169.78,357.02L170.04,348.04L170.3,339.91L170.56,332.01L170.82,323.79L171.08,316.24L171.34,310.36L171.6,306.87L171.86,304.21L172.12,302.42L172.38,302.11L172.64,303.72L172.9,306.66L173.16,311.38L173.42,320.56L173.68,330.87L173.94,339.11L174.2,346.63L174.46,353.69L174.72,360.1L174.98,365.89L175.24,371.5L175.49,376.74L175.75,381.33L176.01,385.02L176.27,387.8L176.53,390.31L176.79,392.54L177.05,394.43L177.31,395.91L177.57,396.92L177.83,397.57L178.09,398.1L178.35,398.54L178.61,398.92L178.87,399.25L179.13,399.55L179.39,399.86L179.65,400.19L179.91,400.55L180.17,400.9L180.43,401.21L180.69,401.45L180.95,401.59L181.21,401.63L181.47,401.67L181.73,401.7L181.98,401.74L182.24,401.76L182.5,401.79L182.76,401.81L183.02,401.83L183.28,401.85L183.54,401.86L183.8,401.88L184.06,401.89L184.32,401.89L184.58,401.9L184.84,401.9L185.1,401.9L185.36,401.9L185.62,401.89L185.88,401.88L186.14,401.86L186.4,401.84L186.66,401.82L186.92,401.79L187.18,401.76L187.44,401.72L187.7,401.68L187.96,401.63L188.22,401.58L188.47,401.53L188.73,401.47L188.99,401.4L189.25,401.28L189.51,401.04L189.77,400.72L190.03,400.33L190.29,399.88L190.55,399.4L190.81,398.71L191.07,397.8L191.33,396.75L191.59,395.65L191.85,394.58L192.11,393.59L192.37,392.54L192.63,391.46L192.89,390.41L193.15,389.47L193.41,388.71L193.67,388.15L193.93,387.62L194.19,387.17L194.45,386.85L194.71,386.7L194.96,386.66L195.22,386.63L195.48,386.61L195.74,386.6L196,386.65L196.26,386.82L196.52,387.07L196.78,387.36L197.04,387.64L197.3,387.95L197.56,388.3L197.82,388.68L198.08,389.08L198.34,389.49L198.6,389.9L198.86,390.29L199.12,390.67L199.38,391.05L199.64,391.43L199.9,391.81L200.16,392.2L200.42,392.57L200.68,392.94L200.94,393.29L201.2,393.63L201.45,393.95L201.71,394.25L201.97,394.54L202.23,394.82L202.49,395.1L202.75,395.36L203.01,395.62L203.27,395.86L203.53,396.1L203.79,396.33L204.05,396.54L204.31,396.75L204.57,396.95L204.83,397.15L205.09,397.34L205.35,397.52L205.61,397.7L205.87,397.88L206.13,398.05L206.39,398.21L206.65,398.38L206.91,398.54L207.17,398.7L207.43,398.86L207.69,399.01L207.94,399.17L208.2,399.32L208.46,399.49L208.72,399.65L208.98,399.82L209.24,399.99L209.5,400.15L209.76,400.3L210.02,400.44L210.28,400.56L210.54,400.67L210.8,400.75L211.06,400.81L211.32,400.86L211.58,400.91L211.84,400.95L212.1,400.98L212.36,401L212.62,400.99L212.88,400.89L213.14,400.71L213.4,400.47L213.66,400.19L213.92,399.9L214.18,399.56L214.43,399.07L214.69,398.5L214.95,397.89L215.21,397.32L215.47,396.84L215.73,396.45L215.99,396.06L216.25,395.7L216.51,395.39L216.77,395.14L217.03,394.99L217.29,394.87L217.55,394.77L217.81,394.69L218.07,394.63L218.33,394.6L218.59,394.61L218.85,394.65L219.11,394.71L219.37,394.79L219.63,394.88L219.89,394.96L220.15,395.05L220.41,395.14L220.67,395.23L220.92,395.34L221.18,395.45L221.44,395.57L221.7,395.69L221.96,395.81L222.22,395.94L222.48,396.07L222.74,396.2L223,396.33L223.26,396.45L223.52,396.58L223.78,396.7L224.04,396.82L224.3,396.93L224.56,397.05L224.82,397.17L225.08,397.28L225.34,397.4L225.6,397.51L225.86,397.63L226.12,397.75L226.38,397.86L226.64,397.98L226.9,398.09L227.16,398.21L227.41,398.32L227.67,398.43L227.93,398.55L228.19,398.66L228.45,398.77L228.71,398.88L228.97,398.99L229.23,399.1L229.49,399.21L229.75,399.33L230.01,399.45L230.27,399.57L230.53,399.68L230.79,399.8L231.05,399.92L231.31,400.03L231.57,400.13L231.83,400.23L232.09,400.33L232.35,400.42L232.61,400.5L232.87,400.57L233.13,400.63L233.39,400.69L233.65,400.75L233.9,400.81L234.16,400.87L234.42,400.92L234.68,400.97L234.94,401.01L235.2,401.05L235.46,401.08L235.72,401.09L235.98,401.1L236.24,401.08L236.5,401.02L236.76,400.92L237.02,400.79L237.28,400.65L237.54,400.49L237.8,400.33L238.06,400.16L238.32,399.95L238.58,399.69L238.84,399.39L239.1,399.08L239.36,398.78L239.62,398.51L239.88,398.28L240.14,398.12L240.39,397.95L240.65,397.8L240.91,397.66L241.17,397.54L241.43,397.45L241.69,397.4L241.95,397.4L242.21,397.42L242.47,397.44L242.73,397.47L242.99,397.51L243.25,397.56L243.51,397.6L243.77,397.65L244.03,397.71L244.29,397.77L244.55,397.84L244.81,397.93L245.07,398.03L245.33,398.13L245.59,398.24L245.85,398.36L246.11,398.47L246.37,398.57L246.63,398.67L246.88,398.76L247.14,398.84L247.4,398.92L247.66,399L247.92,399.07L248.18,399.15L248.44,399.22L248.7,399.29L248.96,399.36L249.22,399.42L249.48,399.48L249.74,399.54L250,399.6" stroke="#2a9d9f" stroke-width="1.25"/>
<path d="M94.5,398.2L94.76,398.04L95.02,397.89L95.28,397.73L95.54,397.57L95.8,397.41L96.06,397.25L96.32,397.09L96.58,396.92L96.84,396.76L97.1,396.59L97.36,396.42L97.62,396.25L97.87,396.08L98.13,395.91L98.39,395.73L98.65,395.53L98.91,395.34L99.17,395.13L99.43,394.93L99.69,394.72L99.95,394.51L100.21,394.31L100.47,394.12L100.73,393.93L100.99,393.75L101.25,393.59L101.51,393.44L101.77,393.3L102.03,393.19L102.29,393.08L102.55,392.97L102.81,392.86L103.07,392.76L103.33,392.66L103.59,392.57L103.85,392.48L104.11,392.42L104.36,392.36L104.62,392.32L104.88,392.3L105.14,392.3L105.4,392.33L105.66,392.38L105.92,392.45L106.18,392.53L106.44,392.64L106.7,392.76L106.96,392.89L107.22,393.03L107.48,393.18L107.74,393.34L108,393.5L108.26,393.7L108.52,393.97L108.78,394.3L109.04,394.67L109.3,395.08L109.56,395.52L109.82,395.98L110.08,396.44L110.34,396.9L110.6,397.35L110.85,397.78L111.11,398.18L111.37,398.6L111.63,399.04L111.89,399.48L112.15,399.91L112.41,400.31L112.67,400.66L112.93,400.94L113.19,401.16L113.45,401.38L113.71,401.58L113.97,401.72L114.23,401.8L114.49,401.77L114.75,401.67L115.01,401.49L115.27,401.26L115.53,401L115.79,400.73L116.05,400.45L116.31,400.13L116.57,399.74L116.83,399.29L117.09,398.8L117.34,398.28L117.6,397.73L117.86,397.18L118.12,396.64L118.38,396.11L118.64,395.62L118.9,395.16L119.16,394.74L119.42,394.33L119.68,393.93L119.94,393.53L120.2,393.13L120.46,392.74L120.72,392.35L120.98,391.98L121.24,391.62L121.5,391.26L121.76,390.92L122.02,390.59L122.28,390.28L122.54,389.98L122.8,389.71L123.06,389.44L123.32,389.19L123.58,388.92L123.83,388.66L124.09,388.4L124.35,388.15L124.61,387.91L124.87,387.69L125.13,387.48L125.39,387.29L125.65,387.13L125.91,386.99L126.17,386.88L126.43,386.81L126.69,386.77L126.95,386.73L127.21,386.69L127.47,386.66L127.73,386.64L127.99,386.62L128.25,386.6L128.51,386.6L128.77,386.63L129.03,386.72L129.29,386.86L129.55,387.04L129.81,387.25L130.07,387.5L130.32,387.76L130.58,388.04L130.84,388.33L131.1,388.62L131.36,388.99L131.62,389.43L131.88,389.93L132.14,390.49L132.4,391.09L132.66,391.72L132.92,392.36L133.18,393.02L133.44,393.67L133.7,394.3L133.96,394.91L134.22,395.51L134.48,396.17L134.74,396.85L135,397.55L135.26,398.23L135.52,398.89L135.78,399.51L136.04,400.05L136.3,400.51L136.56,400.87L136.81,401.2L137.07,401.5L137.33,401.71L137.59,401.8L137.85,401.74L138.11,401.57L138.37,401.31L138.63,401L138.89,400.65L139.15,400.26L139.41,399.73L139.67,399.06L139.93,398.26L140.19,397.37L140.45,396.39L140.71,395.35L140.97,394.27L141.23,393.18L141.49,392.08L141.75,391.01L142.01,389.97L142.27,388.94L142.53,387.86L142.79,386.75L143.05,385.61L143.3,384.44L143.56,383.27L143.82,382.1L144.08,380.93L144.34,379.78L144.6,378.66L144.86,377.56L145.12,376.5L145.38,375.41L145.64,374.3L145.9,373.19L146.16,372.1L146.42,371.04L146.68,370.04L146.94,369.12L147.2,368.3L147.46,367.6L147.72,366.98L147.98,366.34L148.24,365.73L148.5,365.17L148.76,364.68L149.02,364.31L149.28,364.07L149.54,364L149.79,364.02L150.05,364.08L150.31,364.16L150.57,364.27L150.83,364.41L151.09,364.58L151.35,365L151.61,365.69L151.87,366.6L152.13,367.69L152.39,368.91L152.65,370.21L152.91,371.54L153.17,372.95L153.43,374.72L153.69,376.77L153.95,379.01L154.21,381.33L154.47,383.66L154.73,385.88L154.99,387.9L155.25,389.85L155.51,391.85L155.77,393.81L156.03,395.59L156.28,397.08L156.54,398.16L156.8,399.06L157.06,399.9L157.32,400.62L157.58,401.18L157.84,401.52L158.1,401.62L158.36,401.66L158.62,401.69L158.88,401.73L159.14,401.76L159.4,401.78L159.66,401.81L159.92,401.83L160.18,401.85L160.44,401.86L160.7,401.87L160.96,401.88L161.22,401.89L161.48,401.9L161.74,401.9L162,401.9L162.26,401.9L162.52,401.89L162.77,401.89L163.03,401.88L163.29,401.87L163.55,401.85L163.81,401.83L164.07,401.81L164.33,401.78L164.59,401.75L164.85,401.71L165.11,401.67L165.37,401.63L165.63,401.58L165.89,401.52L166.15,401.4L166.41,400.96L166.67,400.19L166.93,399.14L167.19,397.84L167.45,396.33L167.71,394.06L167.97,390.06L168.23,384.69L168.49,378.37L168.75,371.48L169.01,363.62L169.26,353.6L169.52,342.16L169.78,330.04L170.04,317.98L170.3,304.55L170.56,290.28L170.82,277.21L171.08,267.1L171.34,258.15L171.6,251.02L171.86,247.51L172.12,245.78L172.38,245L172.64,245.58L172.9,247.25L173.16,249.68L173.42,255.33L173.68,263.77L173.94,272.92L174.2,281.77L174.46,291.54L174.72,301.75L174.98,311.84L175.24,321.23L175.49,330.4L175.75,339.56L176.01,348.35L176.27,356.43L176.53,363.42L176.79,369.38L177.05,375.01L177.31,380.17L177.57,384.64L177.83,388.23L178.09,390.81L178.35,392.94L178.61,394.81L178.87,396.4L179.13,397.7L179.39,398.68L179.65,399.38L179.91,400L180.17,400.55L180.43,400.99L180.69,401.31L180.95,401.48L181.21,401.54L181.47,401.59L181.73,401.64L181.98,401.68L182.24,401.72L182.5,401.75L182.76,401.78L183.02,401.81L183.28,401.83L183.54,401.85L183.8,401.87L184.06,401.88L184.32,401.89L184.58,401.9L184.84,401.9L185.1,401.9L185.36,401.89L185.62,401.88L185.88,401.87L186.14,401.85L186.4,401.82L186.66,401.79L186.92,401.75L187.18,401.7L187.44,401.65L187.7,401.59L187.96,401.53L188.22,401.46L188.47,401.38L188.73,401.29L188.99,401.2L189.25,401.01L189.51,400.62L189.77,400.08L190.03,399.42L190.29,398.66L190.55,397.82L190.81,396.65L191.07,395.1L191.33,393.26L191.59,391.25L191.85,389.18L192.11,387.11L192.37,384.72L192.63,382.1L192.89,379.44L193.15,376.9L193.41,374.68L193.67,372.81L193.93,370.97L194.19,369.3L194.45,367.97L194.71,367.19L194.96,366.76L195.22,366.43L195.48,366.3L195.74,366.4L196,366.68L196.26,367.08L196.52,367.54L196.78,368.24L197.04,369.25L197.3,370.48L197.56,371.8L197.82,373.13L198.08,374.38L198.34,375.67L198.6,377.04L198.86,378.45L199.12,379.85L199.38,381.2L199.64,382.46L199.9,383.6L200.16,384.59L200.42,385.53L200.68,386.43L200.94,387.29L201.2,388.11L201.45,388.89L201.71,389.61L201.97,390.29L202.23,390.92L202.49,391.49L202.75,392.01L203.01,392.51L203.27,392.97L203.53,393.41L203.79,393.82L204.05,394.21L204.31,394.59L204.57,394.94L204.83,395.28L205.09,395.61L205.35,395.93L205.61,396.24L205.87,396.54L206.13,396.83L206.39,397.1L206.65,397.37L206.91,397.63L207.17,397.87L207.43,398.11L207.69,398.34L207.94,398.56L208.2,398.77L208.46,398.98L208.72,399.2L208.98,399.42L209.24,399.63L209.5,399.83L209.76,400.01L210.02,400.18L210.28,400.33L210.54,400.45L210.8,400.55L211.06,400.61L211.32,400.66L211.58,400.71L211.84,400.75L212.1,400.78L212.36,400.8L212.62,400.78L212.88,400.64L213.14,400.37L213.4,400.01L213.66,399.59L213.92,399.15L214.18,398.64L214.43,397.92L214.69,397.06L214.95,396.16L215.21,395.29L215.47,394.56L215.73,393.94L215.99,393.33L216.25,392.75L216.51,392.24L216.77,391.84L217.03,391.58L217.29,391.38L217.55,391.21L217.81,391.08L218.07,391.01L218.33,391.01L218.59,391.06L218.85,391.16L219.11,391.29L219.37,391.43L219.63,391.59L219.89,391.74L220.15,391.88L220.41,392.02L220.67,392.18L220.92,392.34L221.18,392.51L221.44,392.68L221.7,392.86L221.96,393.04L222.22,393.23L222.48,393.41L222.74,393.6L223,393.79L223.26,393.98L223.52,394.16L223.78,394.35L224.04,394.53L224.3,394.71L224.56,394.89L224.82,395.08L225.08,395.26L225.34,395.45L225.6,395.64L225.86,395.83L226.12,396.02L226.38,396.21L226.64,396.39L226.9,396.58L227.16,396.77L227.41,396.95L227.67,397.13L227.93,397.31L228.19,397.48L228.45,397.65L228.71,397.82L228.97,397.98L229.23,398.14L229.49,398.31L229.75,398.47L230.01,398.64L230.27,398.8L230.53,398.96L230.79,399.12L231.05,399.27L231.31,399.42L231.57,399.57L231.83,399.7L232.09,399.83L232.35,399.95L232.61,400.06L232.87,400.16L233.13,400.24L233.39,400.33L233.65,400.41L233.9,400.49L234.16,400.57L234.42,400.65L234.68,400.72L234.94,400.78L235.2,400.83L235.46,400.87L235.72,400.89L235.98,400.9L236.24,400.87L236.5,400.77L236.76,400.61L237.02,400.41L237.28,400.19L237.54,399.94L237.8,399.69L238.06,399.44L238.32,399.14L238.58,398.78L238.84,398.38L239.1,397.96L239.36,397.56L239.62,397.2L239.88,396.91L240.14,396.69L240.39,396.49L240.65,396.29L240.91,396.12L241.17,395.97L241.43,395.86L241.69,395.81L241.95,395.8L242.21,395.83L242.47,395.87L242.73,395.92L242.99,395.99L243.25,396.07L243.51,396.15L243.77,396.23L244.03,396.31L244.29,396.4L244.55,396.51L244.81,396.63L245.07,396.76L245.33,396.9L245.59,397.05L245.85,397.19L246.11,397.34L246.37,397.48L246.63,397.62L246.88,397.75L247.14,397.86L247.4,397.98L247.66,398.09L247.92,398.2L248.18,398.31L248.44,398.41L248.7,398.52L248.96,398.62L249.22,398.72L249.48,398.81L249.74,398.91L250,399" stroke="#86181e" stroke-width="1.4"/>
<path d="M94.5,331L94.76,331.05L95.02,331.1L95.28,331.14L95.54,331.19L95.8,331.24L96.06,331.29L96.32,331.34L96.58,331.39L96.84,331.44L97.1,331.49L97.36,331.53L97.62,331.58L97.87,331.63L98.13,331.68L98.39,331.73L98.65,331.78L98.91,331.83L99.17,331.88L99.43,331.93L99.69,331.98L99.95,332.03L100.21,332.08L100.47,332.13L100.73,332.17L100.99,332.22L101.25,332.27L101.51,332.32L101.77,332.37L102.03,332.42L102.29,332.47L102.55,332.52L102.81,332.57L103.07,332.62L103.33,332.67L103.59,332.72L103.85,332.78L104.11,332.83L104.36,332.88L104.62,332.93L104.88,332.98L105.14,333.03L105.4,333.08L105.66,333.13L105.92,333.18L106.18,333.23L106.44,333.29L106.7,333.34L106.96,333.39L107.22,333.45L107.48,333.5L107.74,333.55L108,333.61L108.26,333.66L108.52,333.71L108.78,333.77L109.04,333.82L109.3,333.87L109.56,333.93L109.82,333.98L110.08,334.03L110.34,334.09L110.6,334.14L110.85,334.19L111.11,334.25L111.37,334.3L111.63,334.35L111.89,334.4L112.15,334.46L112.41,334.51L112.67,334.56L112.93,334.61L113.19,334.66L113.45,334.71L113.71,334.76L113.97,334.81L114.23,334.86L114.49,334.91L114.75,334.95L115.01,335L115.27,335.05L115.53,335.09L115.79,335.13L116.05,335.17L116.31,335.2L116.57,335.24L116.83,335.28L117.09,335.31L117.34,335.34L117.6,335.38L117.86,335.41L118.12,335.45L118.38,335.48L118.64,335.52L118.9,335.56L119.16,335.6L119.42,335.65L119.68,335.7L119.94,335.75L120.2,335.8L120.46,335.86L120.72,335.93L120.98,335.99L121.24,336.08L121.5,336.18L121.76,336.31L122.02,336.45L122.28,336.61L122.54,336.79L122.8,336.99L123.06,337.19L123.32,337.41L123.58,337.63L123.83,337.87L124.09,338.1L124.35,338.34L124.61,338.59L124.87,338.83L125.13,339.07L125.39,339.31L125.65,339.54L125.91,339.77L126.17,339.99L126.43,340.19L126.69,340.39L126.95,340.57L127.21,340.74L127.47,340.91L127.73,341.08L127.99,341.26L128.25,341.43L128.51,341.6L128.77,341.78L129.03,341.95L129.29,342.12L129.55,342.29L129.81,342.45L130.07,342.61L130.32,342.77L130.58,342.92L130.84,343.06L131.1,343.2L131.36,343.34L131.62,343.47L131.88,343.58L132.14,343.7L132.4,343.8L132.66,343.89L132.92,343.98L133.18,344.05L133.44,344.12L133.7,344.19L133.96,344.25L134.22,344.31L134.48,344.37L134.74,344.43L135,344.48L135.26,344.53L135.52,344.58L135.78,344.63L136.04,344.67L136.3,344.72L136.56,344.76L136.81,344.8L137.07,344.85L137.33,344.89L137.59,344.93L137.85,344.98L138.11,345.02L138.37,345.06L138.63,345.09L138.89,345.13L139.15,345.16L139.41,345.18L139.67,345.21L139.93,345.24L140.19,345.27L140.45,345.3L140.71,345.34L140.97,345.38L141.23,345.42L141.49,345.48L141.75,345.53L142.01,345.6L142.27,345.71L142.53,345.87L142.79,346.09L143.05,346.36L143.3,346.68L143.56,347.04L143.82,347.45L144.08,347.89L144.34,348.37L144.6,348.88L144.86,349.41L145.12,349.97L145.38,350.55L145.64,351.15L145.9,351.76L146.16,352.41L146.42,353.21L146.68,354.14L146.94,355.19L147.2,356.33L147.46,357.54L147.72,358.8L147.98,360.08L148.24,361.38L148.5,362.65L148.76,363.89L149.02,365.07L149.28,366.24L149.54,367.44L149.79,368.66L150.05,369.87L150.31,371.07L150.57,372.22L150.83,373.33L151.09,374.37L151.35,375.41L151.61,376.44L151.87,377.46L152.13,378.43L152.39,379.32L152.65,380.12L152.91,380.8L153.17,381.36L153.43,381.87L153.69,382.35L153.95,382.8L154.21,383.22L154.47,383.61L154.73,383.98L154.99,384.32L155.25,384.64L155.51,384.95L155.77,385.24L156.03,385.53L156.28,385.81L156.54,386.1L156.8,386.38L157.06,386.66L157.32,386.93L157.58,387.18L157.84,387.4L158.1,387.6L158.36,387.77L158.62,387.89L158.88,387.98L159.14,388.02L159.4,388.05L159.66,388.09L159.92,388.12L160.18,388.15L160.44,388.17L160.7,388.2L160.96,388.22L161.22,388.24L161.48,388.25L161.74,388.27L162,388.28L162.26,388.29L162.52,388.3L162.77,388.3L163.03,388.3L163.29,388.29L163.55,388.28L163.81,388.26L164.07,388.23L164.33,388.2L164.59,388.17L164.85,388.14L165.11,388.1L165.37,388.07L165.63,388.05L165.89,388.02L166.15,388.01L166.41,388L166.67,388.05L166.93,388.32L167.19,388.75L167.45,389.28L167.71,389.83L167.97,390.35L168.23,390.75L168.49,390.97L168.75,390.94L169.01,390.58L169.26,389.94L169.52,389.08L169.78,388.07L170.04,386.24L170.3,382.95L170.56,378.58L170.82,373.54L171.08,368.21L171.34,362.98L171.6,358.15L171.86,353.2L172.12,348L172.38,342.66L172.64,337.26L172.9,331.88L173.16,326.61L173.42,321.54L173.68,316.66L173.94,311.76L174.2,306.88L174.46,302.09L174.72,297.45L174.98,293.02L175.24,288.87L175.49,285.07L175.75,281.47L176.01,277.93L176.27,274.51L176.53,271.28L176.79,268.3L177.05,265.64L177.31,263.37L177.57,261.53L177.83,259.86L178.09,258.29L178.35,256.88L178.61,255.68L178.87,254.74L179.13,254.11L179.39,253.75L179.65,253.45L179.91,253.18L180.17,252.95L180.43,252.78L180.69,252.66L180.95,252.6L181.21,252.59L181.47,252.58L181.73,252.57L181.98,252.56L182.24,252.55L182.5,252.54L182.76,252.54L183.02,252.53L183.28,252.53L183.54,252.52L183.8,252.52L184.06,252.51L184.32,252.51L184.58,252.51L184.84,252.5L185.1,252.5L185.36,252.5L185.62,252.5L185.88,252.5L186.14,252.5L186.4,252.5L186.66,252.5L186.92,252.5L187.18,252.5L187.44,252.51L187.7,252.51L187.96,252.51L188.22,252.52L188.47,252.52L188.73,252.53L188.99,252.54L189.25,252.55L189.51,252.56L189.77,252.57L190.03,252.58L190.29,252.59L190.55,252.61L190.81,252.75L191.07,253.04L191.33,253.46L191.59,253.98L191.85,254.94L192.11,256.63L192.37,258.84L192.63,261.34L192.89,263.92L193.15,266.5L193.41,269.54L193.67,272.88L193.93,276.3L194.19,279.57L194.45,282.47L194.71,284.99L194.96,287.5L195.22,289.89L195.48,292.02L195.74,293.77L196,295.01L196.26,295.94L196.52,296.77L196.78,297.49L197.04,298.05L197.3,298.44L197.56,298.63L197.82,298.74L198.08,298.84L198.34,298.93L198.6,299.01L198.86,299.07L199.12,299.12L199.38,299.16L199.64,299.19L199.9,299.2L200.16,299.2L200.42,299.2L200.68,299.19L200.94,299.19L201.2,299.18L201.45,299.18L201.71,299.17L201.97,299.16L202.23,299.15L202.49,299.14L202.75,299.12L203.01,299.11L203.27,299.1L203.53,299.08L203.79,299.07L204.05,299.06L204.31,299.04L204.57,299.03L204.83,299.01L205.09,298.99L205.35,298.98L205.61,298.96L205.87,298.94L206.13,298.92L206.39,298.9L206.65,298.87L206.91,298.85L207.17,298.82L207.43,298.8L207.69,298.77L207.94,298.74L208.2,298.7L208.46,298.67L208.72,298.64L208.98,298.6L209.24,298.56L209.5,298.5L209.76,298.43L210.02,298.36L210.28,298.29L210.54,298.24L210.8,298.21L211.06,298.2L211.32,298.25L211.58,298.36L211.84,298.51L212.1,298.71L212.36,298.92L212.62,299.15L212.88,299.39L213.14,299.63L213.4,299.92L213.66,300.27L213.92,300.65L214.18,301.07L214.43,301.5L214.69,301.95L214.95,302.4L215.21,302.84L215.47,303.25L215.73,303.64L215.99,303.99L216.25,304.32L216.51,304.65L216.77,304.97L217.03,305.3L217.29,305.61L217.55,305.91L217.81,306.2L218.07,306.47L218.33,306.71L218.59,306.92L218.85,307.11L219.11,307.26L219.37,307.41L219.63,307.55L219.89,307.69L220.15,307.81L220.41,307.9L220.67,307.97L220.92,308L221.18,308L221.44,308L221.7,308L221.96,308L222.22,308L222.48,308L222.74,308L223,308L223.26,308L223.52,308L223.78,308L224.04,308L224.3,308L224.56,308L224.82,308L225.08,308L225.34,308L225.6,308L225.86,308L226.12,308L226.38,308L226.64,308L226.9,308L227.16,308L227.41,308L227.67,308L227.93,308L228.19,308L228.45,308L228.71,307.99L228.97,307.99L229.23,307.98L229.49,307.98L229.75,307.97L230.01,307.96L230.27,307.95L230.53,307.94L230.79,307.93L231.05,307.92L231.31,307.91L231.57,307.9L231.83,307.89L232.09,307.88L232.35,307.86L232.61,307.85L232.87,307.84L233.13,307.84L233.39,307.83L233.65,307.82L233.9,307.81L234.16,307.81L234.42,307.8L234.68,307.8L234.94,307.8L235.2,307.8L235.46,307.81L235.72,307.83L235.98,307.86L236.24,307.89L236.5,307.92L236.76,307.96L237.02,308L237.28,308.06L237.54,308.16L237.8,308.27L238.06,308.41L238.32,308.56L238.58,308.72L238.84,308.88L239.1,309.04L239.36,309.19L239.62,309.33L239.88,309.45L240.14,309.55L240.39,309.65L240.65,309.75L240.91,309.84L241.17,309.94L241.43,310.03L241.69,310.12L241.95,310.21L242.21,310.29L242.47,310.37L242.73,310.44L242.99,310.51L243.25,310.57L243.51,310.62L243.77,310.67L244.03,310.7L244.29,310.74L244.55,310.77L244.81,310.81L245.07,310.84L245.33,310.87L245.59,310.9L245.85,310.93L246.11,310.96L246.37,310.99L246.63,311.02L246.88,311.04L247.14,311.06L247.4,311.09L247.66,311.11L247.92,311.13L248.18,311.14L248.44,311.16L248.7,311.17L248.96,311.18L249.22,311.19L249.48,311.19L249.74,311.2L250,311.2" stroke="#1c1c8c" stroke-width="1.5"/>
<path d="M94.5,330.6L94.76,330.62L95.02,330.64L95.28,330.67L95.54,330.69L95.8,330.71L96.06,330.74L96.32,330.76L96.58,330.79L96.84,330.82L97.1,330.85L97.36,330.88L97.62,330.91L97.87,330.94L98.13,330.97L98.39,331L98.65,331.03L98.91,331.07L99.17,331.1L99.43,331.13L99.69,331.17L99.95,331.21L100.21,331.24L100.47,331.28L100.73,331.32L100.99,331.35L101.25,331.39L101.51,331.43L101.77,331.47L102.03,331.51L102.29,331.55L102.55,331.59L102.81,331.63L103.07,331.68L103.33,331.72L103.59,331.76L103.85,331.8L104.11,331.85L104.36,331.89L104.62,331.94L104.88,331.98L105.14,332.03L105.4,332.07L105.66,332.12L105.92,332.17L106.18,332.23L106.44,332.28L106.7,332.34L106.96,332.4L107.22,332.46L107.48,332.53L107.74,332.59L108,332.66L108.26,332.73L108.52,332.79L108.78,332.86L109.04,332.93L109.3,333L109.56,333.07L109.82,333.14L110.08,333.21L110.34,333.28L110.6,333.35L110.85,333.42L111.11,333.49L111.37,333.56L111.63,333.63L111.89,333.7L112.15,333.77L112.41,333.83L112.67,333.9L112.93,333.96L113.19,334.02L113.45,334.08L113.71,334.14L113.97,334.2L114.23,334.25L114.49,334.3L114.75,334.35L115.01,334.4L115.27,334.45L115.53,334.5L115.79,334.54L116.05,334.59L116.31,334.63L116.57,334.68L116.83,334.72L117.09,334.77L117.34,334.81L117.6,334.84L117.86,334.88L118.12,334.91L118.38,334.94L118.64,334.97L118.9,334.99L119.16,335.01L119.42,335.03L119.68,335.04L119.94,335.05L120.2,335.07L120.46,335.07L120.72,335.08L120.98,335.09L121.24,335.1L121.5,335.11L121.76,335.12L122.02,335.13L122.28,335.15L122.54,335.16L122.8,335.18L123.06,335.21L123.32,335.24L123.58,335.3L123.83,335.38L124.09,335.48L124.35,335.59L124.61,335.72L124.87,335.87L125.13,336.02L125.39,336.19L125.65,336.37L125.91,336.56L126.17,336.75L126.43,336.95L126.69,337.16L126.95,337.37L127.21,337.58L127.47,337.79L127.73,338.01L127.99,338.22L128.25,338.43L128.51,338.63L128.77,338.83L129.03,339.02L129.29,339.22L129.55,339.43L129.81,339.66L130.07,339.9L130.32,340.14L130.58,340.39L130.84,340.65L131.1,340.91L131.36,341.16L131.62,341.42L131.88,341.67L132.14,341.91L132.4,342.14L132.66,342.36L132.92,342.56L133.18,342.75L133.44,342.91L133.7,343.06L133.96,343.18L134.22,343.29L134.48,343.38L134.74,343.47L135,343.55L135.26,343.63L135.52,343.7L135.78,343.77L136.04,343.84L136.3,343.9L136.56,343.96L136.81,344.02L137.07,344.08L137.33,344.14L137.59,344.2L137.85,344.26L138.11,344.33L138.37,344.39L138.63,344.44L138.89,344.49L139.15,344.54L139.41,344.59L139.67,344.64L139.93,344.69L140.19,344.75L140.45,344.82L140.71,344.9L140.97,344.99L141.23,345.1L141.49,345.27L141.75,345.47L142.01,345.71L142.27,345.97L142.53,346.27L142.79,346.59L143.05,346.92L143.3,347.27L143.56,347.62L143.82,347.98L144.08,348.34L144.34,348.68L144.6,349.02L144.86,349.34L145.12,349.64L145.38,349.93L145.64,350.21L145.9,350.5L146.16,350.78L146.42,351.07L146.68,351.36L146.94,351.65L147.2,351.96L147.46,352.28L147.72,352.62L147.98,352.97L148.24,353.32L148.5,353.68L148.76,354.05L149.02,354.48L149.28,354.98L149.54,355.59L149.79,356.51L150.05,357.75L150.31,359.19L150.57,360.71L150.83,362.16L151.09,363.44L151.35,364.67L151.61,365.88L151.87,367.08L152.13,368.26L152.39,369.41L152.65,370.54L152.91,371.63L153.17,372.69L153.43,373.75L153.69,374.78L153.95,375.8L154.21,376.78L154.47,377.72L154.73,378.62L154.99,379.46L155.25,380.28L155.51,381.12L155.77,381.96L156.03,382.8L156.28,383.61L156.54,384.38L156.8,385.1L157.06,385.75L157.32,386.31L157.58,386.79L157.84,387.14L158.1,387.38L158.36,387.59L158.62,387.79L158.88,387.98L159.14,388.15L159.4,388.31L159.66,388.45L159.92,388.57L160.18,388.66L160.44,388.73L160.7,388.78L160.96,388.8L161.22,388.8L161.48,388.78L161.74,388.76L162,388.72L162.26,388.68L162.52,388.62L162.77,388.56L163.03,388.5L163.29,388.42L163.55,388.35L163.81,388.26L164.07,388.17L164.33,388.06L164.59,387.91L164.85,387.72L165.11,387.5L165.37,387.25L165.63,386.97L165.89,386.65L166.15,386.28L166.41,385.8L166.67,385.21L166.93,384.48L167.19,383.62L167.45,382.62L167.71,381.48L167.97,380.18L168.23,378.39L168.49,375.68L168.75,372.24L169.01,368.28L169.26,363.99L169.52,359.58L169.78,354.57L170.04,348.73L170.3,342.37L170.56,335.78L170.82,329.27L171.08,323.06L171.34,316.6L171.6,309.93L171.86,303.4L172.12,297.33L172.38,292.07L172.64,287.79L172.9,283.88L173.16,280.24L173.42,276.87L173.68,273.78L173.94,270.99L174.2,268.5L174.46,266.33L174.72,264.4L174.98,262.58L175.24,260.89L175.49,259.33L175.75,257.94L176.01,256.73L176.27,255.71L176.53,254.91L176.79,254.19L177.05,253.51L177.31,252.89L177.57,252.38L177.83,252.01L178.09,251.82L178.35,251.83L178.61,252.01L178.87,252.3L179.13,252.64L179.39,252.97L179.65,253.24L179.91,253.39L180.17,253.39L180.43,253.34L180.69,253.26L180.95,253.17L181.21,253.06L181.47,252.96L181.73,252.87L181.98,252.8L182.24,252.75L182.5,252.71L182.76,252.66L183.02,252.61L183.28,252.57L183.54,252.53L183.8,252.49L184.06,252.45L184.32,252.41L184.58,252.38L184.84,252.36L185.1,252.34L185.36,252.32L185.62,252.31L185.88,252.3L186.14,252.3L186.4,252.3L186.66,252.31L186.92,252.32L187.18,252.33L187.44,252.35L187.7,252.37L187.96,252.39L188.22,252.42L188.47,252.45L188.73,252.48L188.99,252.52L189.25,252.56L189.51,252.6L189.77,252.73L190.03,252.98L190.29,253.35L190.55,253.81L190.81,254.34L191.07,254.94L191.33,255.57L191.59,256.25L191.85,257.15L192.11,258.29L192.37,259.61L192.63,261.05L192.89,262.55L193.15,264.06L193.41,265.51L193.67,266.88L193.93,268.3L194.19,269.74L194.45,271.19L194.71,272.66L194.96,274.1L195.22,275.53L195.48,276.92L195.74,278.3L196,279.7L196.26,281.1L196.52,282.48L196.78,283.81L197.04,285.06L197.3,286.21L197.56,287.23L197.82,288.2L198.08,289.15L198.34,290.07L198.6,290.94L198.86,291.76L199.12,292.52L199.38,293.21L199.64,293.81L199.9,294.32L200.16,294.75L200.42,295.16L200.68,295.55L200.94,295.92L201.2,296.26L201.45,296.58L201.71,296.87L201.97,297.13L202.23,297.36L202.49,297.55L202.75,297.7L203.01,297.8L203.27,297.89L203.53,297.97L203.79,298.05L204.05,298.12L204.31,298.18L204.57,298.24L204.83,298.29L205.09,298.33L205.35,298.36L205.61,298.39L205.87,298.4L206.13,298.4L206.39,298.38L206.65,298.36L206.91,298.32L207.17,298.28L207.43,298.23L207.69,298.17L207.94,298.11L208.2,298.05L208.46,298L208.72,297.94L208.98,297.9L209.24,297.86L209.5,297.83L209.76,297.81L210.02,297.8L210.28,297.81L210.54,297.84L210.8,297.88L211.06,297.94L211.32,298L211.58,298.08L211.84,298.16L212.1,298.25L212.36,298.35L212.62,298.45L212.88,298.59L213.14,298.76L213.4,298.97L213.66,299.19L213.92,299.44L214.18,299.7L214.43,299.96L214.69,300.21L214.95,300.46L215.21,300.7L215.47,300.96L215.73,301.23L215.99,301.5L216.25,301.78L216.51,302.06L216.77,302.34L217.03,302.61L217.29,302.87L217.55,303.12L217.81,303.35L218.07,303.55L218.33,303.76L218.59,303.97L218.85,304.17L219.11,304.38L219.37,304.58L219.63,304.78L219.89,304.97L220.15,305.15L220.41,305.32L220.67,305.47L220.92,305.62L221.18,305.74L221.44,305.85L221.7,305.93L221.96,305.99L222.22,306.04L222.48,306.08L222.74,306.13L223,306.17L223.26,306.21L223.52,306.25L223.78,306.29L224.04,306.32L224.3,306.36L224.56,306.39L224.82,306.42L225.08,306.44L225.34,306.47L225.6,306.49L225.86,306.51L226.12,306.53L226.38,306.55L226.64,306.56L226.9,306.58L227.16,306.59L227.41,306.59L227.67,306.6L227.93,306.6L228.19,306.6L228.45,306.6L228.71,306.59L228.97,306.58L229.23,306.57L229.49,306.55L229.75,306.54L230.01,306.52L230.27,306.5L230.53,306.48L230.79,306.47L231.05,306.45L231.31,306.43L231.57,306.41L231.83,306.39L232.09,306.37L232.35,306.36L232.61,306.34L232.87,306.33L233.13,306.32L233.39,306.31L233.65,306.3L233.9,306.3L234.16,306.3L234.42,306.3L234.68,306.31L234.94,306.32L235.2,306.34L235.46,306.35L235.72,306.37L235.98,306.39L236.24,306.42L236.5,306.44L236.76,306.47L237.02,306.5L237.28,306.55L237.54,306.63L237.8,306.74L238.06,306.87L238.32,307.01L238.58,307.16L238.84,307.32L239.1,307.49L239.36,307.65L239.62,307.8L239.88,307.94L240.14,308.07L240.39,308.19L240.65,308.33L240.91,308.46L241.17,308.6L241.43,308.74L241.69,308.87L241.95,309.01L242.21,309.14L242.47,309.26L242.73,309.38L242.99,309.48L243.25,309.58L243.51,309.67L243.77,309.75L244.03,309.81L244.29,309.86L244.55,309.92L244.81,309.97L245.07,310.02L245.33,310.07L245.59,310.12L245.85,310.17L246.11,310.22L246.37,310.26L246.63,310.3L246.88,310.34L247.14,310.38L247.4,310.42L247.66,310.45L247.92,310.48L248.18,310.51L248.44,310.53L248.7,310.55L248.96,310.57L249.22,310.58L249.48,310.59L249.74,310.6L250,310.6" stroke="#ef9d38" stroke-width="1.6"/>
</g>
<rect x="68.4" y="239.7" width="181.9" height="162.6" fill="none" stroke="#505050" stroke-width="1.05"/>
<line x1="81.2" y1="402.3" x2="81.2" y2="399.9" stroke="#505050" stroke-width="1" />
<line x1="94.2" y1="402.3" x2="94.2" y2="398.7" stroke="#505050" stroke-width="1" />
<line x1="107.2" y1="402.3" x2="107.2" y2="399.9" stroke="#505050" stroke-width="1" />
<line x1="120.2" y1="402.3" x2="120.2" y2="398.7" stroke="#505050" stroke-width="1" />
<line x1="133.2" y1="402.3" x2="133.2" y2="399.9" stroke="#505050" stroke-width="1" />
<line x1="146.2" y1="402.3" x2="146.2" y2="398.7" stroke="#505050" stroke-width="1" />
<line x1="159.2" y1="402.3" x2="159.2" y2="399.9" stroke="#505050" stroke-width="1" />
<line x1="172.2" y1="402.3" x2="172.2" y2="398.7" stroke="#505050" stroke-width="1" />
<line x1="185.2" y1="402.3" x2="185.2" y2="399.9" stroke="#505050" stroke-width="1" />
<line x1="198.2" y1="402.3" x2="198.2" y2="398.7" stroke="#505050" stroke-width="1" />
<line x1="211.2" y1="402.3" x2="211.2" y2="399.9" stroke="#505050" stroke-width="1" />
<line x1="224.2" y1="402.3" x2="224.2" y2="398.7" stroke="#505050" stroke-width="1" />
<line x1="237.2" y1="402.3" x2="237.2" y2="399.9" stroke="#505050" stroke-width="1" />
<line x1="68.4" y1="375.2" x2="70.8" y2="375.2" stroke="#505050" stroke-width="1" />
<line x1="68.4" y1="348.1" x2="72" y2="348.1" stroke="#505050" stroke-width="1" />
<line x1="68.4" y1="321" x2="70.8" y2="321" stroke="#505050" stroke-width="1" />
<line x1="68.4" y1="293.9" x2="72" y2="293.9" stroke="#505050" stroke-width="1" />
<line x1="68.4" y1="266.8" x2="70.8" y2="266.8" stroke="#505050" stroke-width="1" />
<line x1="250.3" y1="388.75" x2="247.9" y2="388.75" stroke="#505050" stroke-width="1" />
<line x1="250.3" y1="375.2" x2="246.7" y2="375.2" stroke="#505050" stroke-width="1" />
<line x1="250.3" y1="361.65" x2="247.9" y2="361.65" stroke="#505050" stroke-width="1" />
<line x1="250.3" y1="348.1" x2="246.7" y2="348.1" stroke="#505050" stroke-width="1" />
<line x1="250.3" y1="334.55" x2="247.9" y2="334.55" stroke="#505050" stroke-width="1" />
<line x1="250.3" y1="321" x2="246.7" y2="321" stroke="#505050" stroke-width="1" />
<line x1="250.3" y1="307.45" x2="247.9" y2="307.45" stroke="#505050" stroke-width="1" />
<line x1="250.3" y1="293.9" x2="246.7" y2="293.9" stroke="#505050" stroke-width="1" />
<line x1="250.3" y1="280.35" x2="247.9" y2="280.35" stroke="#505050" stroke-width="1" />
<line x1="250.3" y1="266.8" x2="246.7" y2="266.8" stroke="#505050" stroke-width="1" />
<line x1="250.3" y1="253.25" x2="247.9" y2="253.25" stroke="#505050" stroke-width="1" />
<text transform="translate(68.2,415.4) scale(1.09,1)" font-size="10" text-anchor="middle" fill="#1a1a1a" >-80</text>
<text transform="translate(94.2,415.4) scale(1.09,1)" font-size="10" text-anchor="middle" fill="#1a1a1a" >-60</text>
<text transform="translate(120.2,415.4) scale(1.09,1)" font-size="10" text-anchor="middle" fill="#1a1a1a" >-40</text>
<text transform="translate(146.2,415.4) scale(1.09,1)" font-size="10" text-anchor="middle" fill="#1a1a1a" >-20</text>
<text transform="translate(172.2,415.4) scale(1.09,1)" font-size="10" text-anchor="middle" fill="#1a1a1a" >0</text>
<text transform="translate(198.2,415.4) scale(1.09,1)" font-size="10" text-anchor="middle" fill="#1a1a1a" >20</text>
<text transform="translate(224.2,415.4) scale(1.09,1)" font-size="10" text-anchor="middle" fill="#1a1a1a" >40</text>
<text transform="translate(250.2,415.4) scale(1.09,1)" font-size="10" text-anchor="middle" fill="#1a1a1a" >60</text>
<text transform="translate(64.6,405.8) scale(1.09,1)" font-size="10" text-anchor="end" fill="#1a1a1a" >0</text>
<text transform="translate(64.6,351.6) scale(1.09,1)" font-size="10" text-anchor="end" fill="#1a1a1a" >10</text>
<text transform="translate(64.6,297.4) scale(1.09,1)" font-size="10" text-anchor="end" fill="#1a1a1a" >20</text>
<text transform="translate(64.6,243.2) scale(1.09,1)" font-size="10" text-anchor="end" fill="#1a1a1a" >30</text>
<text transform="translate(254,243.2) scale(1.09,1)" font-size="10" text-anchor="start" fill="#1a1a1a" >15</text>
<text transform="translate(254,270.3) scale(1.09,1)" font-size="10" text-anchor="start" fill="#1a1a1a" >10</text>
<text transform="translate(254,297.4) scale(1.09,1)" font-size="10" text-anchor="start" fill="#1a1a1a" >5</text>
<text transform="translate(254,324.5) scale(1.09,1)" font-size="10" text-anchor="start" fill="#1a1a1a" >0</text>
<text transform="translate(254,351.6) scale(1.09,1)" font-size="10" text-anchor="start" fill="#1a1a1a" >-5</text>
<text transform="translate(254,378.7) scale(1.09,1)" font-size="10" text-anchor="start" fill="#1a1a1a" >-10</text>
<text transform="translate(254,405.8) scale(1.09,1)" font-size="10" text-anchor="start" fill="#1a1a1a" >-15</text>
<text transform="translate(36.6,327.9) rotate(-90)" font-size="14" text-anchor="middle" fill="#1a1a1a"><tspan font-style="italic">R</tspan><tspan font-size="9" dy="3">xx</tspan><tspan dy="-3"> (kΩ)</tspan></text>
<text transform="translate(277.2,331.3) rotate(90)" font-size="14" text-anchor="middle" fill="#1a1a1a"><tspan font-style="italic">R</tspan><tspan font-size="9" dy="3">xy</tspan><tspan dy="-3"> (kΩ)</tspan></text>
<text x="160.8" y="436.1" font-size="13.5" text-anchor="middle" fill="#1a1a1a"><tspan font-style="italic">V</tspan><tspan font-size="9" dy="4">g</tspan><tspan dy="-4"> (V)</tspan></text>
<text x="7.2" y="218.8" font-size="18" text-anchor="start" fill="#1a1a1a" style="stroke:#1a1a1a;stroke-width:0.4px;stroke-opacity:0.7">c</text>
<line x1="204.2" y1="252.5" x2="228.7" y2="252.5" stroke="#1c1c8c" stroke-width="1.6" />
<line x1="204.2" y1="268.7" x2="228.7" y2="268.7" stroke="#ef9d38" stroke-width="1.6" />
<line x1="204.2" y1="360.5" x2="228.7" y2="360.5" stroke="#2a9d9f" stroke-width="1.6" />
<line x1="204.2" y1="376.7" x2="228.7" y2="376.7" stroke="#86181e" stroke-width="1.6" />
<text transform="translate(231.2,256.1) scale(1.2,1)" font-size="9.4" fill="#1a1a1a">R<tspan font-size="5.6" dy="3.6">42</tspan></text>
<text transform="translate(231.2,272.2) scale(1.2,1)" font-size="9.4" fill="#1a1a1a">R<tspan font-size="5.6" dy="3.6">53</tspan></text>
<text transform="translate(231.2,364.2) scale(1.2,1)" font-size="9.4" fill="#1a1a1a">R<tspan font-size="5.6" dy="3.6">23</tspan></text>
<text transform="translate(231.2,380.1) scale(1.2,1)" font-size="9.4" fill="#1a1a1a">R<tspan font-size="5.6" dy="3.6">45</tspan></text>
<text x="183.7" y="250.7" font-size="10" text-anchor="middle" fill="#1a1a1a" >2</text>
<text x="206.8" y="295" font-size="10" text-anchor="middle" fill="#1a1a1a" >6</text>
<text x="230.5" y="305.4" font-size="10" text-anchor="middle" fill="#1a1a1a" >10</text>
<text x="116.8" y="332.4" font-size="10.5" text-anchor="middle" fill="#1a1a1a" font-family="Liberation Serif, Times New Roman, serif">−10</text>
<text x="139.5" y="342.2" font-size="10" text-anchor="middle" fill="#1a1a1a" >−6</text>
<text x="161.5" y="382.2" font-size="10" text-anchor="middle" fill="#1a1a1a" >−2</text>
<path d="M226.5,318.9H238" stroke="#f28c20" stroke-width="1.4" fill="none"/><path d="M244.2,318.9L236.8,315.7V322.1Z" fill="#f28c20"/>
<path d="M109.5,384.2H96" stroke="#8a1218" stroke-width="1.4" fill="none"/><path d="M90.8,384.2L98.6,381.2V387.2Z" fill="#8a1218"/>
<rect x="82.5" y="243.8" width="73.2" height="64.9" fill="#fff" stroke="#666" stroke-width="0.6"/>
<clipPath id="ic"><rect x="82.5" y="243.8" width="73.2" height="64.9"/></clipPath>
<path d="M82.5,294.42L82.73,294.42L82.96,294.42L83.19,294.42L83.41,294.42L83.64,294.42L83.87,294.42L84.1,294.42L84.33,294.42L84.56,294.42L84.78,294.42L85.01,294.42L85.24,294.42L85.47,294.42L85.7,294.42L85.93,294.42L86.16,294.42L86.38,294.42L86.61,294.42L86.84,294.42L87.07,294.42L87.3,294.42L87.53,294.42L87.76,294.42L87.98,294.42L88.21,294.42L88.44,294.42L88.67,294.42L88.9,294.42L89.13,294.42L89.35,294.42L89.58,294.42L89.81,294.42L90.04,294.42L90.27,294.42L90.5,294.42L90.73,294.42L90.95,294.42L91.18,294.42L91.41,294.42L91.64,294.42L91.87,294.42L92.1,294.42L92.33,294.42L92.55,294.42L92.78,294.42L93.01,294.42L93.24,294.42L93.47,294.42L93.7,294.42L93.92,294.42L94.15,294.42L94.38,294.42L94.61,294.42L94.84,294.42L95.07,294.42L95.3,294.42L95.52,294.42L95.75,294.42L95.98,294.42L96.21,294.42L96.44,294.42L96.67,294.42L96.9,294.42L97.12,294.42L97.35,294.42L97.58,294.42L97.81,294.42L98.04,294.42L98.27,294.42L98.49,294.39L98.72,294.35L98.95,294.3L99.18,294.23L99.41,294.16L99.64,294.07L99.87,293.88L100.09,293.6L100.32,293.31L100.55,293.07L100.78,292.96L101.01,293.1L101.24,293.52L101.47,294.11L101.69,294.78L101.92,295.44L102.15,295.98L102.38,296.31L102.61,296.35L102.84,296.14L103.06,295.76L103.29,295.23L103.52,294.6L103.75,293.92L103.98,293.22L104.21,292.54L104.44,291.92L104.66,291.41L104.89,291.04L105.12,290.86L105.35,290.92L105.58,291.25L105.81,291.81L106.03,292.55L106.26,293.42L106.49,294.37L106.72,295.35L106.95,296.32L107.18,297.23L107.41,298.03L107.63,298.67L107.86,299.11L108.09,299.29L108.32,299.16L108.55,298.73L108.78,298.03L109.01,297.13L109.23,296.05L109.46,294.85L109.69,293.58L109.92,292.28L110.15,291L110.38,289.78L110.6,288.68L110.83,287.73L111.06,286.99L111.29,286.5L111.52,286.31L111.75,286.42L111.98,286.75L112.2,287.3L112.43,288.02L112.66,288.91L112.89,289.92L113.12,291.04L113.35,292.24L113.58,293.5L113.8,294.79L114.03,296.08L114.26,297.35L114.49,298.58L114.72,299.74L114.95,300.81L115.17,301.75L115.4,302.55L115.63,303.17L115.86,303.61L116.09,303.82L116.32,303.79L116.55,303.56L116.77,303.14L117,302.54L117.23,301.79L117.46,300.91L117.69,299.89L117.92,298.77L118.15,297.56L118.37,296.27L118.6,294.92L118.83,293.53L119.06,292.11L119.29,290.68L119.52,289.26L119.74,287.85L119.97,286.49L120.2,285.17L120.43,283.92L120.66,282.76L120.89,281.7L121.12,280.76L121.34,279.95L121.57,279.29L121.8,278.79L122.03,278.48L122.26,278.36L122.49,278.43L122.72,278.65L122.94,279.02L123.17,279.53L123.4,280.15L123.63,280.9L123.86,281.74L124.09,282.69L124.31,283.71L124.54,284.82L124.77,285.98L125,287.21L125.23,288.48L125.46,289.78L125.69,291.11L125.91,292.46L126.14,293.81L126.37,295.16L126.6,296.49L126.83,297.8L127.06,299.08L127.29,300.32L127.51,301.5L127.74,302.62L127.97,303.66L128.2,304.62L128.43,305.49L128.66,306.26L128.88,306.91L129.11,307.45L129.34,307.85L129.57,308.11L129.8,308.21L130.03,308.16L130.26,307.97L130.48,307.63L130.71,307.17L130.94,306.59L131.17,305.9L131.4,305.1L131.63,304.21L131.85,303.23L132.08,302.17L132.31,301.05L132.54,299.86L132.77,298.62L133,297.34L133.23,296.02L133.45,294.67L133.68,293.31L133.91,291.93L134.14,290.55L134.37,289.18L134.6,287.82L134.83,286.48L135.05,285.18L135.28,283.91L135.51,282.7L135.74,281.54L135.97,280.45L136.2,279.42L136.42,278.41L136.65,277.36L136.88,276.29L137.11,275.19L137.34,274.09L137.57,272.98L137.8,271.88L138.02,270.8L138.25,269.74L138.48,268.72L138.71,267.74L138.94,266.81L139.17,265.94L139.4,265.15L139.62,264.43L139.85,263.81L140.08,263.28L140.31,262.8L140.54,262.32L140.77,261.85L140.99,261.4L141.22,260.99L141.45,260.61L141.68,260.29L141.91,260.02L142.14,259.83L142.37,259.72L142.59,259.7L142.82,259.72L143.05,259.77L143.28,259.84L143.51,259.93L143.74,260.03L143.97,260.16L144.19,260.3L144.42,260.45L144.65,260.61L144.88,260.77L145.11,260.96L145.34,261.23L145.56,261.57L145.79,261.98L146.02,262.44L146.25,262.96L146.48,263.51L146.71,264.1L146.94,264.71L147.16,265.33L147.39,265.96L147.62,266.59L147.85,267.21L148.08,267.83L148.31,268.47L148.54,269.14L148.76,269.84L148.99,270.56L149.22,271.3L149.45,272.06L149.68,272.85L149.91,273.65L150.13,274.48L150.36,275.32L150.59,276.18L150.82,277.06" fill="none" stroke="#a5a55c" stroke-width="0.85" clip-path="url(#ic)"/>
<path d="M82.5,308.7L82.83,308.43L83.17,308.16L83.5,307.89L83.83,307.61L84.17,307.34L84.5,307.07L84.83,306.79L85.17,306.52L85.5,306.25L85.84,305.97L86.17,305.69L86.5,305.42L86.84,305.14L87.17,304.87L87.5,304.59L87.84,304.31L88.17,304.03L88.5,303.75L88.84,303.48L89.17,303.2L89.5,302.92L89.84,302.64L90.17,302.36L90.5,302.07L90.84,301.79L91.17,301.51L91.5,301.23L91.84,300.95L92.17,300.66L92.51,300.38L92.84,300.1L93.17,299.82L93.51,299.55L93.84,299.27L94.17,299L94.51,298.73L94.84,298.45L95.17,298.18L95.51,297.91L95.84,297.64L96.17,297.37L96.51,297.09L96.84,296.82L97.17,296.54L97.51,296.27L97.84,295.99L98.17,295.71L98.51,295.42L98.84,295.13L99.18,294.84L99.51,294.54L99.84,294.24L100.18,293.94L100.51,293.63L100.84,293.32L101.18,293L101.51,292.67L101.84,292.34L102.18,292.01L102.51,291.66L102.84,291.31L103.18,290.94L103.51,290.56L103.84,290.17L104.18,289.77L104.51,289.36L104.85,288.94L105.18,288.51L105.51,288.08L105.85,287.64L106.18,287.2L106.51,286.76L106.85,286.32L107.18,285.87L107.51,285.42L107.85,284.98L108.18,284.54L108.51,284.1L108.85,283.66L109.18,283.23L109.51,282.81L109.85,282.39L110.18,281.95L110.51,281.48L110.85,281L111.18,280.52L111.52,280.06L111.85,279.64L112.18,279.28L112.52,278.99L112.85,278.8L113.18,278.66L113.52,278.54L113.85,278.44L114.18,278.34L114.52,278.25L114.85,278.16L115.18,278.07L115.52,278L115.85,277.93L116.18,277.86L116.52,277.77L116.85,277.67L117.18,277.53L117.52,277.3L117.85,276.96L118.19,276.52L118.52,276.03L118.85,275.49L119.19,274.94L119.52,274.41L119.85,273.87L120.19,273.26L120.52,272.61L120.85,271.93L121.19,271.25L121.52,270.58L121.85,269.96L122.19,269.41L122.52,268.94L122.85,268.53L123.19,268.14L123.52,267.8L123.85,267.55L124.19,267.4L124.52,267.28L124.86,267.19L125.19,267.11L125.52,267.03L125.86,266.96L126.19,266.89L126.52,266.82L126.86,266.74L127.19,266.68L127.52,266.62L127.86,266.57L128.19,266.5L128.52,266.43L128.86,266.35L129.19,266.25L129.52,266.11L129.86,265.88L130.19,265.56L130.53,265.17L130.86,264.75L131.19,264.3L131.53,263.85L131.86,263.42L132.19,263.03L132.53,262.69L132.86,262.38L133.19,262.07L133.53,261.78L133.86,261.49L134.19,261.21L134.53,260.91L134.86,260.61L135.19,260.29L135.53,259.95L135.86,259.59L136.19,259.2L136.53,258.76L136.86,258.28L137.2,257.76L137.53,257.21L137.86,256.63L138.2,256.03L138.53,255.42L138.86,254.8L139.2,254.18L139.53,253.49L139.86,252.76L140.2,252.01L140.53,251.29L140.86,250.63L141.2,250.07L141.53,249.56L141.86,249.09L142.2,248.64L142.53,248.22L142.86,247.81L143.2,247.41L143.53,247.01L143.87,246.62L144.2,246.24L144.53,245.88L144.87,245.53L145.2,245.17L145.53,244.82L145.87,244.45L146.2,244.07L146.53,243.67L146.87,243.26L147.2,242.83L147.53,242.4L147.87,241.95L148.2,241.49L148.53,241.03L148.87,240.56" fill="none" stroke="#92141f" stroke-width="0.8" clip-path="url(#ic)"/>
<path d="M100.18,293.94L100.51,293.63L100.84,293.32L101.18,293L101.51,292.67L101.84,292.34L102.18,292.01L102.51,291.66L102.84,291.31L103.18,290.94L103.51,290.56L103.84,290.17L104.18,289.77L104.51,289.36L104.85,288.94L105.18,288.51L105.51,288.08L105.85,287.64L106.18,287.2L106.51,286.76L106.85,286.32L107.18,285.87L107.51,285.42L107.85,284.98L108.18,284.54L108.51,284.1L108.85,283.66L109.18,283.23L109.51,282.81L109.85,282.39L110.18,281.95L110.51,281.48L110.85,281L111.18,280.52L111.52,280.06L111.85,279.64L112.18,279.28L112.52,278.99L112.85,278.8L113.18,278.66L113.52,278.54L113.85,278.44L114.18,278.34L114.52,278.25L114.85,278.16L115.18,278.07L115.52,278L115.85,277.93L116.18,277.86L116.52,277.77L116.85,277.67L117.18,277.53L117.52,277.3L117.85,276.96L118.19,276.52L118.52,276.03L118.85,275.49L119.19,274.94L119.52,274.41L119.85,273.87L120.19,273.26L120.52,272.61L120.85,271.93L121.19,271.25L121.52,270.58L121.85,269.96L122.19,269.41L122.52,268.94L122.85,268.53L123.19,268.14L123.52,267.8L123.85,267.55L124.19,267.4L124.52,267.28L124.86,267.19L125.19,267.11L125.52,267.03L125.86,266.96L126.19,266.89L126.52,266.82L126.86,266.74L127.19,266.68L127.52,266.62L127.86,266.57L128.19,266.5L128.52,266.43L128.86,266.35L129.19,266.25L129.52,266.11L129.86,265.88L130.19,265.56L130.53,265.17L130.86,264.75L131.19,264.3L131.53,263.85L131.86,263.42L132.19,263.03L132.53,262.69L132.86,262.38L133.19,262.07L133.53,261.78L133.86,261.49L134.19,261.21L134.53,260.91L134.86,260.61L135.19,260.29L135.53,259.95L135.86,259.59L136.19,259.2L136.53,258.76L136.86,258.28L137.2,257.76L137.53,257.21L137.86,256.63L138.2,256.03L138.53,255.42L138.86,254.8L139.2,254.18L139.53,253.49L139.86,252.76L140.2,252.01L140.53,251.29L140.86,250.63L141.2,250.07L141.53,249.56L141.86,249.09L142.2,248.64L142.53,248.22L142.86,247.81L143.2,247.41L143.53,247.01L143.87,246.62L144.2,246.24L144.53,245.88L144.87,245.53L145.2,245.17L145.53,244.82L145.87,244.45L146.2,244.07L146.53,243.67L146.87,243.26L147.2,242.83L147.53,242.4L147.87,241.95L148.2,241.49L148.53,241.03L148.87,240.56" fill="none" stroke="#92141f" stroke-width="1.5" stroke-linecap="round" clip-path="url(#ic)"/>
<line x1="82.5" y1="308.7" x2="82.5" y2="307.2" stroke="#666" stroke-width="0.5" />
<text x="82.5" y="314.3" font-size="5.6" text-anchor="middle" fill="#333" >0</text>
<line x1="106.9" y1="308.7" x2="106.9" y2="307.2" stroke="#666" stroke-width="0.5" />
<text x="106.9" y="314.3" font-size="5.6" text-anchor="middle" fill="#333" >5</text>
<line x1="131.3" y1="308.7" x2="131.3" y2="307.2" stroke="#666" stroke-width="0.5" />
<text x="131.3" y="314.3" font-size="5.6" text-anchor="middle" fill="#333" >10</text>
<line x1="155.7" y1="308.7" x2="155.7" y2="307.2" stroke="#666" stroke-width="0.5" />
<text x="155.7" y="314.3" font-size="5.6" text-anchor="middle" fill="#333" >15</text>
<line x1="155.7" y1="308.7" x2="154.2" y2="308.7" stroke="#666" stroke-width="0.5" />
<text x="157.2" y="310.7" font-size="5.6" text-anchor="start" fill="#333" >0</text>
<line x1="155.7" y1="292.48" x2="154.2" y2="292.48" stroke="#666" stroke-width="0.5" />
<text x="157.2" y="294.48" font-size="5.6" text-anchor="start" fill="#333" >1</text>
<line x1="155.7" y1="276.25" x2="154.2" y2="276.25" stroke="#666" stroke-width="0.5" />
<text x="157.2" y="278.25" font-size="5.6" text-anchor="start" fill="#333" >2</text>
<line x1="155.7" y1="260.02" x2="154.2" y2="260.02" stroke="#666" stroke-width="0.5" />
<text x="157.2" y="262.02" font-size="5.6" text-anchor="start" fill="#333" >3</text>
<line x1="155.7" y1="243.8" x2="154.2" y2="243.8" stroke="#666" stroke-width="0.5" />
<text x="157.2" y="245.8" font-size="5.6" text-anchor="start" fill="#333" >4</text>
<line x1="82.5" y1="308.7" x2="84" y2="308.7" stroke="#666" stroke-width="0.5" />
<text x="80.8" y="310.7" font-size="5.6" text-anchor="end" fill="#333" >0</text>
<line x1="82.5" y1="276.25" x2="84" y2="276.25" stroke="#666" stroke-width="0.5" />
<text x="80.8" y="278.25" font-size="5.6" text-anchor="end" fill="#333" >2</text>
<line x1="82.5" y1="243.8" x2="84" y2="243.8" stroke="#666" stroke-width="0.5" />
<text x="80.8" y="245.8" font-size="5.6" text-anchor="end" fill="#333" >4</text>
<text x="85.8" y="254.3" font-size="7" fill="#222"><tspan font-style="italic">V</tspan><tspan font-size="4.5" dy="1.4">bg</tspan><tspan dy="-1.4"> = −30 V</tspan></text>
<text x="119" y="320.6" font-size="7" text-anchor="middle" fill="#222"><tspan font-style="italic">B</tspan> (T)</text>
<text transform="translate(75.6,277.6) rotate(-90)" font-size="7" text-anchor="middle" fill="#222"><tspan font-style="italic">R</tspan><tspan font-size="4.5" dy="1.4">xy</tspan><tspan dy="-1.4"> (kΩ)</tspan></text>
<text transform="translate(163.4,277.6) rotate(90)" font-size="7" text-anchor="middle" fill="#222"><tspan font-style="italic">R</tspan><tspan font-size="4.5" dy="1.4">xx</tspan><tspan dy="-1.4"> (kΩ)</tspan></text>
<path d="M91.7,299.6H86" stroke="#a0182c" stroke-width="1" fill="none"/><path d="M82.8,299.6L86.6,297.8V301.4Z" fill="#a0182c"/>
<path d="M143.6,282H149.4" stroke="#a3a335" stroke-width="1" fill="none"/><path d="M152.8,282L149,280.2V283.8Z" fill="#a3a335"/>
</g>
<g id="pd">
<linearGradient id="cb" x1="0" y1="0" x2="0" y2="1"><stop offset="0" stop-color="#f88818"/><stop offset="0.03" stop-color="#f99020"/><stop offset="0.05" stop-color="#fa9928"/><stop offset="0.07" stop-color="#fba130"/><stop offset="0.1" stop-color="#fcaa38"/><stop offset="0.12" stop-color="#fcba45"/><stop offset="0.15" stop-color="#fccb52"/><stop offset="0.17" stop-color="#fbdd61"/><stop offset="0.2" stop-color="#faf070"/><stop offset="0.23" stop-color="#e5ea76"/><stop offset="0.25" stop-color="#d0e47d"/><stop offset="0.28" stop-color="#bbdc80"/><stop offset="0.3" stop-color="#a5d480"/><stop offset="0.33" stop-color="#90cb80"/><stop offset="0.35" stop-color="#79c180"/><stop offset="0.38" stop-color="#62b680"/><stop offset="0.4" stop-color="#4cac80"/><stop offset="0.42" stop-color="#40a682"/><stop offset="0.45" stop-color="#34a084"/><stop offset="0.47" stop-color="#289a86"/><stop offset="0.5" stop-color="#1c9488"/><stop offset="0.53" stop-color="#198f8b"/><stop offset="0.55" stop-color="#168a8f"/><stop offset="0.57" stop-color="#138592"/><stop offset="0.6" stop-color="#108096"/><stop offset="0.62" stop-color="#0e7da2"/><stop offset="0.65" stop-color="#0d7baf"/><stop offset="0.68" stop-color="#0b78bb"/><stop offset="0.7" stop-color="#0a76c8"/><stop offset="0.72" stop-color="#0971d7"/><stop offset="0.75" stop-color="#086de6"/><stop offset="0.78" stop-color="#0868f0"/><stop offset="0.8" stop-color="#0861ea"/><stop offset="0.82" stop-color="#0859e3"/><stop offset="0.85" stop-color="#084cd5"/><stop offset="0.88" stop-color="#083dc5"/><stop offset="0.9" stop-color="#082eb6"/><stop offset="0.93" stop-color="#0621a8"/><stop offset="0.95" stop-color="#04169a"/><stop offset="0.97" stop-color="#020b8d"/><stop offset="1" stop-color="#000080"/></linearGradient>
<rect x="510.2" y="247.8" width="13.4" height="154.2" fill="url(#cb)"/>
<text x="528.2" y="406" font-size="8.6" fill="#1a1a1a">10<tspan font-size="6" dy="-4.2">0</tspan></text>
<text x="528.2" y="375.2" font-size="8.6" fill="#1a1a1a">10<tspan font-size="6" dy="-4.2">1</tspan></text>
<text x="528.2" y="344.4" font-size="8.6" fill="#1a1a1a">10<tspan font-size="6" dy="-4.2">2</tspan></text>
<text x="528.2" y="313.6" font-size="8.6" fill="#1a1a1a">10<tspan font-size="6" dy="-4.2">3</tspan></text>
<text x="528.2" y="282.8" font-size="8.6" fill="#1a1a1a">10<tspan font-size="6" dy="-4.2">4</tspan></text>
<text x="528.2" y="252" font-size="8.6" fill="#1a1a1a">10<tspan font-size="6" dy="-4.2">5</tspan></text>
<text x="501.8" y="236.8" font-size="14" fill="#1a1a1a"><tspan font-style="italic">R</tspan><tspan font-size="9" dy="3">xx</tspan><tspan dy="-3"> (Ω)</tspan></text>
<line x1="414.38" y1="393.34" x2="350.2" y2="239.2" stroke="#fff" stroke-opacity="0.95" stroke-width="1.3" stroke-dasharray="5 3.7"/>
<line x1="415.7" y1="393.34" x2="379.7" y2="239.2" stroke="#fff" stroke-opacity="0.95" stroke-width="1.3" stroke-dasharray="5 3.7"/>
<line x1="416.9" y1="393.34" x2="406.2" y2="239.2" stroke="#fff" stroke-opacity="0.95" stroke-width="1.3" stroke-dasharray="5 3.7"/>
<line x1="418.08" y1="393.34" x2="432.6" y2="239.2" stroke="#fff" stroke-opacity="0.95" stroke-width="1.3" stroke-dasharray="5 3.7"/>
<line x1="419.34" y1="393.34" x2="460.6" y2="239.2" stroke="#fff" stroke-opacity="0.95" stroke-width="1.3" stroke-dasharray="5 3.7"/>
<line x1="420.62" y1="393.34" x2="489" y2="239.2" stroke="#fff" stroke-opacity="0.95" stroke-width="1.3" stroke-dasharray="5 3.7"/>
<circle cx="417.4" cy="400.2" r="1.3" fill="#fff" fill-opacity="0.9"/>
<line x1="325.6" y1="239.2" x2="325.6" y2="403" stroke="#505050" stroke-width="0.8" opacity="0.45"/>
<line x1="325.2" y1="402.7" x2="508.6" y2="402.7" stroke="#505050" stroke-width="0.8" opacity="0.45"/>
<line x1="325.8" y1="402.7" x2="322.4" y2="402.7" stroke="#505050" stroke-width="1" />
<line x1="325.8" y1="391.04" x2="323.6" y2="391.04" stroke="#505050" stroke-width="1" />
<line x1="325.8" y1="379.39" x2="322.4" y2="379.39" stroke="#505050" stroke-width="1" />
<line x1="325.8" y1="367.73" x2="323.6" y2="367.73" stroke="#505050" stroke-width="1" />
<line x1="325.8" y1="356.07" x2="322.4" y2="356.07" stroke="#505050" stroke-width="1" />
<line x1="325.8" y1="344.41" x2="323.6" y2="344.41" stroke="#505050" stroke-width="1" />
<line x1="325.8" y1="332.76" x2="322.4" y2="332.76" stroke="#505050" stroke-width="1" />
<line x1="325.8" y1="321.1" x2="323.6" y2="321.1" stroke="#505050" stroke-width="1" />
<line x1="325.8" y1="309.44" x2="322.4" y2="309.44" stroke="#505050" stroke-width="1" />
<line x1="325.8" y1="297.79" x2="323.6" y2="297.79" stroke="#505050" stroke-width="1" />
<line x1="325.8" y1="286.13" x2="322.4" y2="286.13" stroke="#505050" stroke-width="1" />
<line x1="325.8" y1="274.47" x2="323.6" y2="274.47" stroke="#505050" stroke-width="1" />
<line x1="325.8" y1="262.81" x2="322.4" y2="262.81" stroke="#505050" stroke-width="1" />
<line x1="325.8" y1="251.16" x2="323.6" y2="251.16" stroke="#505050" stroke-width="1" />
<line x1="325.8" y1="239.5" x2="322.4" y2="239.5" stroke="#505050" stroke-width="1" />
<line x1="325.92" y1="402.4" x2="325.92" y2="405.8" stroke="#505050" stroke-width="1" />
<line x1="341.15" y1="402.4" x2="341.15" y2="404.6" stroke="#505050" stroke-width="1" />
<line x1="356.38" y1="402.4" x2="356.38" y2="405.8" stroke="#505050" stroke-width="1" />
<line x1="371.61" y1="402.4" x2="371.61" y2="404.6" stroke="#505050" stroke-width="1" />
<line x1="386.84" y1="402.4" x2="386.84" y2="405.8" stroke="#505050" stroke-width="1" />
<line x1="402.07" y1="402.4" x2="402.07" y2="404.6" stroke="#505050" stroke-width="1" />
<line x1="417.3" y1="402.4" x2="417.3" y2="405.8" stroke="#505050" stroke-width="1" />
<line x1="432.53" y1="402.4" x2="432.53" y2="404.6" stroke="#505050" stroke-width="1" />
<line x1="447.76" y1="402.4" x2="447.76" y2="405.8" stroke="#505050" stroke-width="1" />
<line x1="462.99" y1="402.4" x2="462.99" y2="404.6" stroke="#505050" stroke-width="1" />
<line x1="478.22" y1="402.4" x2="478.22" y2="405.8" stroke="#505050" stroke-width="1" />
<line x1="493.45" y1="402.4" x2="493.45" y2="404.6" stroke="#505050" stroke-width="1" />
<line x1="508.68" y1="402.4" x2="508.68" y2="405.8" stroke="#505050" stroke-width="1" />
<text transform="translate(320,406.2) scale(1.09,1)" font-size="10" text-anchor="end" fill="#1a1a1a" >0</text>
<text transform="translate(320,382.89) scale(1.09,1)" font-size="10" text-anchor="end" fill="#1a1a1a" >2</text>
<text transform="translate(320,359.57) scale(1.09,1)" font-size="10" text-anchor="end" fill="#1a1a1a" >4</text>
<text transform="translate(320,336.26) scale(1.09,1)" font-size="10" text-anchor="end" fill="#1a1a1a" >6</text>
<text transform="translate(320,312.94) scale(1.09,1)" font-size="10" text-anchor="end" fill="#1a1a1a" >8</text>
<text transform="translate(320,289.63) scale(1.09,1)" font-size="10" text-anchor="end" fill="#1a1a1a" >10</text>
<text transform="translate(320,266.31) scale(1.09,1)" font-size="10" text-anchor="end" fill="#1a1a1a" >12</text>
<text transform="translate(320,243) scale(1.09,1)" font-size="10" text-anchor="end" fill="#1a1a1a" >14</text>
<text transform="translate(326.32,416) scale(1.09,1)" font-size="10" text-anchor="middle" fill="#1a1a1a" >-60</text>
<text transform="translate(356.78,416) scale(1.09,1)" font-size="10" text-anchor="middle" fill="#1a1a1a" >-40</text>
<text transform="translate(387.24,416) scale(1.09,1)" font-size="10" text-anchor="middle" fill="#1a1a1a" >-20</text>
<text transform="translate(417.7,416) scale(1.09,1)" font-size="10" text-anchor="middle" fill="#1a1a1a" >0</text>
<text transform="translate(448.16,416) scale(1.09,1)" font-size="10" text-anchor="middle" fill="#1a1a1a" >20</text>
<text transform="translate(478.62,416) scale(1.09,1)" font-size="10" text-anchor="middle" fill="#1a1a1a" >40</text>
<text transform="translate(509.08,416) scale(1.09,1)" font-size="10" text-anchor="middle" fill="#1a1a1a" >60</text>
<text x="346.2" y="236.9" font-size="13.3" text-anchor="middle" fill="#1a1a1a" >−10</text>
<text x="375.4" y="236.9" font-size="13.3" text-anchor="middle" fill="#1a1a1a" >−6</text>
<text x="404" y="236.9" font-size="13.3" text-anchor="middle" fill="#1a1a1a" >−2</text>
<text x="433.5" y="236.9" font-size="13.3" text-anchor="middle" fill="#1a1a1a" >2</text>
<text x="458.5" y="236.9" font-size="13.3" text-anchor="middle" fill="#1a1a1a" >6</text>
<text x="484.5" y="236.9" font-size="13.3" text-anchor="middle" fill="#1a1a1a" >10</text>
<text transform="translate(307,327.2) rotate(-90)" font-size="14" text-anchor="middle" fill="#1a1a1a"><tspan font-style="italic">B</tspan> (T)</text>
<text x="418" y="436.2" font-size="13.5" text-anchor="middle" fill="#1a1a1a"><tspan font-style="italic">V</tspan><tspan font-size="9" dy="4">g</tspan><tspan dy="-4"> (V)</tspan></text>
<text x="282" y="218.8" font-size="18" text-anchor="start" fill="#1a1a1a" style="stroke:#1a1a1a;stroke-width:0.4px;stroke-opacity:0.7">d</text>
</g></svg>
</div>
</body></html>
